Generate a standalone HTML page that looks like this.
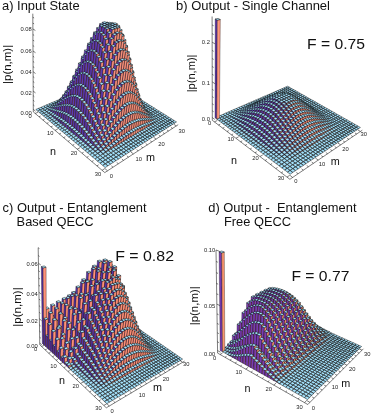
<!DOCTYPE html>
<html><head><meta charset="utf-8"><title>Figure</title>
<style>
html,body{margin:0;padding:0;background:#fff}
svg{display:block}
text{font-family:"Liberation Sans",Arial,sans-serif;fill:#111}
.tk text{fill:#222}
.t{fill:#a4e2fc}
.m{fill:#6546bc}
.n{fill:#f6917c}
.b path{stroke:#000;stroke-width:4.6;stroke-linejoin:round}
.b path.m,.b path.n{stroke-width:3.2}
.b path.ax{stroke:#111;stroke-width:5.5;fill:none}
#pa .m{fill:#5e3cb0}#pa .n{fill:#f7917b}
#pb .m{fill:#5f37a8}#pb .n{fill:#ff967d}
#pc .m{fill:#5834a8}#pc .n{fill:#ff9178}
#pd .m{fill:#783cb0}#pd .n{fill:#fa966e}
</style></head><body>
<svg width="374" height="415" viewBox="0 0 3740 4150">
<rect width="3740" height="4150" fill="#fff"/>
<g class="b">
<g id="pa">
<path class="ax" d="M333 1119 L1048 1726 M1048 1726 L1782 1247 M333 1119 L328 137 M351 1135 L379 1123 M1075 1708 L1049 1685 M390 1168 L406 1160 M1130 1672 L1114 1659 M429 1201 L445 1193 M1183 1637 L1167 1625 M468 1234 L485 1227 M1235 1604 L1219 1591 M509 1269 L526 1261 M1285 1571 L1269 1559 M550 1304 L578 1290 M1334 1539 L1308 1519 M593 1340 L609 1332 M1382 1508 L1366 1496 M636 1377 L653 1368 M1429 1478 L1413 1466 M681 1414 L697 1405 M1474 1448 L1458 1437 M726 1453 L743 1444 M1518 1419 L1503 1408 M772 1492 L800 1477 M1562 1391 L1536 1373 M820 1532 L836 1523 M1604 1363 L1588 1353 M868 1574 L885 1564 M1645 1336 L1630 1326 M918 1616 L935 1606 M1686 1310 L1670 1300 M969 1659 L986 1648 M1725 1284 L1710 1274 M1021 1703 L1049 1685 M1763 1259 L1738 1243 M333 1093 L355 1112 M332 1048 L344 1058 M332 1003 L344 1013 M332 957 L343 967 M332 911 L355 929 M331 864 L343 873 M331 816 L343 825 M331 767 L343 776 M331 717 L355 735 M330 667 L343 675 M330 615 L342 624 M330 563 L342 572 M330 510 L355 527 M329 456 L342 465 M329 402 L342 410 M329 346 L341 354 M328 289 L354 305 M328 231 L341 239 M328 173 L341 180"/>
<path class="t" d="M593 995l17 14 23-10-17-13zM568 1006l17 13 23-10-17-13zM543 1017l17 13 23-10-17-13zM517 1027l18 14 23-10-17-14zM491 1038l18 14 24-10-18-14zM465 1049l18 15 24-11-18-14zM439 1061l17 14 25-11-18-14zM412 1072l17 14 25-10-17-14zM385 1084l17 14 25-11-17-14zM358 1095l17 15 25-11-17-15z"/>
<path class="m" d="M562 1031l18 14 0-9-18-13z"/>
<path class="t" d="M562 1023l18 13 23-10-18-13z"/>
<path class="m" d="M536 1042l18 14 0-7-18-14z"/>
<path class="t" d="M536 1035l18 14 24-10-18-14z"/>
<path class="m" d="M510 1053l18 15 0-6-18-14z"/>
<path class="t" d="M510 1048l18 14 24-10-18-14z"/>
<path class="m" d="M484 1065l18 14 0-3-18-15z"/>
<path class="t" d="M484 1061l18 15 24-11-18-14zM458 1074l17 15 25-11-18-14zM431 1087l18 14 24-10-17-15zM404 1099l18 15 25-11-18-14zM377 1111l17 15 25-11-17-15zM583 1008l18 14 23-11-18-13z"/>
<path class="m" d="M555 1058l18 14 2-31-18-14z"/>
<path class="t" d="M557 1027l18 14 23-10-18-14z"/>
<path class="m" d="M530 1069l18 14 0-23-18-14z"/>
<path class="t" d="M530 1046l18 14 24-10-18-14z"/>
<path class="m" d="M503 1080l18 15 1-15-18-15z"/>
<path class="t" d="M504 1065l18 15 24-11-18-14z"/>
<path class="m" d="M477 1092l18 14 0-8-18-14z"/>
<path class="n" d="M495 1106l24-11 0-8-24 11z"/>
<path class="t" d="M477 1084l18 14 24-11-17-14z"/>
<path class="m" d="M450 1103l18 15 0-3-18-14z"/>
<path class="t" d="M450 1101l18 14 25-11-18-14zM423 1115l18 15 25-11-18-15zM396 1127l18 15 25-11-18-15z"/>
<path class="m" d="M601 1062l18 14 3-80-18-14z"/>
<path class="t" d="M604 982l18 14 24-10-19-14z"/>
<path class="m" d="M575 1073l18 14 3-63-19-14z"/>
<path class="t" d="M577 1010l19 14 23-10-18-14z"/>
<path class="m" d="M549 1084l18 15 2-47-18-14z"/>
<path class="t" d="M551 1038l18 14 24-10-18-14z"/>
<path class="m" d="M523 1096l18 14 1-30-18-15z"/>
<path class="n" d="M541 1110l24-11 1-30-24 11z"/>
<path class="t" d="M524 1065l18 15 24-11-18-14z"/>
<path class="m" d="M496 1107l19 15 0-16-18-15z"/>
<path class="n" d="M515 1122l24-11 0-16-24 11z"/>
<path class="t" d="M497 1091l18 15 24-11-18-15z"/>
<path class="m" d="M470 1119l18 15 0-5-18-15z"/>
<path class="t" d="M470 1114l18 15 25-11-19-15zM443 1131l18 15 25-11-18-15zM415 1143l18 15 25-11-18-15z"/>
<path class="m" d="M620 1077l19 14 6-128-19-14z"/>
<path class="t" d="M626 949l19 14 24-10-19-14z"/>
<path class="m" d="M595 1088l18 15 4-101-18-14z"/>
<path class="t" d="M599 988l18 14 24-11-18-14z"/>
<path class="m" d="M569 1100l18 14 3-74-19-14z"/>
<path class="n" d="M587 1114l24-10 3-74-24 10z"/>
<path class="t" d="M571 1026l19 14 24-10-18-14z"/>
<path class="m" d="M543 1112l18 14 2-49-19-14z"/>
<path class="n" d="M561 1126l24-11 2-48-24 10z"/>
<path class="t" d="M544 1063l19 14 24-10-19-15z"/>
<path class="m" d="M516 1123l18 15 1-26-18-15z"/>
<path class="t" d="M517 1097l18 15 25-11-19-15z"/>
<path class="m" d="M489 1135l19 15 0-8-18-15z"/>
<path class="n" d="M508 1150l24-11 1-9-25 12z"/>
<path class="t" d="M490 1127l18 15 25-12-19-14zM462 1147l18 15 25-11-18-15zM435 1160l18 15 25-12-18-15z"/>
<path class="m" d="M666 1081l18 14 12-218-19-14z"/>
<path class="t" d="M677 863l19 14 24-10-19-13z"/>
<path class="m" d="M640 1092l19 15 9-181-19-14z"/>
<path class="t" d="M649 912l19 14 24-10-19-14z"/>
<path class="m" d="M615 1104l18 14 7-142-19-14z"/>
<path class="n" d="M633 1118l24-10 7-142-24 10z"/>
<path class="t" d="M621 962l19 14 24-10-19-14z"/>
<path class="m" d="M589 1116l18 14 5-104-19-15z"/>
<path class="n" d="M607 1130l24-11 5-104-24 11z"/>
<path class="t" d="M593 1011l19 15 24-11-19-14z"/>
<path class="m" d="M563 1127l18 15 3-68-19-15z"/>
<path class="n" d="M581 1142l24-11 3-68-24 11z"/>
<path class="t" d="M565 1059l19 15 24-11-19-15z"/>
<path class="m" d="M536 1139l18 15 2-37-19-14z"/>
<path class="n" d="M554 1154l25-11 1-37-24 11z"/>
<path class="t" d="M537 1103l19 14 24-11-18-14z"/>
<path class="m" d="M509 1151l19 16 0-13-19-15z"/>
<path class="n" d="M528 1167l24-12 1-12-25 11z"/>
<path class="t" d="M509 1139l19 15 25-11-19-15zM482 1164l18 15 25-11-18-16zM455 1176l18 16 25-12-18-15z"/>
<path class="m" d="M711 1085l19 14 21-330-20-14z"/>
<path class="t" d="M731 755l20 14 24-10-20-13z"/>
<path class="m" d="M686 1096l19 15 16-285-19-14z"/>
<path class="t" d="M702 812l19 14 25-10-20-14z"/>
<path class="m" d="M660 1108l19 14 13-236-19-14z"/>
<path class="t" d="M673 872l19 14 24-10-19-13z"/>
<path class="m" d="M635 1120l19 14 9-185-19-14z"/>
<path class="t" d="M644 935l19 14 24-10-19-15z"/>
<path class="m" d="M609 1132l19 14 6-135-19-15z"/>
<path class="n" d="M628 1146l23-11 7-135-24 11z"/>
<path class="t" d="M615 996l19 15 24-11-19-14z"/>
<path class="m" d="M583 1143l18 15 4-88-19-15z"/>
<path class="n" d="M601 1158l24-11 5-88-25 11z"/>
<path class="t" d="M586 1055l19 15 25-11-19-15z"/>
<path class="m" d="M556 1156l19 15 2-48-19-15z"/>
<path class="n" d="M575 1171l24-12 2-47-24 11z"/>
<path class="t" d="M558 1108l19 15 24-11-19-15z"/>
<path class="m" d="M529 1168l19 15 0-16-18-15z"/>
<path class="t" d="M530 1152l18 15 25-11-19-15zM502 1180l19 16 25-12-19-15zM475 1193l18 15 25-11-18-16zM787 632l21 13 24-9-21-13z"/>
<path class="m" d="M731 1100l19 15 28-409-21-13z"/>
<path class="t" d="M757 693l21 13 24-9-21-13z"/>
<path class="m" d="M706 1112l19 15 22-353-20-13z"/>
<path class="t" d="M727 761l20 13 25-9-21-14z"/>
<path class="m" d="M681 1124l19 14 17-291-20-13z"/>
<path class="n" d="M700 1138l23-11 18-289-24 9z"/>
<path class="t" d="M697 834l20 13 24-9-20-14z"/>
<path class="m" d="M655 1136l19 14 12-228-19-14z"/>
<path class="n" d="M674 1150l24-11 13-227-25 10z"/>
<path class="t" d="M667 908l19 14 25-10-20-14z"/>
<path class="m" d="M629 1148l19 15 8-167-19-14z"/>
<path class="n" d="M648 1163l24-12 9-165-25 10z"/>
<path class="t" d="M637 982l19 14 25-10-20-15z"/>
<path class="m" d="M603 1160l19 15 5-109-20-15z"/>
<path class="n" d="M622 1175l24-11 5-109-24 11z"/>
<path class="t" d="M607 1051l20 15 24-11-19-15z"/>
<path class="m" d="M576 1172l19 15 3-58-19-15z"/>
<path class="n" d="M595 1187l25-11 2-58-24 11z"/>
<path class="t" d="M579 1114l19 15 24-11-19-15z"/>
<path class="m" d="M549 1184l19 16 1-19-19-16z"/>
<path class="n" d="M568 1200l25-12 1-19-25 12z"/>
<path class="t" d="M550 1165l19 16 25-12-19-15zM522 1197l19 16 25-12-19-16zM495 1210l19 15 25-11-19-16z"/>
<path class="m" d="M777 1104l19 15 41-543-22-13z"/>
<path class="t" d="M815 563l22 13 24-9-21-13z"/>
<path class="m" d="M752 1116l19 15 34-484-21-13z"/>
<path class="t" d="M784 634l21 13 25-9-21-13z"/>
<path class="m" d="M727 1128l19 14 28-415-21-14z"/>
<path class="t" d="M753 713l21 14 24-10-20-13z"/>
<path class="m" d="M701 1140l19 14 22-342-20-14z"/>
<path class="n" d="M720 1154l24-11 23-341-25 10z"/>
<path class="t" d="M722 798l20 14 25-10-21-14z"/>
<path class="m" d="M676 1152l19 15 15-269-20-14z"/>
<path class="n" d="M695 1167l23-12 17-267-25 10z"/>
<path class="t" d="M690 884l20 14 25-10-20-14z"/>
<path class="m" d="M650 1164l19 15 10-195-19-15z"/>
<path class="n" d="M669 1179l24-11 11-195-25 11z"/>
<path class="t" d="M660 969l19 15 25-11-20-15z"/>
<path class="m" d="M623 1176l20 15 6-127-20-15z"/>
<path class="n" d="M643 1191l24-11 6-127-24 11z"/>
<path class="t" d="M629 1049l20 15 24-11-19-15z"/>
<path class="m" d="M597 1189l19 15 3-68-19-16z"/>
<path class="n" d="M616 1204l24-12 4-68-25 12z"/>
<path class="t" d="M600 1120l19 16 25-12-20-15z"/>
<path class="m" d="M570 1201l19 16 1-23-19-15z"/>
<path class="n" d="M589 1217l25-12 1-22-25 11z"/>
<path class="t" d="M571 1179l19 15 25-11-19-16zM543 1214l19 16 25-12-19-16zM515 1227l19 16 26-12-19-16z"/>
<path class="m" d="M822 1108l19 15 56-676-21-13z"/>
<path class="t" d="M876 434l21 13 25-8-22-13z"/>
<path class="m" d="M797 1120l20 15 49-620-22-13z"/>
<path class="t" d="M844 502l22 13 24-9-21-12z"/>
<path class="m" d="M773 1132l19 15 41-552-21-13z"/>
<path class="n" d="M792 1147l23-11 43-550-25 9z"/>
<path class="t" d="M812 582l21 13 25-9-21-13z"/>
<path class="m" d="M748 1144l19 15 33-474-21-13z"/>
<path class="n" d="M767 1159l23-12 35-471-25 9z"/>
<path class="t" d="M779 672l21 13 25-9-21-13z"/>
<path class="m" d="M722 1156l19 15 26-390-20-14z"/>
<path class="n" d="M741 1171l24-11 27-389-25 10z"/>
<path class="t" d="M747 767l20 14 25-10-21-14z"/>
<path class="m" d="M696 1168l20 15 19-304-21-15z"/>
<path class="n" d="M716 1183l23-11 20-304-24 11z"/>
<path class="t" d="M714 864l21 15 24-11-20-14z"/>
<path class="m" d="M670 1180l20 16 12-222-20-15z"/>
<path class="n" d="M690 1196l24-12 13-220-25 10z"/>
<path class="t" d="M682 959l20 15 25-10-20-15z"/>
<path class="m" d="M644 1193l19 15 8-144-20-15z"/>
<path class="n" d="M663 1208l25-11 8-144-25 11z"/>
<path class="t" d="M651 1049l20 15 25-11-20-15z"/>
<path class="m" d="M618 1205l19 16 4-77-20-16z"/>
<path class="n" d="M637 1221l24-12 4-77-24 12z"/>
<path class="t" d="M621 1128l20 16 24-12-19-15z"/>
<path class="m" d="M591 1218l19 16 1-26-19-15z"/>
<path class="n" d="M610 1234l25-12 1-25-25 11z"/>
<path class="t" d="M592 1193l19 15 25-11-19-16zM563 1231l20 16 25-12-20-16zM536 1244l19 16 25-12-19-16z"/>
<path class="m" d="M867 1112l20 15 72-793-23-13z"/>
<path class="t" d="M936 321l23 13 25-8-23-12z"/>
<path class="m" d="M843 1124l20 15 65-748-23-13z"/>
<path class="n" d="M863 1139l22-11 67-745-24 8z"/>
<path class="t" d="M905 378l23 13 24-8-22-12z"/>
<path class="m" d="M818 1136l20 15 57-686-22-13z"/>
<path class="n" d="M838 1151l23-11 59-683-25 8z"/>
<path class="t" d="M873 452l22 13 25-8-22-13z"/>
<path class="m" d="M794 1148l19 15 48-609-22-13z"/>
<path class="n" d="M813 1163l23-11 50-607-25 9z"/>
<path class="t" d="M839 541l22 13 25-9-22-13z"/>
<path class="m" d="M769 1160l19 15 39-522-22-14z"/>
<path class="n" d="M788 1175l23-11 41-520-25 9z"/>
<path class="t" d="M805 639l22 14 25-9-22-14z"/>
<path class="m" d="M743 1172l20 15 30-429-21-14z"/>
<path class="n" d="M763 1187l23-11 32-428-25 10z"/>
<path class="t" d="M772 744l21 14 25-10-21-14z"/>
<path class="m" d="M717 1184l20 16 22-335-21-15z"/>
<path class="n" d="M737 1200l24-12 23-333-25 10z"/>
<path class="t" d="M738 850l21 15 25-10-21-15z"/>
<path class="m" d="M691 1197l20 15 15-243-21-15z"/>
<path class="n" d="M711 1212l24-11 16-242-25 10z"/>
<path class="t" d="M705 954l21 15 25-10-21-15z"/>
<path class="m" d="M665 1209l20 16 9-158-20-15z"/>
<path class="n" d="M685 1225l24-12 9-157-24 11z"/>
<path class="t" d="M674 1052l20 15 24-11-20-15z"/>
<path class="m" d="M639 1222l19 16 4-85-19-15z"/>
<path class="n" d="M658 1238l24-12 5-84-25 11z"/>
<path class="t" d="M643 1138l19 15 25-11-20-16z"/>
<path class="m" d="M612 1235l19 16 1-28-19-15z"/>
<path class="n" d="M631 1251l25-12 1-28-25 12z"/>
<path class="t" d="M613 1208l19 15 25-12-19-15zM584 1248l20 16 25-12-20-16zM557 1262l19 16 26-13-20-16zM1049 227l23 12 24-7-23-12z"/>
<path class="m" d="M936 1105l20 14 91-884-23-12z"/>
<path class="n" d="M956 1119l22-10 93-881-24 7z"/>
<path class="t" d="M1024 223l23 12 24-7-23-12z"/>
<path class="m" d="M913 1116l19 15 87-881-23-12z"/>
<path class="t" d="M996 238l23 12 25-7-23-12z"/>
<path class="m" d="M889 1128l19 15 81-853-23-12z"/>
<path class="n" d="M908 1143l22-11 84-849-25 7z"/>
<path class="t" d="M966 278l23 12 25-7-23-12z"/>
<path class="m" d="M864 1140l20 15 73-804-23-12z"/>
<path class="n" d="M884 1155l22-11 76-800-25 7z"/>
<path class="t" d="M934 339l23 12 25-7-23-13z"/>
<path class="m" d="M840 1152l19 15 64-736-22-13z"/>
<path class="n" d="M859 1167l23-11 66-733-25 8z"/>
<path class="t" d="M901 418l22 13 25-8-22-13z"/>
<path class="m" d="M815 1164l20 15 54-653-23-13z"/>
<path class="n" d="M835 1179l22-11 57-650-25 8z"/>
<path class="t" d="M866 513l23 13 25-8-23-13z"/>
<path class="m" d="M790 1176l19 15 44-559-22-13z"/>
<path class="n" d="M809 1191l24-11 45-557-25 9z"/>
<path class="t" d="M831 619l22 13 25-9-21-13z"/>
<path class="m" d="M764 1188l20 16 34-459-21-15z"/>
<path class="n" d="M784 1204l23-12 36-457-25 10z"/>
<path class="t" d="M797 730l21 15 25-10-21-14z"/>
<path class="m" d="M739 1201l19 15 25-357-21-15z"/>
<path class="n" d="M758 1216l24-11 26-357-25 11z"/>
<path class="t" d="M762 844l21 15 25-11-21-14z"/>
<path class="m" d="M713 1214l19 15 17-259-20-15z"/>
<path class="n" d="M732 1229l24-12 18-258-25 11z"/>
<path class="t" d="M729 955l20 15 25-11-20-15z"/>
<path class="m" d="M686 1226l20 16 10-169-20-15z"/>
<path class="n" d="M706 1242l24-12 11-168-25 11z"/>
<path class="t" d="M696 1058l20 15 25-11-20-15z"/>
<path class="m" d="M660 1239l19 16 5-90-20-16z"/>
<path class="n" d="M679 1255l25-12 5-90-25 12z"/>
<path class="t" d="M664 1149l20 16 25-12-20-15z"/>
<path class="m" d="M633 1252l19 17 2-30-20-16z"/>
<path class="n" d="M652 1269l25-13 2-29-25 12z"/>
<path class="t" d="M634 1223l20 16 25-12-20-16zM605 1266l20 16 25-12-19-16zM578 1279l19 17 26-13-20-16zM1100 231l24 12 23-7-23-12z"/>
<path class="m" d="M981 1109l20 14 98-883-24-12z"/>
<path class="n" d="M1001 1123l21-10 101-880-24 7z"/>
<path class="t" d="M1075 228l24 12 24-7-24-11z"/>
<path class="m" d="M958 1120l20 15 94-887-23-12z"/>
<path class="n" d="M978 1135l21-11 98-883-25 7z"/>
<path class="t" d="M1049 236l23 12 25-7-24-12z"/>
<path class="m" d="M934 1132l20 15 92-891-24-12z"/>
<path class="n" d="M954 1147l22-11 94-887-24 7z"/>
<path class="t" d="M1022 244l24 12 24-7-23-12z"/>
<path class="m" d="M910 1144l20 15 88-891-23-12z"/>
<path class="n" d="M930 1159l22-11 91-887-25 7z"/>
<path class="t" d="M995 256l23 12 25-7-24-13z"/>
<path class="m" d="M886 1156l20 15 79-839-23-13z"/>
<path class="n" d="M906 1171l22-11 82-836-25 8z"/>
<path class="t" d="M962 319l23 13 25-8-23-12z"/>
<path class="m" d="M861 1168l20 15 70-768-23-13z"/>
<path class="n" d="M881 1183l23-11 72-765-25 8z"/>
<path class="t" d="M928 402l23 13 25-8-23-13z"/>
<path class="m" d="M836 1180l20 15 59-681-22-13z"/>
<path class="n" d="M856 1195l23-11 61-678-25 8z"/>
<path class="t" d="M893 501l22 13 25-8-22-13z"/>
<path class="m" d="M811 1193l20 15 48-583-22-14z"/>
<path class="n" d="M831 1208l23-12 50-580-25 9z"/>
<path class="t" d="M857 611l22 14 25-9-22-14z"/>
<path class="m" d="M786 1205l20 16 37-479-22-14z"/>
<path class="n" d="M806 1221l23-12 39-477-25 10z"/>
<path class="t" d="M821 728l22 14 25-10-22-14z"/>
<path class="m" d="M760 1218l20 15 27-372-21-15z"/>
<path class="n" d="M780 1233l24-11 29-372-26 11z"/>
<path class="t" d="M786 846l21 15 26-11-22-14z"/>
<path class="m" d="M734 1231l20 15 19-270-21-15z"/>
<path class="n" d="M754 1246l24-12 20-269-25 11z"/>
<path class="t" d="M752 961l21 15 25-11-21-15z"/>
<path class="m" d="M708 1244l20 15 11-175-21-16z"/>
<path class="n" d="M728 1259l24-12 12-174-25 11z"/>
<path class="t" d="M718 1068l21 16 25-11-21-16z"/>
<path class="m" d="M681 1257l20 16 6-94-21-16z"/>
<path class="n" d="M701 1273l24-12 7-94-25 12z"/>
<path class="t" d="M686 1163l21 16 25-12-21-16z"/>
<path class="m" d="M654 1270l20 16 2-30-20-17z"/>
<path class="n" d="M674 1286l25-12 2-31-25 13z"/>
<path class="t" d="M656 1239l20 17 25-13-20-16zM627 1283l20 17 25-13-20-16zM599 1297l20 17 25-13-19-17z"/>
<path class="m" d="M1026 1113l20 14 105-882-24-11z"/>
<path class="n" d="M1046 1127l21-10 107-879-23 7z"/>
<path class="t" d="M1127 234l24 11 23-7-23-11z"/>
<path class="m" d="M1003 1124l20 15 102-886-24-12z"/>
<path class="n" d="M1023 1139l21-11 105-882-24 7z"/>
<path class="t" d="M1101 241l24 12 24-7-24-12z"/>
<path class="m" d="M979 1136l20 15 99-890-24-12z"/>
<path class="n" d="M999 1151l22-11 101-886-24 7z"/>
<path class="t" d="M1074 249l24 12 24-7-23-12zM1048 257l23 12 25-7-24-12z"/>
<path class="m" d="M932 1160l20 15 92-898-23-12z"/>
<path class="n" d="M952 1175l22-11 95-894-25 7z"/>
<path class="t" d="M1021 265l23 12 25-7-24-13z"/>
<path class="m" d="M907 1172l21 15 84-853-24-13z"/>
<path class="n" d="M928 1187l22-11 87-850-25 8z"/>
<path class="t" d="M988 321l24 13 25-8-23-12z"/>
<path class="m" d="M883 1184l20 15 74-780-23-13z"/>
<path class="n" d="M903 1199l23-11 76-777-25 8z"/>
<path class="t" d="M954 406l23 13 25-8-23-13z"/>
<path class="m" d="M858 1197l20 15 63-692-23-13z"/>
<path class="n" d="M878 1212l23-12 65-689-25 9z"/>
<path class="t" d="M918 507l23 13 25-9-23-13z"/>
<path class="m" d="M833 1209l20 16 51-592-22-14z"/>
<path class="n" d="M853 1225l23-12 53-590-25 10z"/>
<path class="t" d="M882 619l22 14 25-10-22-14z"/>
<path class="m" d="M807 1222l21 16 40-486-23-15z"/>
<path class="n" d="M828 1238l23-12 42-484-25 10z"/>
<path class="t" d="M845 737l23 15 25-10-22-15z"/>
<path class="m" d="M782 1235l20 16 29-379-21-15z"/>
<path class="n" d="M802 1251l24-12 30-377-25 10z"/>
<path class="t" d="M810 857l21 15 25-10-21-15z"/>
<path class="m" d="M756 1248l20 16 20-274-21-16z"/>
<path class="n" d="M776 1264l24-12 21-273-25 11z"/>
<path class="t" d="M775 974l21 16 25-11-21-16z"/>
<path class="m" d="M729 1261l20 16 13-178-21-16z"/>
<path class="n" d="M749 1277l25-12 13-178-25 12z"/>
<path class="t" d="M741 1083l21 16 25-12-21-15z"/>
<path class="m" d="M703 1274l20 16 6-95-21-16z"/>
<path class="n" d="M723 1290l24-12 7-95-25 12z"/>
<path class="t" d="M708 1179l21 16 25-12-21-16z"/>
<path class="m" d="M676 1288l20 16 2-31-21-16z"/>
<path class="n" d="M696 1304l25-12 2-32-25 13z"/>
<path class="t" d="M677 1257l21 16 25-13-21-16zM648 1301l20 17 26-13-20-16zM621 1315l20 17 25-13-20-17z"/>
<path class="n" d="M1068 1143l21-11 110-873-23 7z"/>
<path class="t" d="M1152 254l24 12 23-7-24-12z"/>
<path class="m" d="M1025 1140l20 15 106-889-24-12z"/>
<path class="n" d="M1045 1155l21-11 109-885-24 7z"/>
<path class="t" d="M1127 254l24 12 24-7-24-12zM1100 262l24 12 25-7-24-12z"/>
<path class="m" d="M978 1164l20 15 100-897-25-12z"/>
<path class="t" d="M1073 270l25 12 24-7-24-12z"/>
<path class="m" d="M954 1176l20 15 96-899-24-12z"/>
<path class="n" d="M974 1191l22-11 99-896-25 8z"/>
<path class="t" d="M1046 280l24 12 25-8-24-12z"/>
<path class="m" d="M929 1188l21 16 87-847-24-13z"/>
<path class="n" d="M950 1204l22-12 90-843-25 8z"/>
<path class="t" d="M1013 344l24 13 25-8-24-13z"/>
<path class="m" d="M905 1201l20 15 77-775-24-13z"/>
<path class="n" d="M925 1216l23-11 79-772-25 8z"/>
<path class="t" d="M978 428l24 13 25-8-23-13z"/>
<path class="m" d="M880 1213l20 16 65-687-23-14z"/>
<path class="n" d="M900 1229l23-12 68-684-26 9z"/>
<path class="t" d="M942 528l23 14 26-9-23-14z"/>
<path class="m" d="M855 1226l20 16 53-588-22-14z"/>
<path class="n" d="M875 1242l23-12 56-586-26 10z"/>
<path class="t" d="M906 640l22 14 26-10-23-14z"/>
<path class="m" d="M829 1239l21 16 41-483-22-14z"/>
<path class="n" d="M850 1255l23-12 44-481-26 10z"/>
<path class="t" d="M869 758l22 14 26-10-23-14z"/>
<path class="m" d="M804 1252l20 16 31-376-22-15z"/>
<path class="n" d="M824 1268l24-12 32-374-25 10z"/>
<path class="t" d="M833 877l22 15 25-10-22-15z"/>
<path class="m" d="M778 1265l20 16 21-272-21-15z"/>
<path class="n" d="M798 1281l24-12 22-271-25 11z"/>
<path class="t" d="M798 994l21 15 25-11-21-16z"/>
<path class="m" d="M751 1278l21 17 12-177-21-16z"/>
<path class="n" d="M772 1295l24-13 13-176-25 12z"/>
<path class="t" d="M763 1102l21 16 25-12-21-16z"/>
<path class="m" d="M725 1292l20 16 6-94-20-16z"/>
<path class="n" d="M745 1308l24-12 7-94-25 12z"/>
<path class="t" d="M731 1198l20 16 25-12-20-17z"/>
<path class="m" d="M698 1305l20 17 2-31-21-16z"/>
<path class="n" d="M718 1322l25-13 2-30-25 12z"/>
<path class="t" d="M699 1275l21 16 25-12-21-17zM670 1319l20 17 26-13-21-16zM643 1333l20 17 25-13-20-17z"/>
<path class="n" d="M1113 1147l21-11 106-791-23 7z"/>
<path class="t" d="M1193 340l24 12 23-7-24-13z"/>
<path class="n" d="M1091 1159l21-11 110-849-23 8z"/>
<path class="t" d="M1175 294l24 13 23-8-24-12z"/>
<path class="n" d="M1067 1171l22-11 112-887-24 7z"/>
<path class="t" d="M1153 268l24 12 24-7-24-12z"/>
<path class="n" d="M1044 1183l21-11 110-892-24 8z"/>
<path class="t" d="M1126 275l25 13 24-8-24-12z"/>
<path class="m" d="M1000 1180l20 15 104-899-24-13z"/>
<path class="n" d="M1020 1195l22-11 107-896-25 8z"/>
<path class="t" d="M1100 283l24 13 25-8-25-12z"/>
<path class="m" d="M976 1192l20 16 98-874-25-13z"/>
<path class="n" d="M996 1208l22-12 100-870-24 8z"/>
<path class="t" d="M1069 321l25 13 24-8-24-13z"/>
<path class="m" d="M951 1205l21 15 88-823-24-13z"/>
<path class="n" d="M972 1220l22-11 91-820-25 8z"/>
<path class="t" d="M1036 384l24 13 25-8-24-13z"/>
<path class="m" d="M927 1217l20 16 78-753-23-14z"/>
<path class="n" d="M947 1233l23-12 80-750-25 9z"/>
<path class="t" d="M1002 466l23 14 25-9-23-13z"/>
<path class="m" d="M902 1230l21 16 66-668-23-14z"/>
<path class="n" d="M923 1246l22-12 69-666-25 10z"/>
<path class="t" d="M966 564l23 14 25-10-23-13z"/>
<path class="m" d="M877 1243l20 16 55-572-23-15z"/>
<path class="n" d="M897 1259l24-12 56-570-25 10z"/>
<path class="t" d="M929 672l23 15 25-10-23-14z"/>
<path class="m" d="M851 1256l21 16 43-470-23-14z"/>
<path class="n" d="M872 1272l23-12 45-468-25 10z"/>
<path class="t" d="M892 788l23 14 25-10-23-15z"/>
<path class="m" d="M826 1269l20 16 32-365-22-16z"/>
<path class="n" d="M846 1285l24-12 33-364-25 11z"/>
<path class="t" d="M856 904l22 16 25-11-22-15z"/>
<path class="m" d="M800 1283l20 16 22-265-22-16z"/>
<path class="n" d="M820 1299l24-13 23-264-25 12z"/>
<path class="t" d="M820 1018l22 16 25-12-22-15z"/>
<path class="m" d="M773 1296l21 16 13-172-21-16z"/>
<path class="n" d="M794 1312l24-12 14-172-25 12z"/>
<path class="t" d="M786 1124l21 16 25-12-21-16z"/>
<path class="m" d="M747 1310l20 16 7-92-21-16z"/>
<path class="n" d="M767 1326l25-12 7-92-25 12z"/>
<path class="t" d="M753 1218l21 16 25-12-21-16z"/>
<path class="m" d="M720 1324l20 16 2-30-20-17z"/>
<path class="n" d="M740 1340l25-13 2-30-25 13z"/>
<path class="t" d="M722 1293l20 17 25-13-20-16zM692 1338l21 17 25-14-21-16zM665 1352l20 17 26-13-21-17zM1391 1005l20 13 18-9-20-13z"/>
<path class="n" d="M1159 1151l20-11 97-684-22 8z"/>
<path class="t" d="M1230 451l24 13 22-8-23-13z"/>
<path class="n" d="M1136 1163l21-11 104-753-23 8z"/>
<path class="t" d="M1214 394l24 13 23-8-24-13z"/>
<path class="n" d="M1113 1175l21-11 109-807-24 7z"/>
<path class="t" d="M1195 352l24 12 24-7-24-13z"/>
<path class="m" d="M1069 1172l21 15 108-847-25-12z"/>
<path class="n" d="M1090 1187l21-11 111-844-24 8z"/>
<path class="t" d="M1173 328l25 12 24-8-25-12z"/>
<path class="m" d="M1046 1184l20 15 107-863-24-13z"/>
<path class="n" d="M1066 1199l22-11 109-860-24 8z"/>
<path class="t" d="M1149 323l24 13 24-8-24-12z"/>
<path class="m" d="M1022 1197l21 15 103-858-25-13z"/>
<path class="n" d="M1043 1212l22-12 105-854-24 8z"/>
<path class="t" d="M1121 341l25 13 24-8-24-13z"/>
<path class="m" d="M998 1209l21 15 96-831-24-13z"/>
<path class="n" d="M1019 1224l22-11 99-828-25 8z"/>
<path class="t" d="M1091 380l24 13 25-8-25-13z"/>
<path class="m" d="M974 1222l21 15 87-783-24-13z"/>
<path class="n" d="M995 1237l22-12 90-780-25 9z"/>
<path class="t" d="M1058 441l24 13 25-9-24-13z"/>
<path class="m" d="M949 1234l21 16 77-717-24-14z"/>
<path class="n" d="M970 1250l23-12 79-714-25 9z"/>
<path class="t" d="M1023 519l24 14 25-9-24-14z"/>
<path class="m" d="M924 1247l21 16 66-636-23-14z"/>
<path class="n" d="M945 1263l23-12 68-634-25 10z"/>
<path class="t" d="M988 613l23 14 25-10-23-14z"/>
<path class="m" d="M899 1260l21 16 54-545-23-14z"/>
<path class="n" d="M920 1276l23-12 56-543-25 10z"/>
<path class="t" d="M951 717l23 14 25-10-23-14z"/>
<path class="m" d="M874 1273l21 16 42-447-23-15z"/>
<path class="n" d="M895 1289l23-12 44-446-25 11z"/>
<path class="t" d="M914 827l23 15 25-11-22-15z"/>
<path class="m" d="M848 1287l21 16 32-349-23-15z"/>
<path class="n" d="M869 1303l24-12 32-348-24 11z"/>
<path class="t" d="M878 939l23 15 24-11-22-15z"/>
<path class="m" d="M822 1300l21 17 22-253-22-16z"/>
<path class="n" d="M843 1317l24-13 23-252-25 12z"/>
<path class="t" d="M843 1048l22 16 25-12-22-16z"/>
<path class="m" d="M796 1314l20 17 14-165-22-16z"/>
<path class="n" d="M816 1331l25-13 14-164-25 12z"/>
<path class="t" d="M808 1150l22 16 25-12-22-16z"/>
<path class="m" d="M769 1328l21 17 7-88-22-17z"/>
<path class="n" d="M790 1345l24-13 7-88-24 13z"/>
<path class="t" d="M775 1240l22 17 24-13-21-17z"/>
<path class="m" d="M742 1342l21 17 2-29-21-17z"/>
<path class="n" d="M763 1359l25-13 2-29-25 13z"/>
<path class="t" d="M744 1313l21 17 25-13-21-17zM715 1356l20 17 26-13-21-17zM687 1370l21 18 25-14-21-17zM1413 1019l21 13 18-9-21-13zM1393 1030l21 13 18-10-20-13z"/>
<path class="n" d="M1204 1155l20-11 84-562-22 8z"/>
<path class="t" d="M1263 577l23 13 22-8-23-13z"/>
<path class="n" d="M1181 1167l21-11 93-637-22 8z"/>
<path class="t" d="M1249 514l24 13 22-8-24-13z"/>
<path class="n" d="M1159 1179l21-11 99-701-22 8z"/>
<path class="t" d="M1233 463l24 12 22-8-24-13z"/>
<path class="m" d="M1115 1176l21 15 102-754-24-12z"/>
<path class="n" d="M1136 1191l21-11 104-751-23 8z"/>
<path class="t" d="M1214 425l24 12 23-8-24-12z"/>
<path class="n" d="M1113 1203l21-11 106-784-24 8z"/>
<path class="t" d="M1192 403l24 13 24-8-24-13z"/>
<path class="m" d="M1068 1201l21 15 103-802-25-13z"/>
<path class="n" d="M1089 1216l22-12 105-799-24 9z"/>
<path class="t" d="M1167 401l25 13 24-9-25-12z"/>
<path class="m" d="M1045 1213l21 15 99-797-25-13z"/>
<path class="n" d="M1066 1228l21-11 102-794-24 8z"/>
<path class="t" d="M1140 418l25 13 24-8-25-13z"/>
<path class="m" d="M1021 1226l21 15 92-772-24-14z"/>
<path class="n" d="M1042 1241l22-12 95-769-25 9z"/>
<path class="t" d="M1110 455l24 14 25-9-24-13z"/>
<path class="m" d="M996 1238l21 16 85-728-24-14z"/>
<path class="n" d="M1017 1254l23-12 87-725-25 9z"/>
<path class="t" d="M1078 512l24 14 25-9-25-14z"/>
<path class="m" d="M972 1251l21 16 75-667-24-14z"/>
<path class="n" d="M993 1267l22-12 77-664-24 9z"/>
<path class="t" d="M1044 586l24 14 24-9-24-14z"/>
<path class="m" d="M947 1264l21 16 64-592-24-15z"/>
<path class="n" d="M968 1280l23-12 66-590-25 10z"/>
<path class="t" d="M1008 673l24 15 25-10-24-14z"/>
<path class="m" d="M922 1278l21 16 53-508-24-15z"/>
<path class="n" d="M943 1294l23-13 54-506-24 11z"/>
<path class="t" d="M972 771l24 15 24-11-23-14z"/>
<path class="m" d="M896 1291l21 16 42-418-23-15z"/>
<path class="n" d="M917 1307l24-12 43-417-25 11z"/>
<path class="t" d="M936 874l23 15 25-11-23-15z"/>
<path class="m" d="M871 1304l21 17 31-326-23-16z"/>
<path class="n" d="M892 1321l23-13 33-324-25 11z"/>
<path class="t" d="M900 979l23 16 25-11-23-16z"/>
<path class="m" d="M845 1318l21 17 21-237-22-16z"/>
<path class="n" d="M866 1335l24-13 22-236-25 12z"/>
<path class="t" d="M865 1082l22 16 25-12-22-16z"/>
<path class="m" d="M818 1332l21 17 14-154-22-17z"/>
<path class="n" d="M839 1349l25-13 13-154-24 13z"/>
<path class="t" d="M831 1178l22 17 24-13-21-16z"/>
<path class="m" d="M792 1346l21 17 6-82-21-17z"/>
<path class="n" d="M813 1363l24-13 7-82-25 13z"/>
<path class="t" d="M798 1264l21 17 25-13-21-17z"/>
<path class="m" d="M765 1360l21 17 2-27-22-17z"/>
<path class="n" d="M786 1377l24-13 3-27-25 13z"/>
<path class="t" d="M766 1333l22 17 25-13-22-17zM737 1375l21 17 25-13-21-18zM709 1389l21 18 26-14-21-17zM1436 1034l21 13 18-10-21-13zM1416 1044l21 14 18-10-21-14z"/>
<path class="n" d="M1249 1159l20-11 69-438-21 10z"/>
<path class="t" d="M1293 706l24 14 21-10-23-13z"/>
<path class="n" d="M1227 1171l20-11 79-512-22 9z"/>
<path class="t" d="M1281 644l23 13 22-9-24-13z"/>
<path class="n" d="M1204 1183l21-11 87-579-22 9z"/>
<path class="t" d="M1266 588l24 14 22-9-24-13z"/>
<path class="m" d="M1161 1180l21 15 91-639-24-13z"/>
<path class="n" d="M1182 1195l20-11 94-636-23 8z"/>
<path class="t" d="M1249 543l24 13 23-8-24-14z"/>
<path class="n" d="M1159 1207l21-11 98-681-23 9z"/>
<path class="t" d="M1230 510l25 14 23-9-25-13z"/>
<path class="m" d="M1115 1205l21 15 97-714-24-13z"/>
<path class="n" d="M1136 1220l21-12 99-711-23 9z"/>
<path class="t" d="M1209 493l24 13 23-9-24-13z"/>
<path class="m" d="M1091 1217l21 15 97-727-25-13z"/>
<path class="n" d="M1112 1232l22-11 98-725-23 9z"/>
<path class="t" d="M1184 492l25 13 23-9-24-13z"/>
<path class="m" d="M1067 1230l22 15 93-723-25-13z"/>
<path class="n" d="M1089 1245l21-12 96-720-24 9z"/>
<path class="t" d="M1157 509l25 13 24-9-25-13z"/>
<path class="m" d="M1043 1242l22 16 87-700-24-14z"/>
<path class="n" d="M1065 1258l22-12 89-698-24 10z"/>
<path class="t" d="M1128 544l24 14 24-10-24-13z"/>
<path class="m" d="M1019 1255l21 16 80-661-24-14z"/>
<path class="n" d="M1040 1271l23-12 82-658-25 9z"/>
<path class="t" d="M1096 596l24 14 25-9-25-14z"/>
<path class="m" d="M995 1268l21 16 71-606-24-14z"/>
<path class="n" d="M1016 1284l23-12 72-603-24 9z"/>
<path class="t" d="M1063 664l24 14 24-9-24-15z"/>
<path class="m" d="M970 1282l21 16 61-539-24-15z"/>
<path class="n" d="M991 1298l23-12 62-537-24 10z"/>
<path class="t" d="M1028 744l24 15 24-10-23-15z"/>
<path class="m" d="M945 1295l21 16 50-462-23-15z"/>
<path class="n" d="M966 1311l23-12 52-461-25 11z"/>
<path class="t" d="M993 834l23 15 25-11-24-15z"/>
<path class="m" d="M919 1309l22 16 39-381-23-15z"/>
<path class="n" d="M941 1325l23-13 41-379-25 11z"/>
<path class="t" d="M957 929l23 15 25-11-23-15z"/>
<path class="m" d="M894 1322l21 17 29-298-22-15z"/>
<path class="n" d="M915 1339l24-13 30-296-25 11z"/>
<path class="t" d="M922 1026l22 15 25-11-22-16z"/>
<path class="m" d="M868 1336l21 17 20-216-22-17z"/>
<path class="n" d="M889 1353l24-13 21-215-25 12z"/>
<path class="t" d="M887 1120l22 17 25-12-22-17z"/>
<path class="m" d="M841 1350l21 17 13-141-22-16z"/>
<path class="n" d="M862 1367l25-13 13-140-25 12z"/>
<path class="t" d="M853 1210l22 16 25-12-22-17z"/>
<path class="m" d="M814 1365l22 17 6-76-21-17z"/>
<path class="n" d="M836 1382l24-14 7-75-25 13z"/>
<path class="t" d="M821 1289l21 17 25-13-22-17z"/>
<path class="m" d="M787 1379l22 17 2-24-22-18z"/>
<path class="n" d="M809 1396l24-13 3-25-25 14z"/>
<path class="t" d="M789 1354l22 18 25-14-22-17zM760 1393l21 18 25-14-21-17zM732 1408l21 18 26-14-21-17zM1458 1048l21 13 18-9-21-14zM1439 1059l21 13 18-10-21-13zM1419 1069l21 14 18-10-21-13z"/>
<path class="n" d="M1294 1163l20-11 53-320-21 10z"/>
<path class="t" d="M1323 828l23 14 21-10-23-13z"/>
<path class="n" d="M1272 1175l20-11 63-389-21 10z"/>
<path class="t" d="M1311 771l23 14 21-10-23-13z"/>
<path class="n" d="M1250 1187l20-11 72-454-21 10z"/>
<path class="t" d="M1297 718l24 14 21-10-23-13z"/>
<path class="n" d="M1228 1199l20-11 80-513-22 10z"/>
<path class="t" d="M1282 671l24 14 22-10-24-13z"/>
<path class="m" d="M1184 1196l21 15 84-564-24-14z"/>
<path class="n" d="M1205 1211l21-11 85-563-22 10z"/>
<path class="t" d="M1265 633l24 14 22-10-24-13z"/>
<path class="n" d="M1182 1224l21-12 89-601-23 9z"/>
<path class="t" d="M1245 606l24 14 23-9-24-14z"/>
<path class="m" d="M1138 1221l21 16 89-631-25-13z"/>
<path class="n" d="M1159 1237l21-12 91-628-23 9z"/>
<path class="t" d="M1223 593l25 13 23-9-24-13z"/>
<path class="m" d="M1114 1234l22 15 88-642-25-14z"/>
<path class="n" d="M1136 1249l21-11 90-640-23 9z"/>
<path class="t" d="M1199 593l25 14 23-9-24-14z"/>
<path class="m" d="M1091 1247l21 15 85-638-24-14z"/>
<path class="n" d="M1112 1262l22-12 87-635-24 9z"/>
<path class="t" d="M1173 610l24 14 24-9-25-14z"/>
<path class="m" d="M1067 1260l21 15 80-618-24-15z"/>
<path class="n" d="M1088 1275l22-12 82-616-24 10z"/>
<path class="t" d="M1144 642l24 15 24-10-24-14z"/>
<path class="m" d="M1042 1273l22 16 73-584-24-15z"/>
<path class="n" d="M1064 1289l22-13 75-581-24 10z"/>
<path class="t" d="M1113 690l24 15 24-10-24-15z"/>
<path class="m" d="M1018 1286l21 16 65-536-24-15z"/>
<path class="n" d="M1039 1302l23-12 66-534-24 10z"/>
<path class="t" d="M1080 751l24 15 24-10-23-15z"/>
<path class="m" d="M993 1299l21 17 56-478-23-15z"/>
<path class="n" d="M1014 1316l23-13 58-475-25 10z"/>
<path class="t" d="M1047 823l23 15 25-10-24-15z"/>
<path class="m" d="M968 1313l21 16 47-410-24-15z"/>
<path class="n" d="M989 1329l23-12 48-409-24 11z"/>
<path class="t" d="M1012 904l24 15 24-11-23-15z"/>
<path class="m" d="M942 1327l22 16 37-338-23-16z"/>
<path class="n" d="M964 1343l23-13 38-337-24 12z"/>
<path class="t" d="M978 989l23 16 24-12-23-15z"/>
<path class="m" d="M917 1340l21 17 28-264-23-17z"/>
<path class="n" d="M938 1357l24-13 28-263-24 12z"/>
<path class="t" d="M943 1076l23 17 24-12-22-16z"/>
<path class="m" d="M891 1355l21 17 19-193-22-17z"/>
<path class="n" d="M912 1372l24-14 20-192-25 13z"/>
<path class="t" d="M909 1162l22 17 25-13-22-16z"/>
<path class="m" d="M864 1369l22 17 12-126-22-17z"/>
<path class="n" d="M886 1386l24-13 12-126-24 13z"/>
<path class="t" d="M876 1243l22 17 24-13-22-16z"/>
<path class="m" d="M838 1383l21 18 6-68-22-17z"/>
<path class="n" d="M859 1401l25-14 6-67-25 13z"/>
<path class="t" d="M843 1316l22 17 25-13-22-17z"/>
<path class="m" d="M810 1398l22 17 2-22-22-17z"/>
<path class="n" d="M832 1415l25-13 2-22-25 13z"/>
<path class="t" d="M812 1376l22 17 25-13-22-18zM783 1413l22 17 25-13-22-18zM755 1428l22 17 25-13-21-18zM1481 1063l22 13 18-10-22-13zM1462 1073l21 14 18-10-21-14zM1442 1084l21 14 18-10-21-14zM1366 981l22 14 20-10-23-14z"/>
<path class="n" d="M1339 1167l19-11 38-217-20 10z"/>
<path class="t" d="M1353 935l23 14 20-10-23-14z"/>
<path class="n" d="M1317 1179l20-11 47-276-21 10z"/>
<path class="t" d="M1341 888l22 14 21-10-23-14z"/>
<path class="n" d="M1295 1191l20-11 56-335-21 10z"/>
<path class="t" d="M1327 841l23 14 21-10-23-14z"/>
<path class="m" d="M1252 1188l21 15 63-391-23-14z"/>
<path class="n" d="M1273 1203l21-11 63-390-21 10z"/>
<path class="t" d="M1313 798l23 14 21-10-23-14z"/>
<path class="n" d="M1251 1215l20-11 71-440-22 10z"/>
<path class="t" d="M1296 760l24 14 22-10-24-14z"/>
<path class="n" d="M1228 1228l21-12 76-482-23 10z"/>
<path class="t" d="M1279 730l23 14 23-10-24-14z"/>
<path class="m" d="M1184 1225l22 16 77-518-24-14z"/>
<path class="n" d="M1206 1241l21-12 78-516-22 10z"/>
<path class="t" d="M1259 709l24 14 22-10-24-14z"/>
<path class="m" d="M1161 1238l22 15 78-539-24-15z"/>
<path class="n" d="M1183 1253l21-11 80-538-23 10z"/>
<path class="t" d="M1237 699l24 15 23-10-24-14z"/>
<path class="m" d="M1137 1251l22 15 78-549-24-15z"/>
<path class="n" d="M1159 1266l22-12 79-547-23 10z"/>
<path class="t" d="M1213 702l24 15 23-10-24-14z"/>
<path class="m" d="M1114 1264l21 15 76-546-24-15z"/>
<path class="n" d="M1135 1279l22-12 77-544-23 10z"/>
<path class="t" d="M1187 718l24 15 23-10-24-14z"/>
<path class="m" d="M1090 1277l22 16 70-530-24-15z"/>
<path class="n" d="M1112 1293l22-12 72-528-24 10z"/>
<path class="t" d="M1158 748l24 15 24-10-24-15z"/>
<path class="m" d="M1066 1290l21 16 65-500-24-15z"/>
<path class="n" d="M1087 1306l23-12 66-499-24 11z"/>
<path class="t" d="M1128 791l24 15 24-11-24-15z"/>
<path class="m" d="M1041 1303l22 17 58-460-24-15z"/>
<path class="n" d="M1063 1320l22-13 60-458-24 11z"/>
<path class="t" d="M1097 845l24 15 24-11-24-15z"/>
<path class="m" d="M1016 1317l22 16 50-410-24-15z"/>
<path class="n" d="M1038 1333l23-12 51-409-24 11z"/>
<path class="t" d="M1064 908l24 15 24-11-24-15z"/>
<path class="m" d="M991 1331l22 16 41-353-23-15z"/>
<path class="n" d="M1013 1347l23-12 43-352-25 11z"/>
<path class="t" d="M1031 979l23 15 25-11-24-16z"/>
<path class="m" d="M966 1345l22 16 32-291-23-16z"/>
<path class="n" d="M988 1361l23-12 34-291-25 12z"/>
<path class="t" d="M997 1054l23 16 25-12-23-16z"/>
<path class="m" d="M940 1359l22 17 25-229-23-16z"/>
<path class="n" d="M962 1376l23-13 26-228-24 12z"/>
<path class="t" d="M964 1131l23 16 24-12-23-16z"/>
<path class="m" d="M914 1373l22 17 17-166-22-17z"/>
<path class="n" d="M936 1390l24-13 18-166-25 13z"/>
<path class="t" d="M931 1207l22 17 25-13-23-17z"/>
<path class="m" d="M888 1387l21 18 11-109-22-17z"/>
<path class="n" d="M909 1405l25-14 11-108-25 13z"/>
<path class="t" d="M898 1279l22 17 25-13-22-17z"/>
<path class="m" d="M861 1402l22 18 5-59-22-17z"/>
<path class="n" d="M883 1420l24-14 6-58-25 13z"/>
<path class="t" d="M866 1344l22 17 25-13-22-18z"/>
<path class="m" d="M834 1417l22 18 1-20-22-17z"/>
<path class="n" d="M856 1435l24-14 2-19-25 13z"/>
<path class="t" d="M835 1398l22 17 25-13-22-18zM806 1432l22 18 25-14-21-18zM779 1447l21 18 26-14-22-18zM1504 1077l22 14 18-10-22-14zM1485 1088l21 14 18-10-21-14zM1465 1099l21 14 19-10-22-14zM1445 1110l21 14 19-11-22-13zM1428 1103l22 14 18-11-21-14z"/>
<path class="n" d="M1405 1159l19-11 16-89-19 11z"/>
<path class="t" d="M1399 1056l22 14 19-11-22-14z"/>
<path class="n" d="M1384 1171l19-11 24-133-20 10z"/>
<path class="t" d="M1385 1023l22 14 20-10-22-14z"/>
<path class="n" d="M1362 1183l20-11 32-181-20 10z"/>
<path class="t" d="M1371 987l23 14 20-10-23-14z"/>
<path class="n" d="M1341 1195l20-11 40-230-21 10z"/>
<path class="t" d="M1357 950l23 14 21-10-23-14z"/>
<path class="n" d="M1319 1207l20-11 48-278-21 10z"/>
<path class="t" d="M1343 914l23 14 21-10-23-14z"/>
<path class="m" d="M1275 1204l22 16 53-325-23-14z"/>
<path class="n" d="M1297 1220l20-12 55-323-22 10z"/>
<path class="t" d="M1327 881l23 14 22-10-24-15z"/>
<path class="m" d="M1253 1217l22 15 59-366-24-14z"/>
<path class="n" d="M1275 1232l20-11 60-365-21 10z"/>
<path class="t" d="M1310 852l24 14 21-10-23-14z"/>
<path class="m" d="M1230 1229l22 16 63-401-23-15z"/>
<path class="n" d="M1252 1245l21-12 64-399-22 10z"/>
<path class="t" d="M1292 829l23 15 22-10-24-15z"/>
<path class="n" d="M1229 1258l21-12 67-427-22 11z"/>
<path class="t" d="M1271 815l24 15 22-11-24-14z"/>
<path class="m" d="M1184 1255l22 15 67-445-24-15z"/>
<path class="n" d="M1206 1270l21-11 69-445-23 11z"/>
<path class="t" d="M1249 810l24 15 23-11-24-14z"/>
<path class="m" d="M1161 1268l22 16 66-454-24-15z"/>
<path class="n" d="M1183 1284l21-12 68-453-23 11z"/>
<path class="t" d="M1225 815l24 15 23-11-24-14z"/>
<path class="m" d="M1137 1281l22 16 65-451-24-15z"/>
<path class="n" d="M1159 1297l22-12 66-450-23 11z"/>
<path class="t" d="M1200 831l24 15 23-11-24-15z"/>
<path class="m" d="M1113 1294l22 16 61-437-24-16z"/>
<path class="n" d="M1135 1310l22-12 62-436-23 11z"/>
<path class="t" d="M1172 857l24 16 23-11-24-15z"/>
<path class="m" d="M1089 1308l22 16 56-414-24-15z"/>
<path class="n" d="M1111 1324l22-13 57-412-23 11z"/>
<path class="t" d="M1143 895l24 15 23-11-23-15z"/>
<path class="m" d="M1065 1321l22 17 49-381-23-16z"/>
<path class="n" d="M1087 1338l22-13 51-379-24 11z"/>
<path class="t" d="M1113 941l23 16 24-11-24-16z"/>
<path class="m" d="M1040 1335l22 17 43-340-24-16z"/>
<path class="n" d="M1062 1352l23-13 44-339-24 12z"/>
<path class="t" d="M1081 996l24 16 24-12-24-16z"/>
<path class="m" d="M1015 1349l22 17 36-293-24-16z"/>
<path class="n" d="M1037 1366l23-13 37-292-24 12z"/>
<path class="t" d="M1049 1057l24 16 24-12-24-16z"/>
<path class="m" d="M989 1363l22 17 29-242-23-17z"/>
<path class="n" d="M1011 1380l24-13 29-242-24 13z"/>
<path class="t" d="M1017 1121l23 17 24-13-23-16z"/>
<path class="m" d="M964 1377l22 17 21-190-23-17z"/>
<path class="n" d="M986 1394l23-13 23-190-25 13z"/>
<path class="t" d="M984 1187l23 17 25-13-23-16z"/>
<path class="m" d="M938 1392l22 17 15-139-23-17z"/>
<path class="n" d="M960 1409l24-13 15-139-24 13z"/>
<path class="t" d="M952 1253l23 17 24-13-22-17z"/>
<path class="m" d="M911 1406l22 18 10-91-23-18z"/>
<path class="n" d="M933 1424l24-14 10-90-24 13z"/>
<path class="t" d="M920 1315l23 18 24-13-22-18z"/>
<path class="m" d="M884 1421l22 18 5-49-22-18z"/>
<path class="n" d="M906 1439l25-14 5-49-25 14z"/>
<path class="t" d="M889 1372l22 18 25-14-22-17z"/>
<path class="m" d="M857 1436l22 18 2-16-22-18z"/>
<path class="n" d="M879 1454l25-14 2-16-25 14z"/>
<path class="t" d="M859 1420l22 18 25-14-22-18zM830 1451l22 19 25-15-22-18zM802 1467l22 18 26-14-22-18zM1528 1092l22 14 17-10-21-14zM1508 1103l22 14 18-10-22-14zM1488 1114l22 14 18-10-21-14zM1468 1125l22 14 19-10-22-14z"/>
<path class="n" d="M1470 1151l18-10 3-16-18 11z"/>
<path class="t" d="M1451 1122l22 14 18-11-22-14z"/>
<path class="n" d="M1449 1163l19-11 8-40-19 11z"/>
<path class="t" d="M1435 1109l22 14 19-11-22-14z"/>
<path class="n" d="M1428 1175l19-11 14-71-19 11z"/>
<path class="t" d="M1419 1089l23 15 19-11-22-14z"/>
<path class="n" d="M1407 1187l20-11 19-106-19 10z"/>
<path class="t" d="M1404 1066l23 14 19-10-22-15z"/>
<path class="n" d="M1386 1199l20-11 26-144-20 10z"/>
<path class="t" d="M1389 1040l23 14 20-10-23-15z"/>
<path class="n" d="M1365 1211l19-11 33-183-20 11z"/>
<path class="t" d="M1374 1013l23 15 20-11-23-14z"/>
<path class="n" d="M1343 1224l20-12 39-221-21 11z"/>
<path class="t" d="M1358 987l23 15 21-11-23-14z"/>
<path class="n" d="M1321 1236l20-11 44-257-21 11z"/>
<path class="t" d="M1341 964l23 15 21-11-23-14z"/>
<path class="n" d="M1299 1249l20-12 49-289-21 11z"/>
<path class="t" d="M1323 944l24 15 21-11-23-14z"/>
<path class="n" d="M1276 1262l21-12 52-316-22 11z"/>
<path class="t" d="M1304 930l23 15 22-11-23-15z"/>
<path class="n" d="M1253 1275l21-12 55-337-22 11z"/>
<path class="t" d="M1283 922l24 15 22-11-24-15z"/>
<path class="n" d="M1230 1288l21-12 56-351-22 11z"/>
<path class="t" d="M1261 921l24 15 22-11-24-15z"/>
<path class="m" d="M1185 1285l22 16 54-358-24-15z"/>
<path class="n" d="M1207 1301l21-12 56-357-23 11z"/>
<path class="t" d="M1237 928l24 15 23-11-24-15z"/>
<path class="m" d="M1161 1298l22 16 53-356-24-15z"/>
<path class="n" d="M1183 1314l22-12 54-355-23 11z"/>
<path class="t" d="M1212 943l24 15 23-11-24-15z"/>
<path class="m" d="M1137 1312l22 16 50-346-24-15z"/>
<path class="n" d="M1159 1328l22-12 51-345-23 11z"/>
<path class="t" d="M1185 967l24 15 23-11-24-15z"/>
<path class="m" d="M1113 1325l22 17 46-327-24-16z"/>
<path class="n" d="M1135 1342l23-13 46-326-23 12z"/>
<path class="t" d="M1157 999l24 16 23-12-24-15z"/>
<path class="m" d="M1089 1339l22 17 40-301-23-16z"/>
<path class="n" d="M1111 1356l22-13 42-300-24 12z"/>
<path class="t" d="M1128 1039l23 16 24-12-24-16z"/>
<path class="m" d="M1064 1353l22 17 35-269-23-17z"/>
<path class="n" d="M1086 1370l23-13 36-268-24 12z"/>
<path class="t" d="M1098 1084l23 17 24-12-23-16z"/>
<path class="m" d="M1039 1367l22 17 29-232-23-17z"/>
<path class="n" d="M1061 1384l23-13 30-232-24 13z"/>
<path class="t" d="M1067 1135l23 17 24-13-23-16z"/>
<path class="m" d="M1013 1381l22 18 24-193-23-17z"/>
<path class="n" d="M1035 1399l24-14 24-192-24 13z"/>
<path class="t" d="M1036 1189l23 17 24-13-23-16z"/>
<path class="m" d="M988 1396l22 17 18-151-23-17z"/>
<path class="n" d="M1010 1413l23-13 19-151-24 13z"/>
<path class="t" d="M1005 1245l23 17 24-13-23-17z"/>
<path class="m" d="M961 1411l23 17 12-111-22-17z"/>
<path class="n" d="M984 1428l24-13 13-111-25 13z"/>
<path class="t" d="M974 1300l22 17 25-13-23-17z"/>
<path class="m" d="M935 1425l22 18 8-73-22-17z"/>
<path class="n" d="M957 1443l25-14 8-72-25 13z"/>
<path class="t" d="M943 1353l22 17 25-13-23-18z"/>
<path class="m" d="M908 1440l23 18 4-39-23-18z"/>
<path class="n" d="M931 1458l24-14 4-39-24 14z"/>
<path class="t" d="M912 1401l23 18 24-14-22-17z"/>
<path class="m" d="M881 1456l23 18 1-13-22-18z"/>
<path class="n" d="M904 1474l24-14 2-13-25 14z"/>
<path class="t" d="M883 1443l22 18 25-14-22-18zM854 1471l22 18 25-14-22-18zM826 1487l22 18 26-14-22-19zM1551 1107l22 14 18-10-22-14zM1532 1118l22 14 18-10-22-14zM1512 1129l22 15 18-11-22-14zM1492 1141l22 14 18-11-22-14z"/>
<path class="n" d="M1494 1167l18-11 3-11-19 10z"/>
<path class="t" d="M1474 1141l22 14 19-10-22-15z"/>
<path class="n" d="M1473 1179l19-11 6-30-19 11z"/>
<path class="t" d="M1457 1134l22 15 19-11-22-15z"/>
<path class="n" d="M1452 1191l19-11 11-54-19 11z"/>
<path class="t" d="M1440 1123l23 14 19-11-23-14z"/>
<path class="n" d="M1431 1203l20-11 15-80-20 11z"/>
<path class="t" d="M1424 1108l22 15 20-11-23-15z"/>
<path class="n" d="M1410 1215l20-11 20-108-20 11z"/>
<path class="t" d="M1407 1092l23 15 20-11-23-15z"/>
<path class="n" d="M1389 1228l19-12 26-137-20 11z"/>
<path class="t" d="M1391 1076l23 14 20-11-23-14z"/>
<path class="n" d="M1367 1240l20-11 30-165-21 11z"/>
<path class="t" d="M1373 1060l23 15 21-11-23-15z"/>
<path class="n" d="M1345 1253l20-12 34-191-21 11z"/>
<path class="t" d="M1355 1046l23 15 21-11-23-15z"/>
<path class="n" d="M1323 1266l20-12 38-215-21 11z"/>
<path class="t" d="M1336 1035l24 15 21-11-24-15z"/>
<path class="n" d="M1300 1279l21-12 40-235-21 11z"/>
<path class="t" d="M1316 1028l24 15 21-11-23-15z"/>
<path class="n" d="M1278 1292l21-12 41-251-21 12z"/>
<path class="t" d="M1295 1025l24 16 21-12-23-15z"/>
<path class="m" d="M1232 1289l23 16 41-261-23-16z"/>
<path class="n" d="M1255 1305l21-12 42-261-22 12z"/>
<path class="t" d="M1273 1028l23 16 22-12-23-15z"/>
<path class="m" d="M1209 1302l22 17 42-266-24-16z"/>
<path class="n" d="M1231 1319l22-13 42-265-22 12z"/>
<path class="t" d="M1249 1037l24 16 22-12-24-15z"/>
<path class="m" d="M1185 1316l23 16 40-264-24-16z"/>
<path class="n" d="M1208 1332l21-12 41-264-22 12z"/>
<path class="t" d="M1224 1052l24 16 22-12-23-16z"/>
<path class="m" d="M1161 1329l23 17 38-257-24-16z"/>
<path class="n" d="M1184 1346l22-13 39-256-23 12z"/>
<path class="t" d="M1198 1073l24 16 23-12-24-15z"/>
<path class="m" d="M1137 1343l23 17 35-243-24-16z"/>
<path class="n" d="M1160 1360l22-13 36-242-23 12z"/>
<path class="t" d="M1171 1101l24 16 23-12-24-16z"/>
<path class="m" d="M1113 1357l22 17 32-224-24-16z"/>
<path class="n" d="M1135 1374l23-13 32-223-23 12z"/>
<path class="t" d="M1143 1134l24 16 23-12-24-17z"/>
<path class="m" d="M1088 1371l22 17 28-200-24-17z"/>
<path class="n" d="M1110 1388l23-13 28-200-23 13z"/>
<path class="t" d="M1114 1171l24 17 23-13-23-16z"/>
<path class="m" d="M1063 1386l22 17 23-174-23-17z"/>
<path class="n" d="M1085 1403l23-13 24-173-24 12z"/>
<path class="t" d="M1085 1212l23 17 24-12-23-17z"/>
<path class="m" d="M1037 1400l23 18 18-145-23-17z"/>
<path class="n" d="M1060 1418l23-14 19-144-24 13z"/>
<path class="t" d="M1055 1256l23 17 24-13-23-16z"/>
<path class="m" d="M1012 1415l22 17 14-113-23-17z"/>
<path class="n" d="M1034 1432l24-13 14-113-24 13z"/>
<path class="t" d="M1025 1302l23 17 24-13-23-18z"/>
<path class="m" d="M986 1430l22 18 10-84-23-17z"/>
<path class="n" d="M1008 1448l24-14 10-83-24 13z"/>
<path class="t" d="M995 1347l23 17 24-13-23-18z"/>
<path class="m" d="M959 1445l23 18 6-55-23-18z"/>
<path class="n" d="M982 1463l24-14 6-55-24 14z"/>
<path class="t" d="M965 1390l23 18 24-14-22-17z"/>
<path class="m" d="M933 1460l22 18 3-29-22-18z"/>
<path class="n" d="M955 1478l25-14 3-29-25 14z"/>
<path class="t" d="M936 1431l22 18 25-14-23-18z"/>
<path class="m" d="M905 1475l23 19 1-10-23-18z"/>
<path class="n" d="M928 1494l25-15 1-9-25 14z"/>
<path class="t" d="M906 1466l23 18 25-14-23-18zM878 1491l23 19 25-15-23-18zM850 1507l23 19 25-15-22-19zM1575 1122l23 14 17-10-22-14zM1556 1133l22 15 18-11-22-14zM1536 1145l22 14 18-11-22-14zM1516 1156l22 15 19-11-23-14z"/>
<path class="n" d="M1518 1183l18-11 2-8-19 11z"/>
<path class="t" d="M1497 1160l22 15 19-11-22-14z"/>
<path class="n" d="M1497 1195l19-11 4-21-18 11z"/>
<path class="t" d="M1479 1159l23 15 18-11-22-15z"/>
<path class="n" d="M1477 1207l19-11 7-37-19 11z"/>
<path class="t" d="M1461 1155l23 15 19-11-22-15z"/>
<path class="n" d="M1456 1219l19-11 11-55-20 11z"/>
<path class="t" d="M1444 1149l22 15 20-11-23-15z"/>
<path class="n" d="M1435 1232l19-12 14-74-19 11z"/>
<path class="t" d="M1426 1142l23 15 19-11-22-15z"/>
<path class="m" d="M1391 1229l22 15 18-94-23-15z"/>
<path class="n" d="M1413 1244l20-11 18-94-20 11z"/>
<path class="t" d="M1408 1135l23 15 20-11-23-15z"/>
<path class="n" d="M1391 1257l20-12 21-113-20 12z"/>
<path class="t" d="M1389 1129l23 15 20-12-23-15z"/>
<path class="n" d="M1369 1270l21-12 23-131-20 12z"/>
<path class="t" d="M1370 1123l23 16 20-12-23-15z"/>
<path class="n" d="M1347 1283l21-12 26-147-21 12z"/>
<path class="t" d="M1350 1120l23 16 21-12-23-15z"/>
<path class="n" d="M1325 1296l20-12 29-160-22 11z"/>
<path class="t" d="M1329 1120l23 15 22-11-24-16z"/>
<path class="m" d="M1280 1293l22 16 29-171-24-15z"/>
<path class="n" d="M1302 1309l21-12 29-170-21 11z"/>
<path class="t" d="M1307 1123l24 15 21-11-23-16z"/>
<path class="m" d="M1256 1307l23 16 29-178-23-16z"/>
<path class="n" d="M1279 1323l21-13 30-177-22 12z"/>
<path class="t" d="M1285 1129l23 16 22-12-23-16z"/>
<path class="m" d="M1233 1320l23 16 29-180-24-16z"/>
<path class="n" d="M1256 1336l21-12 30-180-22 12z"/>
<path class="t" d="M1261 1140l24 16 22-12-24-16z"/>
<path class="m" d="M1210 1334l22 16 28-180-23-16z"/>
<path class="n" d="M1232 1350l22-13 29-179-23 12z"/>
<path class="t" d="M1237 1154l23 16 23-12-24-16z"/>
<path class="m" d="M1186 1347l22 17 27-174-23-17z"/>
<path class="n" d="M1208 1364l22-13 28-174-23 13z"/>
<path class="t" d="M1212 1173l23 17 23-13-24-16z"/>
<path class="m" d="M1162 1361l22 17 25-165-24-17z"/>
<path class="n" d="M1184 1378l22-13 26-165-23 13z"/>
<path class="t" d="M1185 1196l24 17 23-13-24-16z"/>
<path class="m" d="M1137 1376l23 17 22-153-24-17z"/>
<path class="n" d="M1160 1393l22-14 23-152-23 13z"/>
<path class="t" d="M1158 1223l24 17 23-13-24-16z"/>
<path class="m" d="M1112 1390l23 17 19-137-23-17z"/>
<path class="n" d="M1135 1407l23-13 20-137-24 13z"/>
<path class="t" d="M1131 1253l23 17 24-13-24-16z"/>
<path class="m" d="M1087 1404l23 18 16-119-23-17z"/>
<path class="n" d="M1110 1422l23-14 17-118-24 13z"/>
<path class="t" d="M1103 1286l23 17 24-13-24-17z"/>
<path class="m" d="M1062 1419l23 18 13-99-24-17z"/>
<path class="n" d="M1085 1437l23-14 13-98-23 13z"/>
<path class="t" d="M1074 1321l24 17 23-13-23-17z"/>
<path class="m" d="M1036 1434l23 18 10-78-23-18z"/>
<path class="n" d="M1059 1452l24-14 10-78-24 14z"/>
<path class="t" d="M1046 1356l23 18 24-14-23-17z"/>
<path class="m" d="M1010 1449l23 18 7-57-23-18z"/>
<path class="n" d="M1033 1467l24-14 7-57-24 14z"/>
<path class="t" d="M1017 1392l23 18 24-14-23-18z"/>
<path class="m" d="M984 1464l22 19 5-38-23-18z"/>
<path class="n" d="M1006 1483l25-15 4-37-24 14z"/>
<path class="t" d="M988 1427l23 18 24-14-23-18z"/>
<path class="m" d="M957 1480l23 18 2-20-23-18z"/>
<path class="n" d="M980 1498l24-14 3-20-25 14z"/>
<path class="t" d="M959 1460l23 18 25-14-23-19z"/>
<path class="m" d="M930 1495l23 19 0-7-22-18z"/>
<path class="n" d="M953 1514l25-15 0-6-25 14z"/>
<path class="t" d="M931 1489l22 18 25-14-22-19zM903 1511l22 19 25-15-22-18zM875 1527l22 19 26-15-23-18zM1599 1137l23 14 18-10-23-14zM1580 1149l22 14 18-11-22-14zM1560 1160l23 15 18-11-23-14zM1540 1172l23 15 18-11-22-15z"/>
<path class="n" d="M1542 1199l19-11 1-5-19 11z"/>
<path class="t" d="M1521 1179l22 15 19-11-23-15z"/>
<path class="n" d="M1522 1211l19-11 2-13-19 12z"/>
<path class="t" d="M1502 1184l22 15 19-12-22-14z"/>
<path class="n" d="M1501 1223l19-11 5-22-19 11z"/>
<path class="t" d="M1483 1186l23 15 19-11-23-15z"/>
<path class="n" d="M1480 1236l20-12 6-32-19 11z"/>
<path class="t" d="M1464 1188l23 15 19-11-23-15z"/>
<path class="n" d="M1459 1248l20-11 8-44-19 11z"/>
<path class="t" d="M1445 1189l23 15 19-11-23-15z"/>
<path class="n" d="M1438 1261l19-12 11-55-20 12z"/>
<path class="t" d="M1425 1190l23 16 20-12-23-15z"/>
<path class="n" d="M1416 1274l20-12 13-66-20 11z"/>
<path class="t" d="M1406 1192l23 15 20-11-23-16z"/>
<path class="n" d="M1394 1287l20-12 15-77-21 12z"/>
<path class="t" d="M1385 1194l23 16 21-12-23-15z"/>
<path class="n" d="M1372 1300l20-12 16-86-20 12z"/>
<path class="t" d="M1364 1198l24 16 20-12-23-16z"/>
<path class="n" d="M1350 1313l20-12 17-94-21 12z"/>
<path class="t" d="M1343 1203l23 16 21-12-23-15z"/>
<path class="n" d="M1327 1327l21-13 17-99-21 12z"/>
<path class="t" d="M1321 1211l23 16 21-12-23-16z"/>
<path class="m" d="M1281 1324l23 17 18-105-24-16z"/>
<path class="n" d="M1304 1341l21-13 18-104-21 12z"/>
<path class="t" d="M1298 1220l24 16 21-12-23-16z"/>
<path class="m" d="M1258 1338l23 16 17-106-23-16z"/>
<path class="n" d="M1281 1354l21-12 18-106-22 12z"/>
<path class="t" d="M1275 1232l23 16 22-12-23-16z"/>
<path class="m" d="M1234 1352l23 16 17-105-23-16z"/>
<path class="n" d="M1257 1368l22-13 17-104-22 12z"/>
<path class="t" d="M1251 1247l23 16 22-12-23-17z"/>
<path class="m" d="M1210 1366l23 17 16-103-23-16z"/>
<path class="n" d="M1233 1383l22-14 17-101-23 12z"/>
<path class="t" d="M1226 1264l23 16 23-12-24-17z"/>
<path class="m" d="M1186 1380l23 17 15-97-23-17z"/>
<path class="n" d="M1209 1397l22-13 16-97-23 13z"/>
<path class="t" d="M1201 1283l23 17 23-13-24-17z"/>
<path class="m" d="M1162 1394l23 17 13-89-23-17z"/>
<path class="n" d="M1185 1411l22-13 14-89-23 13z"/>
<path class="t" d="M1175 1305l23 17 23-13-23-17z"/>
<path class="m" d="M1137 1409l23 17 12-80-24-18z"/>
<path class="n" d="M1160 1426l23-13 12-81-23 14z"/>
<path class="t" d="M1148 1328l24 18 23-14-24-17z"/>
<path class="m" d="M1112 1423l23 18 10-70-24-17z"/>
<path class="n" d="M1135 1441l23-14 10-69-23 13z"/>
<path class="t" d="M1121 1354l24 17 23-13-23-17z"/>
<path class="m" d="M1087 1438l23 18 7-58-23-18z"/>
<path class="n" d="M1110 1456l23-14 8-58-24 14z"/>
<path class="t" d="M1094 1380l23 18 24-14-23-17z"/>
<path class="m" d="M1061 1453l23 18 6-46-23-17z"/>
<path class="n" d="M1084 1471l23-14 7-45-24 13z"/>
<path class="t" d="M1067 1408l23 17 24-13-23-18z"/>
<path class="m" d="M1035 1469l23 18 4-34-23-18z"/>
<path class="n" d="M1058 1487l24-14 4-34-24 14z"/>
<path class="t" d="M1039 1435l23 18 24-14-23-18z"/>
<path class="m" d="M1008 1484l23 18 3-22-23-18z"/>
<path class="n" d="M1031 1502l25-14 3-22-25 14z"/>
<path class="t" d="M1011 1462l23 18 25-14-24-18z"/>
<path class="m" d="M982 1500l23 18 1-12-23-18z"/>
<path class="n" d="M1005 1518l24-14 2-12-25 14z"/>
<path class="t" d="M983 1488l23 18 25-14-23-19z"/>
<path class="m" d="M955 1516l23 18 0-4-23-18z"/>
<path class="n" d="M978 1534l25-14 0-4-25 14z"/>
<path class="t" d="M955 1512l23 18 25-14-23-19zM927 1532l23 19 25-15-23-19zM899 1548l23 19 26-15-23-19zM1624 1153l22 14 18-11-22-14zM1604 1164l23 15 18-11-23-14zM1584 1176l23 15 18-11-22-15zM1565 1188l22 15 19-11-23-15zM1545 1198l22 15 19-11-23-15z"/>
<path class="m" d="M1524 1212l23 15 1-5-23-15z"/>
<path class="n" d="M1547 1227l18-11 2-5-19 11z"/>
<path class="t" d="M1525 1207l23 15 19-11-23-15z"/>
<path class="m" d="M1503 1224l23 16 2-10-23-15z"/>
<path class="n" d="M1526 1240l19-12 2-9-19 11z"/>
<path class="t" d="M1505 1215l23 15 19-11-23-15z"/>
<path class="n" d="M1505 1252l19-11 3-14-19 11z"/>
<path class="t" d="M1485 1223l23 15 19-11-23-15z"/>
<path class="m" d="M1461 1250l23 15 4-19-23-15z"/>
<path class="n" d="M1484 1265l19-12 4-18-19 11z"/>
<path class="t" d="M1465 1231l23 15 19-11-23-16z"/>
<path class="n" d="M1463 1278l19-12 5-24-20 12z"/>
<path class="t" d="M1444 1239l23 15 20-12-23-15z"/>
<path class="n" d="M1441 1291l20-12 5-28-20 11z"/>
<path class="t" d="M1423 1247l23 15 20-11-23-16z"/>
<path class="m" d="M1396 1288l23 16 6-33-23-16z"/>
<path class="n" d="M1419 1304l20-12 7-33-21 12z"/>
<path class="t" d="M1402 1255l23 16 21-12-24-16z"/>
<path class="n" d="M1397 1317l20-12 7-37-20 13z"/>
<path class="t" d="M1381 1265l23 16 20-13-23-15z"/>
<path class="n" d="M1375 1331l20-12 8-40-21 12z"/>
<path class="t" d="M1359 1275l23 16 21-12-24-16z"/>
<path class="n" d="M1352 1345l21-13 7-42-21 12z"/>
<path class="t" d="M1336 1286l23 16 21-12-23-17z"/>
<path class="n" d="M1329 1358l21-12 8-44-21 12z"/>
<path class="t" d="M1313 1298l24 16 21-12-23-17z"/>
<path class="m" d="M1283 1356l23 17 7-46-23-16z"/>
<path class="n" d="M1306 1373l21-13 8-45-22 12z"/>
<path class="t" d="M1290 1311l23 16 22-12-23-17z"/>
<path class="m" d="M1259 1370l23 17 8-45-24-17z"/>
<path class="n" d="M1282 1387l22-13 7-45-21 13z"/>
<path class="t" d="M1266 1325l24 17 21-13-23-17z"/>
<path class="m" d="M1235 1384l23 17 7-44-23-17z"/>
<path class="n" d="M1258 1401l22-13 8-44-23 13z"/>
<path class="t" d="M1242 1340l23 17 23-13-24-16z"/>
<path class="m" d="M1211 1398l23 18 7-42-24-17z"/>
<path class="n" d="M1234 1416l22-14 7-41-22 13z"/>
<path class="t" d="M1217 1357l24 17 22-13-23-17z"/>
<path class="m" d="M1187 1413l23 17 6-38-24-17z"/>
<path class="n" d="M1210 1430l22-13 6-38-22 13z"/>
<path class="t" d="M1192 1375l24 17 22-13-23-18z"/>
<path class="m" d="M1162 1428l23 17 5-34-23-18z"/>
<path class="n" d="M1185 1445l23-13 5-35-23 14z"/>
<path class="t" d="M1167 1393l23 18 23-14-23-17z"/>
<path class="m" d="M1137 1443l23 17 4-29-23-18z"/>
<path class="n" d="M1160 1460l23-14 5-29-24 14z"/>
<path class="t" d="M1141 1413l23 18 24-14-24-18z"/>
<path class="m" d="M1112 1458l23 18 3-25-23-18z"/>
<path class="n" d="M1135 1476l23-14 4-25-24 14z"/>
<path class="t" d="M1115 1433l23 18 24-14-24-18z"/>
<path class="m" d="M1086 1473l23 18 3-20-24-18z"/>
<path class="n" d="M1109 1491l24-14 2-20-23 14z"/>
<path class="t" d="M1088 1453l24 18 23-14-23-18z"/>
<path class="m" d="M1060 1488l23 19 2-15-23-18z"/>
<path class="n" d="M1083 1507l24-15 2-14-24 14z"/>
<path class="t" d="M1062 1474l23 18 24-14-23-18z"/>
<path class="m" d="M1033 1504l24 19 1-10-23-18z"/>
<path class="n" d="M1057 1523l24-15 1-9-24 14z"/>
<path class="t" d="M1035 1495l23 18 24-14-23-19z"/>
<path class="m" d="M1007 1520l23 19 1-5-24-19z"/>
<path class="n" d="M1030 1539l25-15 0-5-24 15z"/>
<path class="t" d="M1007 1515l24 19 24-15-23-19zM980 1534l23 19 25-15-23-18zM952 1552l24 20 25-16-24-19zM924 1569l24 19 25-15-23-19zM1648 1168l23 15 18-11-23-14zM1629 1180l23 15 18-11-23-15zM1609 1192l23 15 18-11-23-15zM1589 1204l23 15 18-11-22-15zM1569 1216l23 15 19-11-23-15zM1549 1228l23 15 18-11-22-15zM1528 1240l23 15 19-11-23-16zM1507 1252l24 15 19-11-23-16zM1486 1264l24 16 19-12-23-16z"/>
<path class="m" d="M1465 1279l23 16 0-3-23-15z"/>
<path class="n" d="M1488 1295l19-12 1-3-20 12z"/>
<path class="t" d="M1465 1277l23 15 20-12-23-15z"/>
<path class="n" d="M1466 1308l20-12 1-3-20 12z"/>
<path class="t" d="M1444 1289l23 16 20-12-23-16z"/>
<path class="n" d="M1444 1322l20-13 1-3-20 12z"/>
<path class="t" d="M1422 1302l23 16 20-12-23-16z"/>
<path class="m" d="M1399 1319l23 16 1-4-23-16z"/>
<path class="n" d="M1422 1335l21-12 0-4-20 12z"/>
<path class="t" d="M1400 1315l23 16 20-12-23-17z"/>
<path class="n" d="M1400 1349l20-13 1-4-20 12z"/>
<path class="t" d="M1377 1328l24 16 20-12-23-17z"/>
<path class="m" d="M1354 1346l23 17 1-5-23-17z"/>
<path class="n" d="M1377 1363l21-13 1-5-21 13z"/>
<path class="t" d="M1355 1341l23 17 21-13-23-16z"/>
<path class="m" d="M1331 1360l23 17 1-5-23-17z"/>
<path class="n" d="M1354 1377l21-13 1-5-21 13z"/>
<path class="t" d="M1332 1355l23 17 21-13-23-17z"/>
<path class="m" d="M1308 1374l23 17 1-5-23-17z"/>
<path class="n" d="M1331 1391l21-13 1-5-21 13z"/>
<path class="t" d="M1309 1369l23 17 21-13-23-17z"/>
<path class="m" d="M1284 1388l24 17 0-5-23-17z"/>
<path class="n" d="M1308 1405l21-13 1-5-22 13z"/>
<path class="t" d="M1285 1383l23 17 22-13-23-17z"/>
<path class="m" d="M1260 1403l24 17 1-5-24-17z"/>
<path class="n" d="M1284 1420l22-14 1-4-22 13z"/>
<path class="t" d="M1261 1398l24 17 22-13-24-17z"/>
<path class="m" d="M1236 1417l24 18 0-5-23-17z"/>
<path class="n" d="M1260 1435l22-14 1-5-23 14z"/>
<path class="t" d="M1237 1413l23 17 23-14-24-17z"/>
<path class="m" d="M1212 1432l23 17 1-4-23-17z"/>
<path class="n" d="M1235 1449l23-13 0-4-22 13z"/>
<path class="t" d="M1213 1428l23 17 22-13-23-18z"/>
<path class="m" d="M1187 1447l24 18 0-4-23-18z"/>
<path class="n" d="M1211 1465l22-14 1-4-23 14z"/>
<path class="t" d="M1188 1443l23 18 23-14-24-18z"/>
<path class="m" d="M1162 1462l24 18 0-3-23-18z"/>
<path class="n" d="M1186 1480l23-14 0-3-23 14z"/>
<path class="t" d="M1163 1459l23 18 23-14-23-18z"/>
<path class="m" d="M1137 1477l23 18 1-2-24-19z"/>
<path class="n" d="M1160 1495l24-14 0-3-23 15z"/>
<path class="t" d="M1137 1474l24 19 23-15-23-18zM1111 1491l24 18 24-15-24-18zM1085 1507l24 18 24-14-24-19zM1059 1523l23 19 25-15-24-18zM1032 1540l24 19 24-15-23-19zM1005 1557l24 19 24-15-23-19zM978 1573l23 20 25-16-23-19zM950 1590l23 20 26-16-24-19zM1673 1184l23 15 18-11-23-15zM1654 1196l23 15 18-11-23-15zM1634 1208l23 15 18-11-23-15zM1614 1220l23 15 19-11-24-15zM1594 1232l23 16 19-12-23-15zM1574 1245l23 15 19-11-24-16zM1553 1258l23 15 19-12-23-15zM1532 1270l24 16 19-12-24-15zM1511 1283l23 16 20-12-23-16zM1490 1296l23 16 20-12-24-16zM1468 1310l24 16 19-13-23-16zM1446 1323l24 16 20-12-24-16zM1424 1337l24 16 20-13-23-16zM1402 1350l23 17 21-13-24-16zM1379 1364l24 17 21-13-24-17zM1356 1378l24 17 21-13-24-17zM1333 1392l24 17 21-13-24-17zM1310 1407l23 17 22-13-24-17zM1286 1421l23 18 22-14-23-17zM1262 1436l23 18 23-14-24-17zM1237 1451l24 18 22-14-23-18zM1213 1466l23 18 23-14-24-18zM1188 1481l23 19 23-15-23-18zM1162 1497l24 18 23-14-23-18zM1137 1513l23 18 24-14-24-19zM1111 1529l23 19 24-15-23-19zM1084 1545l24 19 24-15-23-19zM1058 1561l23 19 25-15-24-19zM1031 1578l23 19 25-15-24-20zM1003 1595l24 19 25-15-24-20zM975 1612l24 19 26-15-24-20zM1698 1200l24 15 17-12-23-14zM1679 1212l23 15 18-11-23-15zM1659 1224l24 15 18-11-24-15zM1639 1236l24 16 18-12-23-15zM1619 1249l24 15 18-11-23-16zM1599 1262l23 15 19-12-23-15zM1578 1274l24 16 19-12-24-15zM1558 1287l23 16 19-12-23-16zM1537 1300l23 16 19-12-23-16zM1515 1314l24 16 19-13-23-16zM1494 1327l23 16 20-12-23-16zM1472 1341l24 16 20-13-24-16zM1450 1354l24 17 20-13-24-16zM1427 1368l24 17 21-13-24-17zM1405 1382l24 17 20-13-23-17zM1382 1397l24 17 21-14-24-17zM1359 1411l24 17 21-13-24-17zM1335 1426l24 17 22-14-24-17zM1312 1440l23 18 22-14-24-17zM1288 1455l23 18 23-14-24-17zM1263 1470l24 18 23-14-24-18zM1238 1486l24 18 23-14-24-18zM1213 1501l25 19 22-15-24-18zM1188 1517l24 19 23-15-24-18zM1163 1533l24 19 23-15-24-19zM1137 1549l24 19 24-15-25-19zM1110 1566l24 19 25-15-25-20zM1084 1582l24 20 24-16-24-19zM1057 1599l24 20 25-16-25-20zM1029 1616l24 20 25-16-24-20zM1001 1633l25 20 25-16-24-20zM1724 1216l23 15 18-12-24-14zM1704 1228l24 15 18-11-24-15zM1685 1240l23 16 18-12-23-15zM1665 1253l23 15 19-11-24-16zM1645 1266l23 15 19-12-24-15zM1624 1278l24 16 19-12-24-15zM1604 1291l24 16 19-12-24-16zM1583 1304l24 16 19-12-24-16zM1562 1318l24 16 19-13-23-15zM1541 1331l24 16 19-12-24-16zM1519 1345l24 16 20-13-24-16zM1498 1358l24 17 20-13-24-16zM1476 1372l24 17 20-13-24-16zM1453 1386l24 17 21-13-24-17zM1431 1401l24 17 21-13-24-17zM1408 1415l24 17 21-13-24-17zM1385 1430l24 17 21-13-24-18zM1361 1445l24 17 22-14-24-17zM1338 1460l24 17 22-14-25-17zM1314 1475l24 18 22-14-24-18zM1289 1490l24 18 23-14-24-18zM1265 1506l24 18 23-14-25-19zM1240 1521l24 19 23-15-24-18zM1214 1537l25 19 23-15-24-18zM1189 1553l24 20 24-16-25-18zM1163 1570l24 19 24-15-24-19zM1136 1586l25 20 24-15-24-20zM1110 1603l24 20 25-16-25-19zM1083 1620l24 20 25-16-24-19zM1055 1638l25 20 25-16-24-20zM1028 1655l24 21 26-17-25-20z"/>
<g class="tk"><text x="301" y="1176" font-size="58" text-anchor="middle">0</text><text x="502" y="1351" font-size="58" text-anchor="middle">10</text><text x="739" y="1546" font-size="58" text-anchor="middle">20</text><text x="980" y="1755" font-size="58" text-anchor="middle">30</text><text x="1113" y="1783" font-size="58" text-anchor="middle">0</text><text x="1388" y="1613" font-size="58" text-anchor="middle">10</text><text x="1614" y="1463" font-size="58" text-anchor="middle">20</text><text x="1818" y="1326" font-size="58" text-anchor="middle">30</text><text x="318" y="313" font-size="58" text-anchor="end">0.08</text><text x="318" y="531" font-size="58" text-anchor="end">0.06</text><text x="318" y="743" font-size="58" text-anchor="end">0.04</text><text x="318" y="951" font-size="58" text-anchor="end">0.02</text><text x="318" y="1149" font-size="58" text-anchor="end">0.00</text></g>
</g>
<g id="pb">
<path class="ax" d="M2123 1203 L2899 1793 M2899 1793 L3623 1302 M2123 1203 L2121 165 M2144 1218 L2172 1206 M2926 1774 L2898 1752 M2185 1250 L2202 1242 M2981 1737 L2963 1725 M2227 1282 L2244 1274 M3033 1702 L3016 1689 M2270 1315 L2287 1307 M3084 1667 L3067 1655 M2315 1348 L2331 1340 M3134 1633 L3117 1621 M2360 1382 L2387 1368 M3183 1600 L3154 1581 M2405 1417 L2422 1409 M3230 1568 L3213 1557 M2452 1453 L2469 1444 M3276 1537 L3259 1526 M2501 1490 L2517 1481 M3321 1507 L3304 1496 M2550 1527 L2567 1518 M3364 1477 L3348 1467 M2600 1565 L2628 1549 M3407 1448 L3379 1431 M2651 1605 L2668 1595 M3448 1420 L3432 1410 M2704 1645 L2721 1635 M3489 1393 L3472 1383 M2758 1686 L2775 1675 M3528 1366 L3512 1356 M2813 1728 L2830 1717 M3567 1340 L3550 1330 M2870 1771 L2898 1752 M3604 1314 L3577 1299 M2123 1176 L2148 1194 M2123 1108 L2136 1117 M2123 1038 L2136 1047 M2123 967 L2136 975 M2123 894 L2136 903 M2123 819 L2149 837 M2123 743 L2136 752 M2122 666 L2136 674 M2122 586 L2136 594 M2122 505 L2136 513 M2122 422 L2149 438 M2122 337 L2136 345 M2122 250 L2136 257"/>
<path class="t" d="M2859 870l19 11 18-8-19-11zM2839 879l18 11 19-8-19-11zM2818 888l19 11 19-8-19-11zM2798 897l19 11 19-9-19-10zM2777 906l19 11 19-9-19-11zM2756 915l19 11 19-8-19-12zM2735 924l19 11 19-8-19-12zM2714 933l19 12 19-9-19-11zM2692 943l19 11 20-9-19-11zM2670 952l19 12 20-9-19-12zM2648 962l19 11 20-9-19-11zM2626 971l19 12 20-9-19-12zM2603 981l19 12 21-9-19-12zM2580 991l19 12 21-9-19-12zM2557 1001l19 12 21-9-19-12zM2534 1011l19 12 21-9-19-12zM2510 1021l19 13 22-10-19-12zM2486 1032l19 12 22-9-19-13zM2462 1042l19 13 22-10-19-13zM2438 1053l19 12 22-9-19-13zM2413 1063l19 13 23-10-19-12zM2388 1074l19 13 23-10-19-13zM2363 1085l19 13 23-10-19-13zM2337 1096l19 13 24-10-19-13zM2311 1107l19 14 24-11-19-13zM2285 1119l19 13 24-10-19-14zM2259 1130l19 14 24-11-19-13zM2232 1142l19 14 25-11-19-14zM2205 1154l19 14 25-11-19-14zM2177 1165l19 15 26-12-19-13z"/>
<path class="m" d="M2150 1178l18 14 5-991-21-11z"/>
<path class="n" d="M2168 1192l26-11 9-986-30 6z"/>
<path class="t" d="M2152 190l21 11 30-6-22-11zM2879 882l19 11 18-8-19-11zM2859 891l19 11 19-8-19-11zM2839 900l19 11 19-9-19-10zM2818 909l19 11 19-9-19-11zM2798 918l19 11 19-9-19-11zM2777 926l19 12 19-9-19-11zM2756 935l19 12 19-9-19-11zM2734 944l19 12 20-9-19-11zM2691 962l19 12 20-9-19-12zM2669 971l19 12 20-9-19-11zM2647 981l19 12 20-9-19-12zM2624 990l19 12 21-9-19-12zM2601 1000l19 12 21-9-19-12zM2578 1010l19 12 22-9-20-13zM2555 1020l19 12 21-9-19-13zM2531 1030l19 13 22-10-19-12z"/>
<path class="m" d="M2507 1045l19 13 0-5-19-12z"/>
<path class="t" d="M2507 1041l19 12 22-10-19-12z"/>
<path class="m" d="M2483 1056l19 13 0-5-19-13z"/>
<path class="t" d="M2483 1051l19 13 23-10-20-12zM2459 1062l19 13 22-10-19-13z"/>
<path class="m" d="M2434 1077l19 13 0-4-19-13z"/>
<path class="t" d="M2434 1073l19 13 23-10-19-13z"/>
<path class="m" d="M2409 1088l19 13 0-3-19-13z"/>
<path class="t" d="M2409 1085l19 13 23-10-19-13z"/>
<path class="m" d="M2383 1099l20 14 0-3-19-14z"/>
<path class="t" d="M2384 1096l19 14 23-11-19-13z"/>
<path class="m" d="M2358 1111l19 13 0-3-19-13z"/>
<path class="t" d="M2358 1108l19 13 24-10-19-13zM2332 1120l19 13 24-10-19-14zM2306 1132l19 14 24-11-19-14zM2279 1144l20 14 24-11-19-14zM2253 1156l19 14 24-11-19-14zM2225 1169l20 14 25-12-20-13zM2198 1181l19 14 25-11-19-14zM2170 1193l19 14 26-11-19-14zM2900 894l19 11 18-8-19-11zM2880 903l19 11 18-9-19-11zM2860 912l19 11 18-9-19-11zM2839 921l19 11 19-8-19-12zM2818 929l20 11 19-8-20-11zM2577 1018l19 13 22-10-20-12z"/>
<path class="m" d="M2552 1048l19 13 1-20-19-13z"/>
<path class="t" d="M2553 1028l19 13 22-10-19-12zM2529 1039l19 13 22-10-19-13z"/>
<path class="m" d="M2504 1070l19 13 1-20-19-13z"/>
<path class="t" d="M2505 1050l19 13 23-10-20-13z"/>
<path class="m" d="M2479 1080l20 13 1-18-20-13z"/>
<path class="t" d="M2480 1062l20 13 22-10-19-13z"/>
<path class="m" d="M2455 1091l19 14 1-18-20-13z"/>
<path class="t" d="M2455 1074l20 13 23-10-20-13z"/>
<path class="m" d="M2430 1103l19 13 1-16-20-13z"/>
<path class="t" d="M2430 1087l20 13 23-10-20-13z"/>
<path class="m" d="M2404 1114l20 13 0-13-19-14z"/>
<path class="t" d="M2405 1100l19 14 24-11-20-13z"/>
<path class="m" d="M2379 1125l19 14 1-12-20-13z"/>
<path class="t" d="M2379 1114l20 13 23-10-19-13z"/>
<path class="m" d="M2353 1137l19 13 1-9-20-13z"/>
<path class="t" d="M2353 1128l20 13 23-10-19-14z"/>
<path class="m" d="M2327 1148l19 14 0-7-19-13z"/>
<path class="t" d="M2327 1142l19 13 24-10-19-14z"/>
<path class="m" d="M2300 1160l20 14 0-4-20-14z"/>
<path class="t" d="M2300 1156l20 14 24-11-19-14zM2273 1170l20 14 24-11-19-14zM2246 1183l20 14 25-11-20-14zM2219 1196l19 15 25-12-19-14zM2191 1209l19 14 26-11-19-15zM2921 906l19 11 18-9-19-11zM2901 915l19 11 18-9-19-11zM2880 924l20 11 18-8-19-12zM2860 933l19 11 19-8-19-12zM2551 1032l20 13 22-10-19-13z"/>
<path class="m" d="M2525 1084l19 13 3-40-20-13z"/>
<path class="t" d="M2527 1044l20 13 22-10-20-13z"/>
<path class="m" d="M2500 1095l20 13 2-38-20-13z"/>
<path class="t" d="M2502 1057l20 13 23-10-20-13z"/>
<path class="m" d="M2476 1106l19 13 2-35-20-13z"/>
<path class="t" d="M2477 1071l20 13 23-10-20-13z"/>
<path class="m" d="M2451 1117l19 13 2-31-20-13z"/>
<path class="t" d="M2452 1086l20 13 23-11-20-13z"/>
<path class="m" d="M2425 1128l20 14 1-28-19-13z"/>
<path class="t" d="M2427 1101l19 13 24-10-20-13z"/>
<path class="m" d="M2400 1140l19 13 1-22-19-14z"/>
<path class="t" d="M2401 1117l19 14 24-11-20-13z"/>
<path class="m" d="M2374 1151l19 14 1-18-19-14z"/>
<path class="t" d="M2375 1133l19 14 24-11-20-13z"/>
<path class="m" d="M2348 1163l19 14 1-13-20-14z"/>
<path class="t" d="M2348 1150l20 14 24-11-20-14z"/>
<path class="m" d="M2321 1175l20 14 0-9-20-14z"/>
<path class="t" d="M2321 1166l20 14 24-11-19-14z"/>
<path class="m" d="M2294 1187l20 14 0-4-19-15z"/>
<path class="t" d="M2295 1182l19 15 25-12-20-14zM2267 1198l20 14 25-11-20-14zM2240 1212l19 14 26-11-20-15zM2212 1224l19 15 26-12-19-14zM2942 918l19 11 18-9-19-11zM2922 927l19 11 19-8-20-12zM2901 936l20 11 19-8-20-11zM2881 945l20 12 18-9-19-11zM2574 1021l20 13 23-10-20-13z"/>
<path class="m" d="M2546 1098l20 13 4-64-20-13z"/>
<path class="t" d="M2550 1034l20 13 22-10-20-13z"/>
<path class="m" d="M2522 1109l19 13 4-61-20-13z"/>
<path class="t" d="M2525 1048l20 13 23-10-20-13z"/>
<path class="m" d="M2497 1120l20 13 3-56-20-13z"/>
<path class="t" d="M2500 1064l20 13 23-10-20-13z"/>
<path class="m" d="M2472 1131l20 14 2-50-19-14z"/>
<path class="t" d="M2475 1081l19 14 24-11-20-13z"/>
<path class="m" d="M2447 1143l19 14 3-44-20-14z"/>
<path class="t" d="M2449 1099l20 14 23-11-20-13z"/>
<path class="m" d="M2421 1155l20 13 2-36-20-14z"/>
<path class="t" d="M2423 1118l20 14 23-11-20-13z"/>
<path class="m" d="M2395 1166l20 14 1-29-20-13z"/>
<path class="t" d="M2396 1138l20 13 24-10-20-14z"/>
<path class="m" d="M2369 1178l20 14 1-21-20-14z"/>
<path class="t" d="M2370 1157l20 14 24-11-20-14z"/>
<path class="m" d="M2342 1190l20 15 1-14-20-15z"/>
<path class="n" d="M2362 1205l25-12 0-14-24 12z"/>
<path class="t" d="M2343 1176l20 15 24-12-20-14z"/>
<path class="m" d="M2316 1203l19 14 1-8-20-14z"/>
<path class="n" d="M2335 1217l25-11 0-8-24 11z"/>
<path class="t" d="M2316 1195l20 14 24-11-19-14z"/>
<path class="m" d="M2288 1215l20 14 0-2-19-15z"/>
<path class="n" d="M2308 1229l25-11 0-3-25 12z"/>
<path class="t" d="M2289 1212l19 15 25-12-19-14zM2261 1228l20 14 25-12-20-14zM2233 1240l20 15 25-12-19-14zM2963 930l20 11 18-8-20-12zM2943 939l20 11 18-8-20-11zM2923 948l19 12 19-9-20-11zM2902 958l20 11 19-9-20-11zM2598 1009l20 12 22-9-20-13z"/>
<path class="m" d="M2568 1112l19 13 7-90-21-13z"/>
<path class="t" d="M2573 1022l21 13 22-10-20-13z"/>
<path class="m" d="M2543 1123l20 14 6-86-21-13z"/>
<path class="t" d="M2548 1038l21 13 22-10-20-13z"/>
<path class="m" d="M2518 1135l20 13 5-79-20-13z"/>
<path class="t" d="M2523 1056l20 13 23-10-20-13z"/>
<path class="m" d="M2493 1146l20 14 4-71-20-14z"/>
<path class="t" d="M2497 1075l20 14 24-11-20-13z"/>
<path class="m" d="M2468 1158l20 14 3-62-20-14z"/>
<path class="t" d="M2471 1096l20 14 24-11-20-13z"/>
<path class="m" d="M2443 1170l20 13 2-51-20-14z"/>
<path class="t" d="M2445 1118l20 14 24-11-20-13z"/>
<path class="m" d="M2417 1182l20 14 2-41-21-14z"/>
<path class="n" d="M2437 1196l23-12 3-40-24 11z"/>
<path class="t" d="M2418 1141l21 14 24-11-21-14z"/>
<path class="m" d="M2390 1194l20 14 2-30-20-14z"/>
<path class="n" d="M2410 1208l25-11 1-30-24 11z"/>
<path class="t" d="M2392 1164l20 14 24-11-20-14z"/>
<path class="m" d="M2364 1206l20 14 1-20-20-14z"/>
<path class="t" d="M2365 1186l20 14 24-11-20-14z"/>
<path class="m" d="M2337 1218l20 15 0-11-20-14z"/>
<path class="t" d="M2337 1208l20 14 25-11-20-15z"/>
<path class="m" d="M2310 1231l20 14 0-3-20-15z"/>
<path class="t" d="M2310 1227l20 15 25-12-20-14zM2282 1243l20 15 26-12-20-14zM2255 1256l19 15 26-12-20-15zM2984 942l20 11 18-8-20-11zM2964 951l20 12 19-9-20-11zM2944 961l20 11 19-9-20-11zM2622 995l21 13 22-10-21-12z"/>
<path class="m" d="M2589 1126l20 14 9-117-21-13z"/>
<path class="t" d="M2597 1010l21 13 22-10-20-13z"/>
<path class="m" d="M2565 1138l20 13 8-111-21-13z"/>
<path class="t" d="M2572 1027l21 13 22-10-20-13z"/>
<path class="m" d="M2540 1149l20 14 7-102-21-14z"/>
<path class="t" d="M2546 1047l21 14 23-11-21-13z"/>
<path class="m" d="M2515 1161l20 14 6-92-21-14z"/>
<path class="t" d="M2520 1069l21 14 23-11-20-13z"/>
<path class="m" d="M2490 1173l20 14 5-80-21-14z"/>
<path class="t" d="M2494 1093l21 14 23-11-20-13z"/>
<path class="m" d="M2464 1185l20 14 4-67-20-14z"/>
<path class="n" d="M2484 1199l24-11 4-67-24 11z"/>
<path class="t" d="M2468 1118l20 14 24-11-21-13z"/>
<path class="m" d="M2438 1197l21 14 2-53-20-14z"/>
<path class="n" d="M2459 1211l23-11 3-53-24 11z"/>
<path class="t" d="M2441 1144l20 14 24-11-20-14z"/>
<path class="m" d="M2412 1209l20 14 2-38-20-15z"/>
<path class="n" d="M2432 1223l24-11 2-39-24 12z"/>
<path class="t" d="M2414 1170l20 15 24-12-20-14z"/>
<path class="m" d="M2386 1221l20 15 1-26-20-14z"/>
<path class="n" d="M2406 1236l24-12 1-25-24 11z"/>
<path class="t" d="M2387 1196l20 14 24-11-20-14z"/>
<path class="m" d="M2359 1234l20 15 0-14-20-15z"/>
<path class="n" d="M2379 1249l25-12 0-14-25 12z"/>
<path class="t" d="M2359 1220l20 15 25-12-20-14z"/>
<path class="m" d="M2332 1247l20 14 0-4-20-15z"/>
<path class="n" d="M2352 1261l25-11 0-5-25 12z"/>
<path class="t" d="M2332 1242l20 15 25-12-20-15zM2304 1260l20 14 26-12-21-14zM2276 1273l20 15 26-13-20-14zM3006 954l20 12 18-9-20-11zM2986 964l20 11 18-8-20-12zM2966 973l20 12 18-9-20-12zM2671 971l21 12 22-9-21-13z"/>
<path class="m" d="M2635 1130l21 13 11-147-21-13z"/>
<path class="t" d="M2646 983l21 13 23-10-21-13z"/>
<path class="m" d="M2611 1141l20 13 11-143-21-13z"/>
<path class="t" d="M2621 998l21 13 23-10-21-13z"/>
<path class="m" d="M2587 1152l20 14 10-136-21-13z"/>
<path class="t" d="M2596 1017l21 13 23-10-21-13z"/>
<path class="m" d="M2562 1164l20 14 9-126-21-13z"/>
<path class="t" d="M2570 1039l21 13 23-10-21-13z"/>
<path class="m" d="M2537 1176l20 14 8-113-21-13z"/>
<path class="t" d="M2544 1064l21 13 23-10-21-14z"/>
<path class="m" d="M2512 1188l20 14 6-98-21-14z"/>
<path class="t" d="M2517 1090l21 14 24-11-21-13z"/>
<path class="m" d="M2486 1200l21 14 4-81-20-14z"/>
<path class="n" d="M2507 1214l23-11 5-81-24 11z"/>
<path class="t" d="M2491 1119l20 14 24-11-21-14z"/>
<path class="m" d="M2460 1212l21 15 3-65-20-14z"/>
<path class="n" d="M2481 1227l24-12 3-64-24 11z"/>
<path class="t" d="M2464 1148l20 14 24-11-20-14z"/>
<path class="m" d="M2434 1225l21 14 2-47-21-15z"/>
<path class="n" d="M2455 1239l24-11 2-48-24 12z"/>
<path class="t" d="M2436 1177l21 15 24-12-20-14z"/>
<path class="m" d="M2408 1237l20 15 1-31-20-15z"/>
<path class="n" d="M2428 1252l24-12 2-31-25 12z"/>
<path class="t" d="M2409 1206l20 15 25-12-21-14z"/>
<path class="m" d="M2381 1250l20 15 1-17-21-15z"/>
<path class="n" d="M2401 1265l25-12 1-17-25 12z"/>
<path class="t" d="M2381 1233l21 15 25-12-21-15z"/>
<path class="m" d="M2354 1263l20 15 0-6-20-15z"/>
<path class="n" d="M2374 1278l25-12 0-6-25 12z"/>
<path class="t" d="M2354 1257l20 15 25-12-20-15zM2326 1276l20 15 26-12-21-15zM2298 1289l20 15 26-12-20-15zM3028 967l20 11 18-8-20-12zM3008 976l20 12 18-9-20-11zM2988 986l20 12 18-9-20-12zM2967 995l21 12 18-9-20-12zM2719 951l22 13 21-10-21-12zM2696 959l21 13 22-9-21-13z"/>
<path class="m" d="M2657 1144l21 14 14-173-21-13z"/>
<path class="t" d="M2671 972l21 13 23-10-22-13z"/>
<path class="m" d="M2633 1156l21 13 13-168-21-13z"/>
<path class="t" d="M2646 988l21 13 23-10-21-13z"/>
<path class="m" d="M2609 1167l20 14 12-159-21-14z"/>
<path class="t" d="M2620 1008l21 14 23-10-21-14z"/>
<path class="m" d="M2584 1179l21 14 10-147-21-14z"/>
<path class="t" d="M2594 1032l21 14 24-11-22-13z"/>
<path class="m" d="M2559 1191l21 14 9-132-21-14z"/>
<path class="n" d="M2580 1205l23-11 9-132-23 11z"/>
<path class="t" d="M2568 1059l21 14 23-11-21-13z"/>
<path class="m" d="M2534 1203l21 14 7-114-21-14z"/>
<path class="n" d="M2555 1217l23-11 8-114-24 11z"/>
<path class="t" d="M2541 1089l21 14 24-11-21-14z"/>
<path class="m" d="M2508 1215l21 15 6-96-21-14z"/>
<path class="n" d="M2529 1230l24-12 6-95-24 11z"/>
<path class="t" d="M2514 1120l21 14 24-11-21-14z"/>
<path class="m" d="M2482 1228l21 14 4-75-20-14z"/>
<path class="n" d="M2503 1242l24-11 4-75-24 11z"/>
<path class="t" d="M2487 1153l20 14 24-11-20-14z"/>
<path class="m" d="M2456 1240l21 15 3-55-21-15z"/>
<path class="t" d="M2459 1185l21 15 24-12-21-14z"/>
<path class="m" d="M2430 1253l20 15 2-37-21-14z"/>
<path class="t" d="M2431 1217l21 14 25-11-21-15z"/>
<path class="m" d="M2403 1266l20 15 1-20-20-15z"/>
<path class="n" d="M2423 1281l25-12 1-20-25 12z"/>
<path class="t" d="M2404 1246l20 15 25-12-21-15z"/>
<path class="m" d="M2376 1279l20 15 1-6-21-16z"/>
<path class="n" d="M2396 1294l25-12 1-7-25 13z"/>
<path class="t" d="M2376 1272l21 16 25-13-21-14zM2348 1292l21 15 25-12-21-15zM2320 1306l21 15 25-12-20-16zM3050 979l20 12 18-9-20-11zM3030 989l20 12 18-9-20-12zM3010 999l20 12 19-10-21-11zM2989 1008l21 12 19-9-21-12zM2768 939l21 13 22-10-22-12zM2744 943l22 13 22-10-22-13z"/>
<path class="m" d="M2704 1147l20 14 18-197-22-13z"/>
<path class="t" d="M2720 951l22 13 22-10-21-13z"/>
<path class="m" d="M2680 1159l20 13 17-195-21-13z"/>
<path class="t" d="M2696 964l21 13 23-10-22-13z"/>
<path class="m" d="M2656 1170l20 14 16-190-21-13z"/>
<path class="t" d="M2671 981l21 13 23-10-22-13z"/>
<path class="m" d="M2631 1182l21 14 14-180-21-14z"/>
<path class="t" d="M2645 1002l21 14 23-10-21-14z"/>
<path class="m" d="M2607 1194l20 14 13-166-21-14z"/>
<path class="t" d="M2619 1028l21 14 23-11-21-13z"/>
<path class="m" d="M2582 1206l20 15 11-150-21-14z"/>
<path class="n" d="M2602 1221l23-12 12-148-24 10z"/>
<path class="t" d="M2592 1057l21 14 24-10-22-14z"/>
<path class="m" d="M2556 1219l21 14 9-130-21-14z"/>
<path class="n" d="M2577 1233l23-11 10-129-24 10z"/>
<path class="t" d="M2565 1089l21 14 24-10-22-14z"/>
<path class="m" d="M2531 1231l21 15 6-108-21-14z"/>
<path class="n" d="M2552 1246l23-12 7-107-24 11z"/>
<path class="t" d="M2537 1124l21 14 24-11-21-14z"/>
<path class="m" d="M2505 1244l21 14 5-85-21-14z"/>
<path class="n" d="M2526 1258l24-11 5-85-24 11z"/>
<path class="t" d="M2510 1159l21 14 24-11-21-15z"/>
<path class="m" d="M2479 1256l20 15 4-62-21-15z"/>
<path class="n" d="M2499 1271l25-12 3-62-24 12z"/>
<path class="t" d="M2482 1194l21 15 24-12-21-15z"/>
<path class="m" d="M2452 1269l21 15 2-41-21-15z"/>
<path class="n" d="M2473 1284l24-12 3-41-25 12z"/>
<path class="t" d="M2454 1228l21 15 25-12-21-15z"/>
<path class="m" d="M2425 1282l21 15 1-22-21-15z"/>
<path class="n" d="M2446 1297l25-12 1-22-25 12z"/>
<path class="t" d="M2426 1260l21 15 25-12-21-15z"/>
<path class="m" d="M2398 1295l21 16 0-8-21-15z"/>
<path class="n" d="M2419 1311l25-13 0-7-25 12z"/>
<path class="t" d="M2398 1288l21 15 25-12-21-15zM2371 1309l20 15 26-12-21-16zM2343 1322l20 16 26-13-21-15zM3072 992l20 12 18-9-20-12zM3052 1002l21 12 18-10-21-11zM3032 1012l21 12 18-10-21-12zM3012 1021l20 12 19-9-21-12zM2815 937l21 13 22-10-22-13zM2792 936l22 13 22-10-22-13zM2769 939l22 13 22-10-22-13z"/>
<path class="m" d="M2726 1162l21 14 20-216-22-13z"/>
<path class="t" d="M2745 947l22 13 22-10-21-13z"/>
<path class="m" d="M2702 1174l21 13 20-214-22-14z"/>
<path class="t" d="M2721 959l22 14 22-10-22-13z"/>
<path class="m" d="M2678 1185l21 14 18-208-22-14z"/>
<path class="t" d="M2695 977l22 14 23-10-22-14z"/>
<path class="m" d="M2654 1197l21 14 16-197-22-14z"/>
<path class="n" d="M2675 1211l22-11 17-197-23 11z"/>
<path class="t" d="M2669 1000l22 14 23-11-21-13z"/>
<path class="m" d="M2629 1210l21 14 15-183-22-14z"/>
<path class="n" d="M2650 1224l23-12 15-181-23 10z"/>
<path class="t" d="M2643 1027l22 14 23-10-22-14z"/>
<path class="m" d="M2604 1222l21 14 13-164-22-14z"/>
<path class="n" d="M2625 1236l23-11 13-163-23 10z"/>
<path class="t" d="M2616 1058l22 14 23-10-22-14z"/>
<path class="m" d="M2579 1234l21 15 10-142-21-14z"/>
<path class="n" d="M2600 1249l23-12 11-141-24 11z"/>
<path class="t" d="M2589 1093l21 14 24-11-22-14z"/>
<path class="m" d="M2553 1247l21 14 8-118-21-14z"/>
<path class="n" d="M2574 1261l24-11 8-118-24 11z"/>
<path class="t" d="M2561 1129l21 14 24-11-21-14z"/>
<path class="m" d="M2528 1259l21 15 6-93-22-15z"/>
<path class="n" d="M2549 1274l23-12 7-92-24 11z"/>
<path class="t" d="M2533 1166l22 15 24-11-22-15z"/>
<path class="m" d="M2501 1272l21 15 4-68-21-15z"/>
<path class="n" d="M2522 1287l24-12 5-68-25 12z"/>
<path class="t" d="M2505 1204l21 15 25-12-21-15z"/>
<path class="m" d="M2475 1285l21 16 2-46-21-15z"/>
<path class="n" d="M2496 1301l24-13 3-45-25 12z"/>
<path class="t" d="M2477 1240l21 15 25-12-21-14z"/>
<path class="m" d="M2448 1299l21 15 1-24-21-16z"/>
<path class="n" d="M2469 1314l25-12 1-25-25 13z"/>
<path class="t" d="M2449 1274l21 16 25-13-21-15z"/>
<path class="m" d="M2421 1312l21 15 0-8-21-15z"/>
<path class="n" d="M2442 1327l25-12 0-8-25 12z"/>
<path class="t" d="M2421 1304l21 15 25-12-21-15zM2393 1326l21 15 26-12-22-16zM2365 1339l21 16 26-13-21-15zM3094 1005l21 12 18-10-21-11zM3074 1015l21 12 18-10-20-11zM3054 1025l21 12 19-10-21-12zM3034 1034l21 13 19-10-21-12zM2861 944l22 13 21-10-22-12zM2840 938l21 13 22-9-22-13zM2817 937l22 12 22-9-22-13zM2794 939l22 13 22-10-22-12z"/>
<path class="m" d="M2749 1177l21 14 22-230-22-14z"/>
<path class="n" d="M2770 1191l22-11 23-229-23 10z"/>
<path class="t" d="M2770 947l22 14 23-10-22-13z"/>
<path class="m" d="M2725 1189l21 14 22-230-22-13z"/>
<path class="n" d="M2746 1203l22-12 22-228-22 10z"/>
<path class="t" d="M2746 960l22 13 22-10-22-13z"/>
<path class="m" d="M2701 1201l21 14 20-223-22-14z"/>
<path class="n" d="M2722 1215l22-12 21-221-23 10z"/>
<path class="t" d="M2720 978l22 14 23-10-22-14z"/>
<path class="m" d="M2677 1213l21 14 18-211-22-14z"/>
<path class="n" d="M2698 1227l22-11 19-211-23 11z"/>
<path class="t" d="M2694 1002l22 14 23-11-22-13z"/>
<path class="m" d="M2652 1225l21 14 16-195-22-13z"/>
<path class="n" d="M2673 1239l23-11 17-194-24 10z"/>
<path class="t" d="M2667 1031l22 13 24-10-22-14z"/>
<path class="m" d="M2627 1237l21 15 14-175-22-14z"/>
<path class="t" d="M2640 1063l22 14 24-11-22-14z"/>
<path class="m" d="M2602 1250l21 15 11-152-21-14z"/>
<path class="n" d="M2623 1265l23-12 12-151-24 11z"/>
<path class="t" d="M2613 1099l21 14 24-11-22-14z"/>
<path class="m" d="M2576 1263l21 14 10-125-22-15z"/>
<path class="n" d="M2597 1277l24-11 9-126-23 12z"/>
<path class="t" d="M2585 1137l22 15 23-12-21-14z"/>
<path class="m" d="M2550 1276l22 15 6-100-21-15z"/>
<path class="n" d="M2572 1291l23-12 7-100-24 12z"/>
<path class="t" d="M2557 1176l21 15 24-12-21-14z"/>
<path class="m" d="M2524 1289l21 15 5-73-21-15z"/>
<path class="n" d="M2545 1304l25-12 4-73-24 12z"/>
<path class="t" d="M2529 1216l21 15 24-12-21-15z"/>
<path class="m" d="M2498 1302l21 15 3-48-22-15z"/>
<path class="n" d="M2519 1317l24-12 3-48-24 12z"/>
<path class="t" d="M2500 1254l22 15 24-12-21-15z"/>
<path class="m" d="M2471 1315l21 16 1-26-21-16z"/>
<path class="n" d="M2492 1331l25-13 1-26-25 13z"/>
<path class="t" d="M2472 1289l21 16 25-13-21-15z"/>
<path class="m" d="M2444 1329l21 15 0-8-21-16z"/>
<path class="n" d="M2465 1344l25-12 0-9-25 13z"/>
<path class="t" d="M2444 1320l21 16 25-13-21-15zM2416 1343l21 15 26-13-22-15zM2388 1356l21 16 26-13-21-15zM3117 1018l21 12 18-10-21-11zM3097 1028l21 12 18-10-21-12zM3077 1038l21 12 18-10-21-12zM3057 1048l21 12 18-10-21-12zM3038 1048l21 12 19-9-21-13zM2906 961l22 13 21-10-22-12zM2886 951l22 13 21-10-22-12zM2864 945l22 13 22-10-22-13z"/>
<path class="n" d="M2840 1182l21-11 25-225-22 10z"/>
<path class="t" d="M2842 943l22 13 22-10-22-13z"/>
<path class="m" d="M2795 1180l22 14 24-230-23-13z"/>
<path class="n" d="M2817 1194l21-11 25-229-22 10z"/>
<path class="t" d="M2818 951l23 13 22-10-23-13z"/>
<path class="n" d="M2793 1206l22-11 24-230-23 10z"/>
<path class="t" d="M2794 962l22 13 23-10-23-13z"/>
<path class="m" d="M2748 1204l21 14 23-232-22-13z"/>
<path class="n" d="M2769 1218l22-11 24-231-23 10z"/>
<path class="t" d="M2770 973l22 13 23-10-23-13z"/>
<path class="m" d="M2724 1216l21 14 22-232-22-13z"/>
<path class="t" d="M2745 985l22 13 23-10-22-13z"/>
<path class="m" d="M2700 1228l21 14 20-219-22-14z"/>
<path class="n" d="M2721 1242l22-11 21-219-23 11z"/>
<path class="t" d="M2719 1009l22 14 23-11-22-13z"/>
<path class="m" d="M2675 1241l21 14 18-203-22-14z"/>
<path class="n" d="M2696 1255l23-12 18-201-23 10z"/>
<path class="t" d="M2692 1038l22 14 23-10-22-14z"/>
<path class="m" d="M2650 1253l22 15 15-182-22-14z"/>
<path class="n" d="M2672 1268l23-12 15-181-23 11z"/>
<path class="t" d="M2665 1072l22 14 23-11-22-14z"/>
<path class="m" d="M2625 1266l21 15 13-158-22-14z"/>
<path class="n" d="M2646 1281l24-12 13-157-24 11z"/>
<path class="t" d="M2637 1109l22 14 24-11-22-14z"/>
<path class="m" d="M2599 1279l22 15 10-131-22-15z"/>
<path class="n" d="M2621 1294l23-12 11-131-24 12z"/>
<path class="t" d="M2609 1148l22 15 24-12-22-14z"/>
<path class="m" d="M2573 1292l22 15 7-103-22-15z"/>
<path class="t" d="M2580 1189l22 15 24-12-21-15z"/>
<path class="m" d="M2547 1305l22 15 5-76-22-15z"/>
<path class="n" d="M2569 1320l24-12 5-76-24 12z"/>
<path class="t" d="M2552 1229l22 15 24-12-22-15z"/>
<path class="m" d="M2521 1318l21 16 3-50-21-15z"/>
<path class="n" d="M2542 1334l25-13 3-49-25 12z"/>
<path class="t" d="M2524 1269l21 15 25-12-22-16z"/>
<path class="m" d="M2494 1332l21 16 2-27-22-16z"/>
<path class="n" d="M2515 1348l25-13 2-27-25 13z"/>
<path class="t" d="M2495 1305l22 16 25-13-22-15z"/>
<path class="m" d="M2467 1346l21 16 1-9-22-16z"/>
<path class="n" d="M2488 1362l25-13 1-9-25 13z"/>
<path class="t" d="M2467 1337l22 16 25-13-22-16zM2439 1360l22 16 25-13-22-16zM2411 1374l22 16 25-13-21-16zM3140 1031l21 12 18-10-21-12zM3120 1041l21 12 18-9-21-13zM3100 1051l21 12 18-9-21-12zM3080 1061l21 12 19-9-22-13z"/>
<path class="n" d="M3081 1084l18-9 2-11-19 10z"/>
<path class="t" d="M3061 1061l21 13 19-10-21-12zM2950 986l22 13 20-10-22-13z"/>
<path class="n" d="M2931 1162l20-11 22-175-21 10z"/>
<path class="t" d="M2930 973l22 13 21-10-22-13z"/>
<path class="n" d="M2909 1173l20-10 24-197-21 10z"/>
<path class="t" d="M2910 963l22 13 21-10-22-13z"/>
<path class="n" d="M2886 1185l21-11 25-215-21 10z"/>
<path class="t" d="M2889 956l22 13 21-10-22-13z"/>
<path class="n" d="M2863 1197l21-11 26-229-21 10z"/>
<path class="t" d="M2866 954l23 13 21-10-22-13z"/>
<path class="m" d="M2819 1195l21 14 25-231-22-13z"/>
<path class="n" d="M2840 1209l21-11 26-230-22 10z"/>
<path class="t" d="M2843 965l22 13 22-10-23-13z"/>
<path class="m" d="M2795 1207l22 14 24-231-23-14z"/>
<path class="n" d="M2817 1221l21-11 25-231-22 11z"/>
<path class="t" d="M2818 976l23 14 22-11-22-13z"/>
<path class="m" d="M2771 1219l22 14 23-232-22-14z"/>
<path class="n" d="M2793 1233l22-11 24-232-23 11z"/>
<path class="t" d="M2794 987l22 14 23-11-23-13z"/>
<path class="m" d="M2747 1231l22 15 23-234-23-13z"/>
<path class="n" d="M2769 1246l22-12 23-232-22 10z"/>
<path class="t" d="M2769 999l23 13 22-10-22-14z"/>
<path class="m" d="M2723 1244l22 14 21-223-23-14z"/>
<path class="n" d="M2745 1258l22-11 22-222-23 10z"/>
<path class="t" d="M2743 1021l23 14 23-10-23-14z"/>
<path class="m" d="M2698 1256l22 15 19-206-23-14z"/>
<path class="n" d="M2720 1271l23-12 19-205-23 11z"/>
<path class="t" d="M2716 1051l23 14 23-11-23-14z"/>
<path class="m" d="M2673 1269l22 15 16-185-22-14z"/>
<path class="n" d="M2695 1284l23-12 17-184-24 11z"/>
<path class="t" d="M2689 1085l22 14 24-11-23-14z"/>
<path class="m" d="M2648 1282l22 15 13-160-22-14z"/>
<path class="n" d="M2670 1297l23-12 14-159-24 11z"/>
<path class="t" d="M2661 1123l22 14 24-11-22-15z"/>
<path class="m" d="M2623 1295l21 15 11-133-22-15z"/>
<path class="n" d="M2644 1310l24-12 11-132-24 11z"/>
<path class="t" d="M2633 1162l22 15 24-11-22-15z"/>
<path class="m" d="M2597 1308l22 16 7-105-22-15z"/>
<path class="n" d="M2619 1324l23-13 9-104-25 12z"/>
<path class="t" d="M2604 1204l22 15 25-12-23-15z"/>
<path class="m" d="M2571 1322l21 15 6-77-22-15z"/>
<path class="n" d="M2592 1337l24-12 6-77-24 12z"/>
<path class="t" d="M2576 1245l22 15 24-12-22-15z"/>
<path class="m" d="M2544 1335l22 16 3-51-22-15z"/>
<path class="n" d="M2566 1351l24-13 4-50-25 12z"/>
<path class="t" d="M2547 1285l22 15 25-12-22-16z"/>
<path class="m" d="M2517 1349l22 16 2-28-22-15z"/>
<path class="n" d="M2539 1365l25-13 2-27-25 12z"/>
<path class="t" d="M2519 1322l22 15 25-12-22-16z"/>
<path class="m" d="M2490 1363l22 16 0-9-21-16z"/>
<path class="n" d="M2512 1379l25-13 0-9-25 13z"/>
<path class="t" d="M2491 1354l21 16 25-13-21-16zM2462 1377l22 16 26-13-22-16zM2435 1391l21 17 26-14-22-16zM3163 1044l21 12 18-9-21-13zM3143 1054l21 12 18-9-21-12zM3123 1064l21 13 19-10-22-12zM3103 1074l21 13 19-10-22-12z"/>
<path class="n" d="M3104 1098l19-10 1-10-19 10z"/>
<path class="t" d="M3084 1075l21 13 19-10-21-13zM3066 1069l21 12 19-10-21-12zM2993 1016l22 12 20-9-22-13zM2974 1001l22 13 20-10-22-13z"/>
<path class="n" d="M2955 1176l20-10 22-174-21 10z"/>
<path class="t" d="M2954 989l22 13 21-10-22-13z"/>
<path class="n" d="M2932 1188l21-11 24-195-21 10z"/>
<path class="t" d="M2934 979l22 13 21-10-22-13z"/>
<path class="n" d="M2910 1200l21-11 25-213-21 10z"/>
<path class="t" d="M2913 973l22 13 21-10-22-13z"/>
<path class="n" d="M2887 1212l21-11 27-227-22 10z"/>
<path class="t" d="M2891 970l22 14 22-10-23-14z"/>
<path class="n" d="M2864 1224l21-11 27-230-22 10z"/>
<path class="t" d="M2867 980l23 13 22-10-23-14z"/>
<path class="m" d="M2819 1222l21 14 26-232-23-13z"/>
<path class="n" d="M2840 1236l22-11 26-231-22 10z"/>
<path class="t" d="M2843 991l23 13 22-10-23-13z"/>
<path class="m" d="M2795 1234l22 15 24-233-23-14z"/>
<path class="n" d="M2817 1249l21-12 26-232-23 11z"/>
<path class="t" d="M2818 1002l23 14 23-11-23-13z"/>
<path class="m" d="M2771 1247l22 14 23-233-22-14z"/>
<path class="n" d="M2793 1261l22-11 24-233-23 11z"/>
<path class="t" d="M2794 1014l22 14 23-11-23-14z"/>
<path class="m" d="M2747 1259l21 15 22-221-23-14z"/>
<path class="n" d="M2768 1274l23-12 22-220-23 11z"/>
<path class="t" d="M2767 1039l23 14 23-11-23-14z"/>
<path class="m" d="M2722 1272l22 15 19-204-23-15z"/>
<path class="n" d="M2744 1287l22-12 20-203-23 11z"/>
<path class="t" d="M2740 1068l23 15 23-11-22-15z"/>
<path class="m" d="M2697 1285l22 15 17-183-23-15z"/>
<path class="n" d="M2719 1300l23-12 17-182-23 11z"/>
<path class="t" d="M2713 1102l23 15 23-11-23-15z"/>
<path class="m" d="M2672 1298l22 15 14-158-23-15z"/>
<path class="n" d="M2694 1313l23-12 14-158-23 12z"/>
<path class="t" d="M2685 1140l23 15 23-12-22-15z"/>
<path class="m" d="M2646 1311l22 16 11-132-22-15z"/>
<path class="n" d="M2668 1327l24-13 11-131-24 12z"/>
<path class="t" d="M2657 1180l22 15 24-12-22-15z"/>
<path class="m" d="M2620 1325l22 15 9-104-23-15z"/>
<path class="n" d="M2642 1340l24-12 9-104-24 12z"/>
<path class="t" d="M2628 1221l23 15 24-12-23-15z"/>
<path class="m" d="M2594 1338l22 16 6-76-22-16z"/>
<path class="n" d="M2616 1354l24-13 6-76-24 13z"/>
<path class="t" d="M2600 1262l22 16 24-13-22-15z"/>
<path class="m" d="M2568 1352l22 16 3-50-22-16z"/>
<path class="n" d="M2590 1368l24-13 4-50-25 13z"/>
<path class="t" d="M2571 1302l22 16 25-13-22-16z"/>
<path class="m" d="M2541 1366l22 16 2-27-22-16z"/>
<path class="n" d="M2563 1382l25-13 1-27-24 13z"/>
<path class="t" d="M2543 1339l22 16 24-13-22-16z"/>
<path class="m" d="M2514 1380l22 16 0-9-22-16z"/>
<path class="n" d="M2536 1396l25-13 0-9-25 13z"/>
<path class="t" d="M2514 1371l22 16 25-13-22-16zM2486 1395l22 16 25-14-22-16zM2458 1409l22 16 26-13-22-16zM3186 1057l21 12 18-9-21-12zM3166 1067l22 13 18-10-22-12zM3146 1078l22 12 18-9-21-13zM3126 1088l22 13 18-10-21-13zM3107 1089l22 13 19-10-22-13z"/>
<path class="n" d="M3107 1123l19-10 4-27-19 10z"/>
<path class="t" d="M3089 1083l22 13 19-10-22-13zM3071 1073l22 13 19-10-22-13zM3053 1061l22 13 20-10-22-13zM3035 1047l22 13 20-10-22-13z"/>
<path class="n" d="M3022 1168l20-11 17-121-20 10z"/>
<path class="t" d="M3016 1033l23 13 20-10-23-13z"/>
<path class="n" d="M3000 1179l21-10 19-146-20 10z"/>
<path class="t" d="M2997 1020l23 13 20-10-22-13z"/>
<path class="n" d="M2978 1191l21-11 22-169-21 10z"/>
<path class="t" d="M2978 1008l22 13 21-10-22-13z"/>
<path class="n" d="M2956 1203l21-11 24-190-21 10z"/>
<path class="t" d="M2958 999l22 13 21-10-22-13z"/>
<path class="n" d="M2934 1215l20-11 26-208-21 10z"/>
<path class="t" d="M2936 993l23 13 21-10-22-13z"/>
<path class="m" d="M2889 1213l22 14 26-222-23-14z"/>
<path class="n" d="M2911 1227l21-11 27-222-22 11z"/>
<path class="t" d="M2914 991l23 14 22-11-23-13z"/>
<path class="n" d="M2888 1240l21-12 27-230-22 10z"/>
<path class="t" d="M2892 994l22 14 22-10-23-14z"/>
<path class="m" d="M2842 1238l22 14 26-233-22-13z"/>
<path class="n" d="M2864 1252l22-12 27-231-23 10z"/>
<path class="t" d="M2868 1006l22 13 23-10-23-14z"/>
<path class="m" d="M2819 1250l22 15 25-234-23-14z"/>
<path class="n" d="M2841 1265l21-12 27-233-23 11z"/>
<path class="t" d="M2843 1017l23 14 23-11-23-14z"/>
<path class="m" d="M2795 1263l22 14 24-227-23-15z"/>
<path class="n" d="M2817 1277l22-11 24-227-22 11z"/>
<path class="t" d="M2818 1035l23 15 22-11-23-14z"/>
<path class="m" d="M2770 1275l22 15 22-216-23-14z"/>
<path class="n" d="M2792 1290l23-12 22-215-23 11z"/>
<path class="t" d="M2791 1060l23 14 23-11-23-14z"/>
<path class="m" d="M2746 1288l22 15 19-199-22-14z"/>
<path class="n" d="M2768 1303l22-12 21-198-24 11z"/>
<path class="t" d="M2765 1090l22 14 24-11-23-15z"/>
<path class="m" d="M2721 1301l22 16 17-179-23-15z"/>
<path class="n" d="M2743 1317l23-13 17-178-23 12z"/>
<path class="t" d="M2737 1123l23 15 23-12-23-14z"/>
<path class="m" d="M2696 1315l22 15 14-155-23-15z"/>
<path class="n" d="M2718 1330l23-12 15-155-24 12z"/>
<path class="t" d="M2709 1160l23 15 24-12-23-14z"/>
<path class="m" d="M2670 1328l22 16 11-129-22-15z"/>
<path class="n" d="M2692 1344l24-13 11-128-24 12z"/>
<path class="t" d="M2681 1200l22 15 24-12-22-15z"/>
<path class="m" d="M2644 1342l22 15 9-101-23-16z"/>
<path class="n" d="M2666 1357l24-12 9-102-24 13z"/>
<path class="t" d="M2652 1240l23 16 24-13-23-15z"/>
<path class="m" d="M2618 1355l22 16 6-74-22-16z"/>
<path class="n" d="M2640 1371l24-13 7-74-25 13z"/>
<path class="t" d="M2624 1281l22 16 25-13-23-15z"/>
<path class="m" d="M2592 1369l22 16 3-49-22-16z"/>
<path class="n" d="M2614 1385l24-13 4-49-25 13z"/>
<path class="t" d="M2595 1320l22 16 25-13-22-15z"/>
<path class="m" d="M2565 1383l22 17 2-27-22-16z"/>
<path class="n" d="M2587 1400l25-14 2-26-25 13z"/>
<path class="t" d="M2567 1357l22 16 25-13-23-16z"/>
<path class="m" d="M2538 1398l22 16 0-9-22-16z"/>
<path class="n" d="M2560 1414l25-13 0-9-25 13z"/>
<path class="t" d="M2538 1389l22 16 25-13-22-16zM2510 1412l22 17 26-14-23-16zM2482 1427l22 17 26-14-22-17zM3209 1070l22 13 18-10-22-12zM3190 1081l21 12 18-9-21-13zM3170 1091l22 13 18-10-22-12zM3150 1102l22 13 18-10-22-13z"/>
<path class="n" d="M3151 1126l19-10 1-10-18 10z"/>
<path class="t" d="M3131 1103l22 13 18-10-21-13z"/>
<path class="n" d="M3131 1137l19-10 4-26-19 10z"/>
<path class="t" d="M3113 1098l22 13 19-10-22-13z"/>
<path class="n" d="M3110 1148l19-10 7-46-19 11z"/>
<path class="t" d="M3095 1090l22 13 19-11-22-12z"/>
<path class="n" d="M3089 1159l19-10 10-68-19 10z"/>
<path class="t" d="M3077 1078l22 13 19-10-22-13z"/>
<path class="n" d="M3068 1171l19-11 14-91-20 10z"/>
<path class="t" d="M3058 1066l23 13 20-10-23-13z"/>
<path class="n" d="M3046 1183l20-11 16-116-20 10z"/>
<path class="t" d="M3040 1053l22 13 20-10-22-13z"/>
<path class="n" d="M3024 1194l20-11 20-139-20 10z"/>
<path class="t" d="M3021 1041l23 13 20-10-23-13z"/>
<path class="n" d="M3002 1206l21-11 22-162-21 10z"/>
<path class="t" d="M3001 1030l23 13 21-10-23-13z"/>
<path class="n" d="M2980 1218l21-11 24-182-21 10z"/>
<path class="t" d="M2981 1022l23 13 21-10-23-13z"/>
<path class="n" d="M2958 1230l20-11 26-199-21 11z"/>
<path class="t" d="M2960 1017l23 14 21-11-23-13z"/>
<path class="n" d="M2935 1243l21-12 27-211-22 10z"/>
<path class="t" d="M2938 1016l23 14 22-10-23-14z"/>
<path class="n" d="M2912 1255l21-11 27-221-22 11z"/>
<path class="t" d="M2915 1020l23 14 22-11-23-13z"/>
<path class="m" d="M2866 1253l22 15 27-226-23-13z"/>
<path class="n" d="M2888 1268l22-12 27-224-22 10z"/>
<path class="t" d="M2892 1029l23 13 22-10-23-14z"/>
<path class="m" d="M2843 1266l22 14 25-224-23-14z"/>
<path class="n" d="M2865 1280l22-11 26-223-23 10z"/>
<path class="t" d="M2867 1042l23 14 23-10-24-14z"/>
<path class="m" d="M2819 1279l22 14 24-217-23-15z"/>
<path class="n" d="M2841 1293l22-12 24-216-22 11z"/>
<path class="t" d="M2842 1061l23 15 22-11-23-14z"/>
<path class="m" d="M2794 1292l23 14 22-206-24-14z"/>
<path class="n" d="M2817 1306l22-12 22-205-22 11z"/>
<path class="t" d="M2815 1086l24 14 22-11-23-14z"/>
<path class="m" d="M2770 1305l22 15 20-191-23-14z"/>
<path class="n" d="M2792 1320l23-12 20-190-23 11z"/>
<path class="t" d="M2789 1115l23 14 23-11-23-15z"/>
<path class="m" d="M2745 1318l22 15 17-171-23-15z"/>
<path class="n" d="M2767 1333l23-12 18-170-24 11z"/>
<path class="t" d="M2761 1147l23 15 24-11-24-15z"/>
<path class="m" d="M2720 1331l22 16 14-148-23-15z"/>
<path class="n" d="M2742 1347l23-13 15-147-24 12z"/>
<path class="t" d="M2733 1184l23 15 24-12-23-15z"/>
<path class="m" d="M2694 1345l23 15 11-123-23-15z"/>
<path class="n" d="M2717 1360l23-12 12-123-24 12z"/>
<path class="t" d="M2705 1222l23 15 24-12-23-15z"/>
<path class="m" d="M2668 1359l23 15 8-97-23-15z"/>
<path class="n" d="M2691 1374l24-12 8-97-24 12z"/>
<path class="t" d="M2676 1262l23 15 24-12-22-16z"/>
<path class="m" d="M2642 1373l23 15 6-71-23-16z"/>
<path class="n" d="M2665 1388l24-12 6-72-24 13z"/>
<path class="t" d="M2648 1301l23 16 24-13-23-15z"/>
<path class="m" d="M2616 1387l22 16 4-47-23-16z"/>
<path class="n" d="M2638 1403l25-13 3-47-24 13z"/>
<path class="t" d="M2619 1340l23 16 24-13-22-16z"/>
<path class="m" d="M2589 1401l22 16 2-25-22-16z"/>
<path class="n" d="M2611 1417l25-13 2-25-25 13z"/>
<path class="t" d="M2591 1376l22 16 25-13-23-16z"/>
<path class="m" d="M2562 1415l22 17 1-8-23-17z"/>
<path class="n" d="M2584 1432l25-14 1-8-25 14z"/>
<path class="t" d="M2562 1407l23 17 25-14-23-16zM2534 1430l23 17 25-14-22-16zM2506 1445l23 17 25-14-22-17zM3233 1084l22 12 18-9-22-13zM3213 1094l22 13 18-10-22-12zM3193 1105l23 13 18-10-22-13zM3173 1116l23 13 18-10-22-13z"/>
<path class="n" d="M3175 1140l19-10 1-9-18 10z"/>
<path class="t" d="M3155 1118l22 13 18-10-22-13z"/>
<path class="n" d="M3155 1151l19-10 3-24-19 10z"/>
<path class="t" d="M3136 1114l22 13 19-10-22-13z"/>
<path class="n" d="M3134 1163l19-11 7-42-19 10z"/>
<path class="t" d="M3118 1107l23 13 19-10-23-13z"/>
<path class="n" d="M3113 1174l19-11 10-63-19 10z"/>
<path class="t" d="M3100 1097l23 13 19-10-22-13z"/>
<path class="n" d="M3092 1186l19-11 13-86-20 10z"/>
<path class="t" d="M3082 1086l22 13 20-10-22-13z"/>
<path class="n" d="M3070 1197l20-10 16-109-20 10z"/>
<path class="t" d="M3063 1075l23 13 20-10-23-13z"/>
<path class="n" d="M3049 1209l20-11 18-131-20 11z"/>
<path class="t" d="M3044 1064l23 14 20-11-22-13z"/>
<path class="n" d="M3027 1221l20-11 21-152-20 11z"/>
<path class="t" d="M3025 1055l23 14 20-11-23-13z"/>
<path class="n" d="M3005 1233l20-11 23-170-21 10z"/>
<path class="t" d="M3004 1049l23 13 21-10-23-14z"/>
<path class="n" d="M2982 1246l21-12 25-186-22 11z"/>
<path class="t" d="M2983 1045l23 14 22-11-24-13z"/>
<path class="m" d="M2937 1244l22 14 26-199-24-14z"/>
<path class="n" d="M2959 1258l21-11 26-198-21 10z"/>
<path class="t" d="M2961 1045l24 14 21-10-23-14z"/>
<path class="n" d="M2936 1271l21-12 27-206-22 11z"/>
<path class="t" d="M2939 1050l23 14 22-11-24-14z"/>
<path class="m" d="M2890 1269l23 15 25-211-23-14z"/>
<path class="n" d="M2913 1284l21-12 26-210-22 11z"/>
<path class="t" d="M2915 1059l23 14 22-11-23-14z"/>
<path class="m" d="M2867 1282l22 15 25-210-24-14z"/>
<path class="n" d="M2889 1297l22-12 25-209-22 11z"/>
<path class="t" d="M2890 1073l24 14 22-11-23-14z"/>
<path class="m" d="M2843 1295l22 15 24-204-24-15z"/>
<path class="n" d="M2865 1310l22-12 24-203-22 11z"/>
<path class="t" d="M2865 1091l24 15 22-11-23-15z"/>
<path class="m" d="M2819 1308l22 15 21-193-23-15z"/>
<path class="n" d="M2841 1323l22-12 22-193-23 12z"/>
<path class="t" d="M2839 1115l23 15 23-12-23-14z"/>
<path class="m" d="M2794 1321l23 15 19-178-24-15z"/>
<path class="n" d="M2817 1336l22-12 20-178-23 12z"/>
<path class="t" d="M2812 1143l24 15 23-12-24-14z"/>
<path class="m" d="M2769 1334l23 16 16-160-23-15z"/>
<path class="n" d="M2792 1350l23-13 17-159-24 12z"/>
<path class="t" d="M2785 1175l23 15 24-12-24-15z"/>
<path class="m" d="M2744 1348l23 16 13-139-23-15z"/>
<path class="n" d="M2767 1364l23-13 14-138-24 12z"/>
<path class="t" d="M2757 1210l23 15 24-12-23-15z"/>
<path class="m" d="M2719 1362l22 16 11-116-23-15z"/>
<path class="n" d="M2741 1378l24-13 11-115-24 12z"/>
<path class="t" d="M2729 1247l23 15 24-12-23-15z"/>
<path class="m" d="M2693 1376l22 16 9-91-23-16z"/>
<path class="n" d="M2715 1392l24-13 9-91-24 13z"/>
<path class="t" d="M2701 1285l23 16 24-13-23-16z"/>
<path class="m" d="M2667 1390l22 16 6-67-23-16z"/>
<path class="n" d="M2689 1406l24-13 6-67-24 13z"/>
<path class="t" d="M2672 1323l23 16 24-13-23-16z"/>
<path class="m" d="M2640 1404l23 16 3-44-22-16z"/>
<path class="n" d="M2663 1420l24-13 4-44-25 13z"/>
<path class="t" d="M2644 1360l22 16 25-13-23-16z"/>
<path class="m" d="M2613 1419l23 16 2-24-23-16z"/>
<path class="n" d="M2636 1435l25-13 2-24-25 13z"/>
<path class="t" d="M2615 1395l23 16 25-13-23-16z"/>
<path class="m" d="M2586 1433l23 17 0-8-22-16z"/>
<path class="n" d="M2609 1450l25-14 0-7-25 13z"/>
<path class="t" d="M2587 1426l22 16 25-13-22-17zM2559 1448l22 17 26-14-23-16zM2531 1463l22 17 26-14-23-17zM3257 1098l22 12 18-10-22-12zM3237 1108l22 13 18-10-22-13zM3217 1119l23 13 18-10-22-13zM3197 1130l23 13 18-10-22-13z"/>
<path class="n" d="M3199 1154l19-10 1-8-18 10z"/>
<path class="t" d="M3178 1133l23 13 18-10-22-13z"/>
<path class="n" d="M3179 1166l19-11 3-22-18 11z"/>
<path class="t" d="M3160 1130l23 14 18-11-22-13z"/>
<path class="n" d="M3158 1177l19-10 7-39-20 10z"/>
<path class="t" d="M3142 1125l22 13 20-10-23-14z"/>
<path class="n" d="M3137 1189l20-11 9-58-20 10z"/>
<path class="t" d="M3124 1117l22 13 20-10-23-13z"/>
<path class="n" d="M3116 1200l20-10 12-79-20 10z"/>
<path class="t" d="M3105 1108l23 13 20-10-23-13z"/>
<path class="n" d="M3095 1212l20-11 15-99-20 10z"/>
<path class="t" d="M3087 1099l23 13 20-10-23-14z"/>
<path class="n" d="M3073 1224l20-11 18-120-20 11z"/>
<path class="t" d="M3068 1090l23 14 20-11-23-13z"/>
<path class="n" d="M3051 1237l20-12 20-139-20 11z"/>
<path class="t" d="M3048 1083l23 14 20-11-23-13z"/>
<path class="n" d="M3029 1249l20-11 22-156-20 10z"/>
<path class="t" d="M3027 1078l24 14 20-10-23-14z"/>
<path class="m" d="M2984 1247l23 14 23-171-24-14z"/>
<path class="n" d="M3007 1261l20-11 24-170-21 10z"/>
<path class="t" d="M3006 1076l24 14 21-10-24-14z"/>
<path class="m" d="M2961 1259l23 15 24-182-24-14z"/>
<path class="n" d="M2984 1274l21-12 24-181-21 11z"/>
<path class="t" d="M2984 1078l24 14 21-11-23-14z"/>
<path class="m" d="M2938 1272l23 15 24-190-23-14z"/>
<path class="n" d="M2961 1287l21-12 25-189-22 11z"/>
<path class="t" d="M2962 1083l23 14 22-11-24-14z"/>
<path class="m" d="M2915 1285l23 15 24-193-24-14z"/>
<path class="n" d="M2938 1300l21-12 25-192-22 11z"/>
<path class="t" d="M2938 1093l24 14 22-11-24-14z"/>
<path class="m" d="M2891 1298l23 15 23-192-23-15z"/>
<path class="n" d="M2914 1313l22-12 23-191-22 11z"/>
<path class="t" d="M2914 1106l23 15 22-11-23-15z"/>
<path class="m" d="M2867 1311l23 15 22-186-23-15z"/>
<path class="n" d="M2890 1326l22-12 23-186-23 12z"/>
<path class="t" d="M2889 1125l23 15 23-12-24-14z"/>
<path class="m" d="M2843 1324l23 15 20-176-23-15z"/>
<path class="n" d="M2866 1339l22-12 21-176-23 12z"/>
<path class="t" d="M2863 1148l23 15 23-12-24-15z"/>
<path class="m" d="M2819 1338l22 15 19-163-24-15z"/>
<path class="n" d="M2841 1353l23-12 19-163-23 12z"/>
<path class="t" d="M2836 1175l24 15 23-12-24-15z"/>
<path class="m" d="M2794 1351l23 16 15-147-23-15z"/>
<path class="n" d="M2817 1367l22-13 17-146-24 12z"/>
<path class="t" d="M2809 1205l23 15 24-12-24-15z"/>
<path class="m" d="M2769 1365l22 16 14-127-24-16z"/>
<path class="n" d="M2791 1381l24-13 13-127-23 13z"/>
<path class="t" d="M2781 1238l24 16 23-13-23-15z"/>
<path class="m" d="M2743 1379l23 16 11-106-24-15z"/>
<path class="n" d="M2766 1395l23-13 11-105-23 12z"/>
<path class="t" d="M2753 1274l24 15 23-12-23-16z"/>
<path class="m" d="M2717 1393l23 16 8-83-23-16z"/>
<path class="n" d="M2740 1409l24-13 8-83-24 13z"/>
<path class="t" d="M2725 1310l23 16 24-13-23-16z"/>
<path class="m" d="M2691 1407l23 17 6-62-23-16z"/>
<path class="n" d="M2714 1424l24-14 6-61-24 13z"/>
<path class="t" d="M2697 1346l23 16 24-13-23-16z"/>
<path class="m" d="M2665 1422l23 16 3-40-23-16z"/>
<path class="n" d="M2688 1438l24-13 4-40-25 13z"/>
<path class="t" d="M2668 1382l23 16 25-13-23-17z"/>
<path class="m" d="M2638 1437l23 16 2-22-23-16z"/>
<path class="n" d="M2661 1453l25-13 1-22-24 13z"/>
<path class="t" d="M2640 1415l23 16 24-13-23-17z"/>
<path class="m" d="M2611 1451l23 17 0-7-23-17z"/>
<path class="n" d="M2634 1468l25-14 0-7-25 14z"/>
<path class="t" d="M2611 1444l23 17 25-14-23-16zM2583 1467l23 17 26-14-23-17zM2555 1482l23 17 26-14-23-17zM3281 1111l22 13 18-10-22-13zM3261 1122l23 13 18-10-23-13zM3242 1133l22 13 18-10-22-13zM3222 1144l22 13 19-10-23-13z"/>
<path class="n" d="M3224 1169l19-11 1-7-19 10z"/>
<path class="t" d="M3203 1148l22 13 19-10-23-13z"/>
<path class="n" d="M3204 1180l18-10 4-20-19 10z"/>
<path class="t" d="M3184 1147l23 13 19-10-23-13z"/>
<path class="n" d="M3183 1192l19-11 6-35-19 11z"/>
<path class="t" d="M3166 1143l23 14 19-11-23-13z"/>
<path class="n" d="M3162 1204l19-11 9-52-20 10z"/>
<path class="t" d="M3147 1138l23 13 20-10-23-14z"/>
<path class="n" d="M3141 1215l19-10 11-71-19 11z"/>
<path class="t" d="M3129 1131l23 14 19-11-23-13z"/>
<path class="n" d="M3120 1228l19-12 14-88-20 10z"/>
<path class="t" d="M3110 1125l23 13 20-10-23-14z"/>
<path class="n" d="M3098 1240l20-12 16-107-20 11z"/>
<path class="t" d="M3091 1118l23 14 20-11-23-13z"/>
<path class="n" d="M3076 1252l20-11 19-124-21 10z"/>
<path class="t" d="M3071 1114l23 13 21-10-24-14z"/>
<path class="n" d="M3054 1264l20-11 20-139-20 11z"/>
<path class="t" d="M3050 1111l24 14 20-11-23-14z"/>
<path class="n" d="M3031 1277l21-11 22-153-21 12z"/>
<path class="t" d="M3029 1110l24 15 21-12-24-13z"/>
<path class="n" d="M3009 1290l21-12 22-162-21 11z"/>
<path class="t" d="M3007 1113l24 14 21-11-23-14z"/>
<path class="n" d="M2986 1303l21-12 23-168-22 11z"/>
<path class="t" d="M2985 1119l23 15 22-11-24-15z"/>
<path class="m" d="M2940 1301l22 15 23-172-24-15z"/>
<path class="n" d="M2962 1316l22-12 23-171-22 11z"/>
<path class="t" d="M2961 1129l24 15 22-11-24-15z"/>
<path class="m" d="M2916 1314l23 15 21-171-23-15z"/>
<path class="n" d="M2939 1329l22-12 22-171-23 12z"/>
<path class="t" d="M2937 1143l23 15 23-12-24-14z"/>
<path class="m" d="M2892 1327l23 16 20-167-23-15z"/>
<path class="n" d="M2915 1343l22-13 21-165-23 11z"/>
<path class="t" d="M2912 1161l23 15 23-11-24-15z"/>
<path class="m" d="M2868 1341l23 15 19-158-24-15z"/>
<path class="n" d="M2891 1356l22-12 19-157-22 11z"/>
<path class="t" d="M2886 1183l24 15 22-11-23-15z"/>
<path class="m" d="M2843 1354l23 16 17-146-23-15z"/>
<path class="n" d="M2866 1370l23-13 17-145-23 12z"/>
<path class="t" d="M2860 1209l23 15 23-12-23-15z"/>
<path class="m" d="M2819 1368l23 16 14-131-23-15z"/>
<path class="n" d="M2842 1384l23-13 14-130-23 12z"/>
<path class="t" d="M2833 1238l23 15 23-12-23-15z"/>
<path class="m" d="M2793 1382l24 16 12-113-24-16z"/>
<path class="n" d="M2817 1398l23-13 12-113-23 13z"/>
<path class="t" d="M2805 1269l24 16 23-13-23-15z"/>
<path class="m" d="M2768 1396l23 16 10-94-24-16z"/>
<path class="n" d="M2791 1412l24-13 10-94-24 13z"/>
<path class="t" d="M2777 1302l24 16 24-13-24-16z"/>
<path class="m" d="M2742 1411l23 16 8-75-24-16z"/>
<path class="n" d="M2765 1427l24-13 8-75-24 13z"/>
<path class="t" d="M2749 1336l24 16 24-13-24-16z"/>
<path class="m" d="M2716 1425l23 17 6-55-24-17z"/>
<path class="n" d="M2739 1442l24-14 6-55-24 14z"/>
<path class="t" d="M2721 1370l24 17 24-14-24-16z"/>
<path class="m" d="M2690 1440l23 16 3-36-23-16z"/>
<path class="n" d="M2713 1456l24-13 4-36-25 13z"/>
<path class="t" d="M2693 1404l23 16 25-13-24-17z"/>
<path class="m" d="M2663 1455l23 17 2-20-23-17z"/>
<path class="n" d="M2686 1472l25-14 2-20-25 14z"/>
<path class="t" d="M2665 1435l23 17 25-14-24-16z"/>
<path class="m" d="M2636 1470l23 17 1-7-24-17z"/>
<path class="n" d="M2659 1487l25-14 1-7-25 14z"/>
<path class="t" d="M2636 1463l24 17 25-14-24-16zM2608 1485l23 17 26-14-23-17zM2580 1501l24 17 25-14-23-18zM3305 1125l23 13 18-10-23-13zM3286 1136l22 13 18-10-22-13zM3266 1147l23 13 18-10-23-13zM3246 1158l23 14 18-11-22-13z"/>
<path class="n" d="M3249 1183l18-10 1-7-18 11z"/>
<path class="t" d="M3227 1163l23 14 18-11-22-13z"/>
<path class="n" d="M3228 1195l19-11 3-17-19 11z"/>
<path class="t" d="M3208 1164l23 14 19-11-23-13z"/>
<path class="n" d="M3208 1207l19-11 5-30-19 10z"/>
<path class="t" d="M3190 1163l23 13 19-10-23-14z"/>
<path class="n" d="M3187 1219l19-11 8-46-20 11z"/>
<path class="t" d="M3171 1160l23 13 20-11-23-13z"/>
<path class="n" d="M3166 1231l19-11 10-62-19 11z"/>
<path class="t" d="M3152 1156l24 13 19-11-23-13z"/>
<path class="n" d="M3145 1243l19-11 12-78-19 11z"/>
<path class="t" d="M3133 1151l24 14 19-11-23-13z"/>
<path class="n" d="M3123 1255l20-11 14-93-20 11z"/>
<path class="t" d="M3114 1148l23 14 20-11-23-14z"/>
<path class="n" d="M3101 1268l20-12 17-107-21 11z"/>
<path class="t" d="M3094 1146l23 14 21-11-24-14z"/>
<path class="n" d="M3079 1280l20-11 18-121-20 11z"/>
<path class="t" d="M3073 1145l24 14 20-11-23-14z"/>
<path class="n" d="M3057 1293l20-12 19-131-21 11z"/>
<path class="t" d="M3052 1147l23 14 21-11-23-15z"/>
<path class="n" d="M3034 1306l21-12 20-140-21 11z"/>
<path class="t" d="M3030 1151l24 14 21-11-24-14z"/>
<path class="m" d="M2988 1304l23 15 20-146-24-15z"/>
<path class="n" d="M3011 1319l21-12 20-146-21 12z"/>
<path class="t" d="M3007 1158l24 15 21-12-23-14z"/>
<path class="m" d="M2965 1317l23 15 20-149-24-14z"/>
<path class="n" d="M2988 1332l21-12 20-148-21 11z"/>
<path class="t" d="M2984 1169l24 14 21-11-23-15z"/>
<path class="m" d="M2941 1331l23 15 19-148-23-15z"/>
<path class="n" d="M2964 1346l22-13 19-147-22 12z"/>
<path class="t" d="M2960 1183l23 15 22-12-23-15z"/>
<path class="m" d="M2917 1344l23 15 19-144-24-15z"/>
<path class="n" d="M2940 1359l22-12 19-144-22 12z"/>
<path class="t" d="M2935 1200l24 15 22-12-24-15z"/>
<path class="m" d="M2893 1358l23 15 17-136-24-16z"/>
<path class="n" d="M2916 1373l22-12 18-137-23 13z"/>
<path class="t" d="M2909 1221l24 16 23-13-24-15z"/>
<path class="m" d="M2868 1371l24 16 15-126-24-16z"/>
<path class="n" d="M2892 1387l22-13 16-125-23 12z"/>
<path class="t" d="M2883 1245l24 16 23-12-24-16z"/>
<path class="m" d="M2844 1385l23 16 13-113-24-16z"/>
<path class="n" d="M2867 1401l23-13 13-113-23 13z"/>
<path class="t" d="M2856 1272l24 16 23-13-24-15z"/>
<path class="m" d="M2819 1399l23 17 11-99-24-16z"/>
<path class="n" d="M2842 1416l23-14 11-98-23 13z"/>
<path class="t" d="M2829 1301l24 16 23-13-23-15z"/>
<path class="m" d="M2793 1414l24 16 8-82-23-16z"/>
<path class="n" d="M2817 1430l23-13 9-82-24 13z"/>
<path class="t" d="M2802 1332l23 16 24-13-24-16z"/>
<path class="m" d="M2767 1428l24 17 7-65-24-16z"/>
<path class="n" d="M2791 1445l24-14 7-64-24 13z"/>
<path class="t" d="M2774 1364l24 16 24-13-24-16z"/>
<path class="m" d="M2741 1443l24 17 5-48-24-16z"/>
<path class="n" d="M2765 1460l24-14 5-47-24 13z"/>
<path class="t" d="M2746 1396l24 16 24-13-24-17z"/>
<path class="m" d="M2715 1458l23 17 3-32-23-16z"/>
<path class="n" d="M2738 1475l25-14 3-31-25 13z"/>
<path class="t" d="M2718 1427l23 16 25-13-24-17z"/>
<path class="m" d="M2688 1473l24 17 1-17-23-17z"/>
<path class="n" d="M2712 1490l24-14 2-17-25 14z"/>
<path class="t" d="M2690 1456l23 17 25-14-24-17z"/>
<path class="m" d="M2661 1488l24 18 0-6-24-17z"/>
<path class="n" d="M2685 1506l24-15 1-5-25 14z"/>
<path class="t" d="M2661 1483l24 17 25-14-24-17zM2634 1504l23 17 25-14-23-17zM2606 1520l23 17 26-14-24-18zM3330 1139l23 13 17-10-22-13zM3310 1150l23 13 18-10-23-13zM3291 1162l23 13 18-11-23-13zM3271 1173l23 13 18-10-23-14z"/>
<path class="n" d="M3274 1198l18-11 1-5-18 10z"/>
<path class="t" d="M3252 1179l23 13 18-10-23-14z"/>
<path class="n" d="M3253 1210l19-11 3-14-19 10z"/>
<path class="t" d="M3233 1182l23 13 19-10-23-14z"/>
<path class="n" d="M3233 1222l19-11 4-26-19 11z"/>
<path class="t" d="M3214 1182l23 14 19-11-23-13z"/>
<path class="n" d="M3212 1234l19-11 7-38-20 11z"/>
<path class="t" d="M3195 1182l23 14 20-11-24-14z"/>
<path class="n" d="M3191 1246l19-11 9-51-20 11z"/>
<path class="t" d="M3176 1181l23 14 20-11-23-14z"/>
<path class="n" d="M3170 1258l19-11 11-65-20 11z"/>
<path class="t" d="M3157 1179l23 14 20-11-24-14z"/>
<path class="n" d="M3148 1271l20-12 12-77-20 11z"/>
<path class="t" d="M3137 1179l23 14 20-11-23-15z"/>
<path class="n" d="M3126 1283l20-11 15-90-21 11z"/>
<path class="t" d="M3117 1179l23 14 21-11-24-14z"/>
<path class="n" d="M3104 1296l21-12 15-101-20 12z"/>
<path class="t" d="M3096 1180l24 15 20-12-24-14z"/>
<path class="n" d="M3082 1309l20-12 17-110-21 12z"/>
<path class="t" d="M3074 1184l24 15 21-12-24-14z"/>
<path class="n" d="M3059 1322l21-12 17-117-21 12z"/>
<path class="t" d="M3052 1190l24 15 21-12-23-15z"/>
<path class="m" d="M3013 1320l23 16 18-123-24-15z"/>
<path class="n" d="M3036 1336l21-13 18-122-21 12z"/>
<path class="t" d="M3030 1198l24 15 21-12-24-14z"/>
<path class="m" d="M2990 1334l23 15 17-125-24-15z"/>
<path class="n" d="M3013 1349l22-12 17-124-22 11z"/>
<path class="t" d="M3006 1209l24 15 22-11-24-15z"/>
<path class="m" d="M2966 1347l24 16 16-124-24-15z"/>
<path class="n" d="M2990 1363l21-13 17-123-22 12z"/>
<path class="t" d="M2982 1224l24 15 22-12-24-15z"/>
<path class="m" d="M2942 1361l24 15 16-120-24-15z"/>
<path class="n" d="M2966 1376l22-12 16-120-22 12z"/>
<path class="t" d="M2958 1241l24 15 22-12-24-15z"/>
<path class="m" d="M2918 1375l24 15 14-114-24-15z"/>
<path class="n" d="M2942 1390l22-13 15-113-23 12z"/>
<path class="t" d="M2932 1261l24 15 23-12-24-16z"/>
<path class="m" d="M2894 1389l23 15 13-105-24-16z"/>
<path class="n" d="M2917 1404l23-13 13-105-23 13z"/>
<path class="t" d="M2906 1283l24 16 23-13-24-15z"/>
<path class="m" d="M2869 1403l24 16 11-95-24-16z"/>
<path class="n" d="M2893 1419l22-13 12-95-23 13z"/>
<path class="t" d="M2880 1308l24 16 23-13-24-16z"/>
<path class="m" d="M2844 1417l24 16 9-82-24-16z"/>
<path class="n" d="M2868 1433l23-13 10-82-24 13z"/>
<path class="t" d="M2853 1335l24 16 24-13-24-16z"/>
<path class="m" d="M2819 1432l23 16 8-69-24-16z"/>
<path class="n" d="M2842 1448l24-14 8-68-24 13z"/>
<path class="t" d="M2826 1363l24 16 24-13-24-16z"/>
<path class="m" d="M2793 1446l24 17 5-54-23-17z"/>
<path class="n" d="M2817 1463l23-14 6-54-24 14z"/>
<path class="t" d="M2799 1392l23 17 24-14-24-16z"/>
<path class="m" d="M2767 1461l24 17 4-40-24-17z"/>
<path class="n" d="M2791 1478l24-14 4-40-24 14z"/>
<path class="t" d="M2771 1421l24 17 24-14-24-16z"/>
<path class="m" d="M2740 1476l24 17 3-26-24-17z"/>
<path class="n" d="M2764 1493l24-14 3-26-24 14z"/>
<path class="t" d="M2743 1450l24 17 24-14-24-17z"/>
<path class="m" d="M2714 1492l23 17 2-14-24-18z"/>
<path class="n" d="M2737 1509l25-14 1-15-24 15z"/>
<path class="t" d="M2715 1477l24 18 24-15-23-17z"/>
<path class="m" d="M2687 1507l23 18 1-5-24-18z"/>
<path class="n" d="M2710 1525l25-15 1-5-25 15z"/>
<path class="t" d="M2687 1502l24 18 25-15-24-17zM2659 1523l24 17 25-14-24-18zM2631 1539l24 18 26-15-24-18zM3355 1153l23 14 17-11-23-13zM3335 1165l23 13 18-11-23-13zM3316 1176l23 13 18-10-23-13zM3296 1187l23 14 18-11-23-13z"/>
<path class="n" d="M3299 1213l18-11 1-4-18 10z"/>
<path class="t" d="M3276 1195l24 13 18-10-23-14z"/>
<path class="n" d="M3279 1225l18-11 2-12-18 11z"/>
<path class="t" d="M3257 1199l24 14 18-11-23-13z"/>
<path class="n" d="M3258 1237l19-11 4-21-19 11z"/>
<path class="t" d="M3238 1202l24 14 19-11-24-13z"/>
<path class="n" d="M3237 1249l20-11 5-31-19 12z"/>
<path class="t" d="M3219 1205l24 14 19-12-24-13z"/>
<path class="n" d="M3216 1261l20-11 7-41-20 11z"/>
<path class="t" d="M3200 1206l23 14 20-11-24-14z"/>
<path class="n" d="M3195 1274l20-12 8-51-19 11z"/>
<path class="t" d="M3180 1208l24 14 19-11-23-14z"/>
<path class="n" d="M3174 1286l19-11 11-62-20 11z"/>
<path class="t" d="M3160 1210l24 14 20-11-24-15z"/>
<path class="n" d="M3152 1299l20-11 12-72-21 11z"/>
<path class="t" d="M3139 1213l24 14 21-11-24-15z"/>
<path class="m" d="M3106 1297l24 15 12-81-23-14z"/>
<path class="n" d="M3130 1312l20-12 13-80-21 11z"/>
<path class="t" d="M3119 1217l23 14 21-11-24-15z"/>
<path class="n" d="M3108 1325l20-12 14-88-21 12z"/>
<path class="t" d="M3097 1222l24 15 21-12-24-14z"/>
<path class="n" d="M3085 1339l21-13 14-93-21 12z"/>
<path class="t" d="M3075 1230l24 15 21-12-24-15z"/>
<path class="n" d="M3062 1352l21-12 15-98-22 12z"/>
<path class="t" d="M3052 1239l24 15 22-12-24-15z"/>
<path class="m" d="M3015 1350l24 16 14-100-24-15z"/>
<path class="n" d="M3039 1366l21-13 15-99-22 12z"/>
<path class="t" d="M3029 1251l24 15 22-12-24-15z"/>
<path class="m" d="M2992 1364l23 16 14-99-24-16z"/>
<path class="n" d="M3015 1380l22-13 14-99-22 13z"/>
<path class="t" d="M3005 1265l24 16 22-13-24-15z"/>
<path class="m" d="M2968 1378l24 16 13-97-24-15z"/>
<path class="n" d="M2992 1394l22-13 13-96-22 12z"/>
<path class="t" d="M2981 1282l24 15 22-12-24-16z"/>
<path class="m" d="M2944 1392l24 16 12-92-25-15z"/>
<path class="n" d="M2968 1408l22-13 12-91-22 12z"/>
<path class="t" d="M2955 1301l25 15 22-12-24-16z"/>
<path class="m" d="M2919 1406l24 16 11-84-24-16z"/>
<path class="n" d="M2943 1422l23-13 11-84-23 13z"/>
<path class="t" d="M2930 1322l24 16 23-13-24-16z"/>
<path class="m" d="M2895 1420l24 16 9-75-24-16z"/>
<path class="n" d="M2919 1436l22-13 10-75-23 13z"/>
<path class="t" d="M2904 1345l24 16 23-13-24-16z"/>
<path class="m" d="M2870 1435l24 16 8-66-25-16z"/>
<path class="n" d="M2894 1451l23-13 8-66-23 13z"/>
<path class="t" d="M2877 1369l25 16 23-13-24-16z"/>
<path class="m" d="M2844 1449l24 17 7-55-24-16z"/>
<path class="n" d="M2868 1466l24-14 6-54-23 13z"/>
<path class="t" d="M2851 1395l24 16 23-13-24-17z"/>
<path class="m" d="M2819 1464l24 17 5-43-25-17z"/>
<path class="n" d="M2843 1481l23-14 5-43-23 14z"/>
<path class="t" d="M2823 1421l25 17 23-14-24-16z"/>
<path class="m" d="M2793 1479l24 18 3-32-24-17z"/>
<path class="n" d="M2817 1497l24-15 3-31-24 14z"/>
<path class="t" d="M2796 1448l24 17 24-14-24-17z"/>
<path class="m" d="M2766 1495l24 17 2-21-24-17z"/>
<path class="n" d="M2790 1512l24-14 3-21-25 14z"/>
<path class="t" d="M2768 1474l24 17 25-14-24-17z"/>
<path class="m" d="M2739 1510l25 18 1-12-24-17z"/>
<path class="n" d="M2764 1528l24-15 1-11-24 14z"/>
<path class="t" d="M2741 1499l24 17 24-14-24-17z"/>
<path class="m" d="M2712 1526l24 18 1-4-24-18z"/>
<path class="n" d="M2736 1544l25-15 1-4-25 15z"/>
<path class="t" d="M2713 1522l24 18 25-15-24-17zM2685 1542l24 18 25-15-24-18zM2657 1558l24 18 26-15-24-18zM3380 1168l23 13 17-11-23-13zM3360 1179l24 13 17-10-23-13zM3341 1191l23 13 18-11-23-13zM3321 1202l23 14 19-11-24-14z"/>
<path class="n" d="M3324 1228l19-11 0-3-18 10z"/>
<path class="t" d="M3302 1211l23 13 18-10-23-14z"/>
<path class="n" d="M3304 1240l19-11 1-9-18 11z"/>
<path class="t" d="M3282 1217l24 14 18-11-23-14z"/>
<path class="n" d="M3284 1252l19-11 2-15-19 11z"/>
<path class="t" d="M3263 1223l23 14 19-11-23-14z"/>
<path class="n" d="M3263 1264l19-11 4-23-19 11z"/>
<path class="t" d="M3243 1227l24 14 19-11-24-14z"/>
<path class="n" d="M3242 1277l19-12 6-30-20 11z"/>
<path class="t" d="M3224 1232l23 14 20-11-24-15z"/>
<path class="n" d="M3221 1290l19-12 7-39-20 12z"/>
<path class="t" d="M3204 1236l23 15 20-12-24-14z"/>
<path class="m" d="M3176 1288l23 14 8-47-24-14z"/>
<path class="n" d="M3199 1302l20-11 8-47-20 11z"/>
<path class="t" d="M3183 1241l24 14 20-11-24-15z"/>
<path class="n" d="M3178 1315l20-12 9-54-20 12z"/>
<path class="t" d="M3163 1246l24 15 20-12-24-14z"/>
<path class="m" d="M3132 1314l24 15 9-61-24-15z"/>
<path class="n" d="M3156 1329l20-13 10-60-21 12z"/>
<path class="t" d="M3141 1253l24 15 21-12-24-15z"/>
<path class="n" d="M3133 1342l21-12 10-67-20 12z"/>
<path class="t" d="M3120 1260l24 15 20-12-24-14z"/>
<path class="n" d="M3111 1355l21-12 11-71-21 13z"/>
<path class="t" d="M3098 1269l24 16 21-13-25-15z"/>
<path class="n" d="M3088 1369l21-13 11-73-21 12z"/>
<path class="t" d="M3075 1280l24 15 21-12-24-15z"/>
<path class="m" d="M3041 1367l24 16 11-75-24-16z"/>
<path class="n" d="M3065 1383l21-13 11-75-21 13z"/>
<path class="t" d="M3052 1292l24 16 21-13-24-15z"/>
<path class="m" d="M3018 1381l24 16 10-75-24-15z"/>
<path class="n" d="M3042 1397l21-13 11-74-22 12z"/>
<path class="t" d="M3028 1307l24 15 22-12-24-16z"/>
<path class="m" d="M2994 1395l24 16 10-73-24-15z"/>
<path class="n" d="M3018 1411l22-13 10-72-22 12z"/>
<path class="t" d="M3004 1323l24 15 22-12-24-16z"/>
<path class="m" d="M2970 1409l24 16 9-69-24-15z"/>
<path class="n" d="M2994 1425l22-13 9-68-22 12z"/>
<path class="t" d="M2979 1341l24 15 22-12-24-16z"/>
<path class="m" d="M2945 1423l24 17 9-64-24-16z"/>
<path class="n" d="M2969 1440l23-14 8-63-22 13z"/>
<path class="t" d="M2954 1360l24 16 22-13-24-16z"/>
<path class="m" d="M2921 1438l24 16 7-57-24-16z"/>
<path class="n" d="M2945 1454l23-13 7-57-23 13z"/>
<path class="t" d="M2928 1381l24 16 23-13-24-16z"/>
<path class="m" d="M2896 1453l24 16 6-49-24-17z"/>
<path class="n" d="M2920 1469l23-13 6-50-23 14z"/>
<path class="t" d="M2902 1403l24 17 23-14-24-16z"/>
<path class="m" d="M2870 1468l25 16 5-41-25-17z"/>
<path class="n" d="M2895 1484l23-13 5-42-23 14z"/>
<path class="t" d="M2875 1426l25 17 23-14-24-16z"/>
<path class="m" d="M2845 1483l24 17 4-33-25-17z"/>
<path class="n" d="M2869 1500l24-14 3-33-23 14z"/>
<path class="t" d="M2848 1450l25 17 23-14-24-17z"/>
<path class="m" d="M2819 1498l24 17 3-24-25-17z"/>
<path class="n" d="M2843 1515l24-14 3-24-24 14z"/>
<path class="t" d="M2821 1474l25 17 24-14-25-17z"/>
<path class="m" d="M2792 1514l25 17 1-16-24-17z"/>
<path class="n" d="M2817 1531l24-15 2-15-25 14z"/>
<path class="t" d="M2794 1498l24 17 25-14-25-18z"/>
<path class="m" d="M2766 1529l24 18 1-9-25-17z"/>
<path class="n" d="M2790 1547l24-15 1-8-24 14z"/>
<path class="t" d="M2766 1521l25 17 24-14-24-18z"/>
<path class="m" d="M2739 1545l24 18 0-3-24-18z"/>
<path class="n" d="M2763 1563l25-15 0-3-25 15z"/>
<path class="t" d="M2739 1542l24 18 25-15-24-17zM2711 1561l24 18 26-15-25-18zM2683 1578l25 18 25-15-24-18zM3405 1182l23 13 18-10-23-13zM3386 1194l23 13 18-11-24-13zM3366 1205l24 14 18-11-24-13zM3346 1217l24 14 18-11-23-14zM3327 1227l24 14 18-11-24-14z"/>
<path class="n" d="M3330 1255l19-11 1-6-19 11z"/>
<path class="t" d="M3307 1235l24 14 19-11-24-14z"/>
<path class="n" d="M3310 1268l18-12 2-10-18 11z"/>
<path class="t" d="M3288 1243l24 14 18-11-23-14z"/>
<path class="n" d="M3289 1280l19-11 3-16-19 11z"/>
<path class="t" d="M3268 1250l24 14 19-11-24-14z"/>
<path class="n" d="M3268 1293l19-12 4-21-19 11z"/>
<path class="t" d="M3248 1257l24 14 19-11-24-15z"/>
<path class="n" d="M3247 1306l19-12 5-27-19 12z"/>
<path class="t" d="M3227 1264l25 15 19-12-24-15z"/>
<path class="n" d="M3225 1319l20-12 6-33-20 12z"/>
<path class="t" d="M3207 1271l24 15 20-12-24-14z"/>
<path class="m" d="M3180 1317l24 15 6-38-24-15z"/>
<path class="n" d="M3204 1332l20-12 6-38-20 12z"/>
<path class="t" d="M3186 1279l24 15 20-12-24-14z"/>
<path class="n" d="M3182 1345l20-12 7-42-20 12z"/>
<path class="t" d="M3164 1288l25 15 20-12-24-15z"/>
<path class="n" d="M3160 1358l20-12 8-46-21 13z"/>
<path class="t" d="M3143 1298l24 15 21-13-25-15z"/>
<path class="n" d="M3137 1372l21-13 8-48-21 12z"/>
<path class="t" d="M3120 1308l25 15 21-12-25-15z"/>
<path class="n" d="M3114 1386l21-13 8-50-21 12z"/>
<path class="t" d="M3098 1320l24 15 21-12-24-16z"/>
<path class="m" d="M3067 1384l24 16 8-52-24-15z"/>
<path class="n" d="M3091 1400l21-13 8-51-21 12z"/>
<path class="t" d="M3075 1333l24 15 21-12-24-16z"/>
<path class="m" d="M3044 1398l24 16 7-51-24-16z"/>
<path class="n" d="M3068 1414l21-13 8-51-22 13z"/>
<path class="t" d="M3051 1347l24 16 22-13-24-16z"/>
<path class="m" d="M3020 1412l24 16 7-49-24-16z"/>
<path class="n" d="M3044 1428l22-13 7-49-22 13z"/>
<path class="t" d="M3027 1363l24 16 22-13-24-16z"/>
<path class="m" d="M2996 1427l24 16 7-47-25-17z"/>
<path class="n" d="M3020 1443l22-14 7-47-22 14z"/>
<path class="t" d="M3002 1379l25 17 22-14-24-16z"/>
<path class="m" d="M2972 1441l24 17 6-44-25-16z"/>
<path class="n" d="M2996 1458l22-14 6-43-22 13z"/>
<path class="t" d="M2977 1398l25 16 22-13-24-17z"/>
<path class="m" d="M2947 1456l24 16 6-39-25-16z"/>
<path class="n" d="M2971 1472l23-13 5-39-22 13z"/>
<path class="t" d="M2952 1417l25 16 22-13-24-17z"/>
<path class="m" d="M2922 1471l24 17 5-35-25-16z"/>
<path class="n" d="M2946 1488l23-14 5-34-23 13z"/>
<path class="t" d="M2926 1437l25 16 23-13-25-17z"/>
<path class="m" d="M2897 1486l24 17 4-29-25-16z"/>
<path class="n" d="M2921 1503l23-14 4-29-23 14z"/>
<path class="t" d="M2900 1458l25 16 23-14-25-16z"/>
<path class="m" d="M2871 1501l25 17 2-22-24-17z"/>
<path class="n" d="M2896 1518l23-14 3-22-24 14z"/>
<path class="t" d="M2874 1479l24 17 24-14-25-17z"/>
<path class="m" d="M2845 1517l25 17 2-16-25-18z"/>
<path class="n" d="M2870 1534l23-14 2-17-23 15z"/>
<path class="t" d="M2847 1500l25 18 23-15-24-17z"/>
<path class="m" d="M2819 1532l24 18 1-11-24-17z"/>
<path class="n" d="M2843 1550l24-15 2-10-25 14z"/>
<path class="t" d="M2820 1522l24 17 25-14-25-18z"/>
<path class="m" d="M2792 1548l25 18 0-6-24-18z"/>
<path class="n" d="M2817 1566l24-15 1-6-25 15z"/>
<path class="t" d="M2793 1542l24 18 25-15-25-17zM2765 1563l25 18 25-15-25-18zM2738 1581l24 18 25-15-24-18zM2710 1598l24 18 26-15-25-19zM3431 1197l23 13 18-11-24-13zM3411 1208l24 14 18-11-24-13zM3392 1220l24 14 18-11-24-14zM3372 1232l24 14 18-11-24-14zM3352 1243l24 14 19-11-24-14z"/>
<path class="n" d="M3356 1271l19-12 0-3-18 11z"/>
<path class="t" d="M3333 1253l24 14 18-11-24-14z"/>
<path class="n" d="M3336 1283l18-11 2-7-19 12z"/>
<path class="t" d="M3313 1262l24 15 19-12-24-14z"/>
<path class="n" d="M3315 1296l19-12 2-9-19 11z"/>
<path class="t" d="M3293 1272l24 14 19-11-24-15z"/>
<path class="n" d="M3294 1309l19-12 3-13-19 12z"/>
<path class="t" d="M3272 1281l25 15 19-12-24-14z"/>
<path class="n" d="M3273 1322l20-12 2-16-19 12z"/>
<path class="t" d="M3252 1291l24 15 19-12-24-15z"/>
<path class="n" d="M3252 1335l19-12 4-19-20 12z"/>
<path class="t" d="M3231 1301l24 15 20-12-24-15z"/>
<path class="n" d="M3230 1348l20-12 4-22-20 12z"/>
<path class="t" d="M3210 1311l24 15 20-12-24-15z"/>
<path class="m" d="M3184 1346l24 16 4-25-24-15z"/>
<path class="n" d="M3208 1362l20-13 5-25-21 13z"/>
<path class="t" d="M3188 1322l24 15 21-13-25-15z"/>
<path class="n" d="M3186 1375l20-12 5-27-20 12z"/>
<path class="t" d="M3166 1333l25 15 20-12-24-16z"/>
<path class="n" d="M3164 1389l20-13 5-28-21 12z"/>
<path class="t" d="M3144 1345l24 15 21-12-24-16z"/>
<path class="n" d="M3141 1403l21-13 5-30-21 13z"/>
<path class="t" d="M3121 1357l25 16 21-13-25-15z"/>
<path class="m" d="M3093 1401l25 16 5-30-25-16z"/>
<path class="n" d="M3118 1417l21-13 5-30-21 13z"/>
<path class="t" d="M3098 1371l25 16 21-13-25-16z"/>
<path class="m" d="M3070 1415l24 16 5-30-25-16z"/>
<path class="n" d="M3094 1431l22-13 5-30-22 13z"/>
<path class="t" d="M3074 1385l25 16 22-13-25-16z"/>
<path class="m" d="M3046 1430l25 16 4-29-24-17z"/>
<path class="n" d="M3071 1446l22-13 4-30-22 14z"/>
<path class="t" d="M3051 1400l24 17 22-14-25-16z"/>
<path class="m" d="M3022 1444l25 17 4-28-25-17z"/>
<path class="n" d="M3047 1461l22-14 4-28-22 14z"/>
<path class="t" d="M3026 1416l25 17 22-14-25-16z"/>
<path class="m" d="M2998 1459l25 17 3-26-24-17z"/>
<path class="n" d="M3023 1476l22-14 4-26-23 14z"/>
<path class="t" d="M3002 1433l24 17 23-14-25-16z"/>
<path class="m" d="M2973 1474l25 17 3-23-24-17z"/>
<path class="n" d="M2998 1491l23-14 3-23-23 14z"/>
<path class="t" d="M2977 1451l24 17 23-14-25-17z"/>
<path class="m" d="M2949 1489l24 17 3-20-25-17z"/>
<path class="n" d="M2973 1506l23-14 3-20-23 14z"/>
<path class="t" d="M2951 1469l25 17 23-14-25-17z"/>
<path class="m" d="M2923 1504l25 18 2-17-25-17z"/>
<path class="n" d="M2948 1522l23-15 2-16-23 14z"/>
<path class="t" d="M2925 1488l25 17 23-14-24-17z"/>
<path class="m" d="M2898 1520l24 17 2-13-25-17z"/>
<path class="n" d="M2922 1537l24-14 2-13-24 14z"/>
<path class="t" d="M2899 1507l25 17 24-14-25-18z"/>
<path class="m" d="M2872 1536l24 17 2-10-25-17z"/>
<path class="n" d="M2896 1553l24-14 2-10-24 14z"/>
<path class="t" d="M2873 1526l25 17 24-14-25-18z"/>
<path class="m" d="M2845 1552l25 17 1-6-25-18z"/>
<path class="n" d="M2870 1569l24-14 1-7-24 15z"/>
<path class="t" d="M2846 1545l25 18 24-15-25-18z"/>
<path class="m" d="M2819 1568l25 18 0-4-25-18z"/>
<path class="n" d="M2844 1586l24-15 1-4-25 15z"/>
<path class="t" d="M2819 1564l25 18 25-15-25-18zM2792 1583l25 18 25-15-25-18zM2764 1601l25 18 25-15-24-18zM2736 1618l25 18 26-15-25-19zM3456 1211l24 14 18-11-24-13zM3437 1223l24 14 18-11-24-14zM3418 1235l24 14 18-11-24-14zM3398 1247l24 14 18-11-24-14zM3378 1259l24 14 19-11-24-14zM3358 1270l25 15 18-12-24-14z"/>
<path class="n" d="M3362 1299l19-12 0-2-18 11z"/>
<path class="t" d="M3338 1282l25 14 18-11-24-15z"/>
<path class="n" d="M3341 1312l19-12 1-4-19 12z"/>
<path class="t" d="M3318 1293l24 15 19-12-24-15z"/>
<path class="n" d="M3321 1325l19-12 1-6-19 12z"/>
<path class="t" d="M3297 1304l25 15 19-12-24-14z"/>
<path class="n" d="M3300 1338l19-12 1-7-19 12z"/>
<path class="t" d="M3276 1316l25 15 19-12-24-15z"/>
<path class="n" d="M3278 1351l20-12 1-8-19 12z"/>
<path class="t" d="M3255 1328l25 15 19-12-24-15z"/>
<path class="n" d="M3257 1365l20-13 1-9-20 12z"/>
<path class="t" d="M3234 1340l24 15 20-12-24-15z"/>
<path class="n" d="M3235 1378l20-12 2-11-20 13z"/>
<path class="t" d="M3212 1352l25 16 20-13-25-15z"/>
<path class="n" d="M3213 1392l20-13 2-11-20 13z"/>
<path class="t" d="M3190 1365l25 16 20-13-24-16z"/>
<path class="m" d="M3166 1390l24 16 2-12-24-16z"/>
<path class="n" d="M3190 1406l21-13 2-12-21 13z"/>
<path class="t" d="M3168 1378l24 16 21-13-25-16z"/>
<path class="m" d="M3143 1404l25 16 2-13-25-15z"/>
<path class="n" d="M3168 1420l21-13 2-13-21 13z"/>
<path class="t" d="M3145 1392l25 15 21-13-25-15z"/>
<path class="n" d="M3145 1435l21-14 2-13-21 14z"/>
<path class="t" d="M3122 1406l25 16 21-14-25-16z"/>
<path class="m" d="M3097 1433l24 16 2-13-24-16z"/>
<path class="n" d="M3121 1449l22-13 2-13-22 13z"/>
<path class="t" d="M3099 1420l24 16 22-13-25-16z"/>
<path class="m" d="M3073 1447l25 17 2-13-25-16z"/>
<path class="n" d="M3098 1464l22-14 2-12-22 13z"/>
<path class="t" d="M3075 1435l25 16 22-13-25-17z"/>
<path class="m" d="M3049 1462l25 17 2-12-25-17z"/>
<path class="n" d="M3074 1479l22-14 2-12-22 14z"/>
<path class="t" d="M3051 1450l25 17 22-14-25-16z"/>
<path class="m" d="M3025 1477l25 17 1-11-25-17z"/>
<path class="n" d="M3050 1494l22-14 2-11-23 14z"/>
<path class="t" d="M3026 1466l25 17 23-14-25-17z"/>
<path class="m" d="M3000 1492l25 17 2-10-25-17z"/>
<path class="n" d="M3025 1509l23-14 1-10-22 14z"/>
<path class="t" d="M3002 1482l25 17 22-14-25-17z"/>
<path class="m" d="M2975 1508l25 17 2-9-25-17z"/>
<path class="n" d="M3000 1525l23-14 1-9-22 14z"/>
<path class="t" d="M2977 1499l25 17 22-14-25-17z"/>
<path class="m" d="M2950 1523l25 18 1-8-25-17z"/>
<path class="n" d="M2975 1541l23-15 1-7-23 14z"/>
<path class="t" d="M2951 1516l25 17 23-14-25-17z"/>
<path class="m" d="M2925 1539l25 18 0-6-25-18z"/>
<path class="n" d="M2950 1557l23-15 1-6-24 15z"/>
<path class="t" d="M2925 1533l25 18 24-15-25-17z"/>
<path class="m" d="M2899 1555l25 18 0-5-25-17z"/>
<path class="n" d="M2924 1573l24-15 0-4-24 14z"/>
<path class="t" d="M2899 1551l25 17 24-14-25-18z"/>
<path class="m" d="M2872 1571l25 18 1-3-25-18z"/>
<path class="n" d="M2897 1589l25-15 0-3-24 15z"/>
<path class="t" d="M2873 1568l25 18 24-15-25-18zM2846 1586l25 18 25-15-26-18zM2819 1604l25 18 25-15-25-19zM2791 1621l26 19 25-16-25-19zM2764 1638l25 19 25-16-25-19zM3482 1226l25 14 17-11-24-14zM3463 1238l24 14 18-11-24-14zM3444 1250l24 14 18-11-24-14zM3424 1263l25 14 18-12-25-14zM3405 1275l24 14 18-11-24-15zM3384 1287l25 15 18-12-24-14zM3364 1300l25 15 18-12-24-15zM3344 1313l24 14 19-12-24-14zM3323 1325l25 15 19-12-25-15zM3302 1338l25 16 19-13-25-15zM3281 1352l24 15 20-13-25-15zM3259 1365l25 15 20-12-25-15zM3237 1378l25 16 20-13-25-15zM3215 1392l25 16 20-13-24-16zM3193 1406l25 16 20-13-25-16zM3170 1420l25 16 21-13-25-16zM3147 1435l25 16 21-13-25-17zM3124 1449l25 17 21-14-25-16zM3100 1464l25 17 22-14-25-17zM3076 1479l25 17 22-14-25-17zM3052 1494l25 17 23-14-26-17zM3028 1510l25 17 22-14-25-17zM3003 1525l25 18 23-15-25-17zM2977 1541l26 18 23-15-25-17zM2952 1557l25 18 24-15-26-17zM2926 1574l25 18 24-15-25-18zM2900 1590l25 19 24-16-25-18zM2873 1607l26 19 24-16-25-18zM2846 1624l26 19 24-16-25-18zM2819 1641l25 19 25-16-25-19zM2791 1659l26 19 25-16-25-19zM3509 1241l24 14 17-11-24-14zM3490 1253l24 14 18-11-25-14zM3470 1266l25 14 18-12-25-14zM3451 1278l24 14 18-11-24-14zM3431 1291l25 14 18-12-25-14zM3411 1303l25 15 18-12-25-14zM3391 1316l25 15 18-12-25-15zM3370 1329l25 15 19-12-25-15zM3350 1342l24 15 19-12-24-15zM3329 1356l25 15 19-13-25-15zM3307 1369l25 16 20-13-25-15zM3286 1383l25 15 20-12-25-16zM3264 1397l25 15 20-12-25-16zM3242 1411l25 16 20-13-25-16zM3220 1425l25 16 20-13-25-16zM3197 1439l25 17 21-14-25-16zM3174 1454l25 16 21-13-25-17zM3151 1469l25 16 21-14-25-16zM3127 1483l26 17 21-14-25-16zM3103 1499l26 17 22-14-26-17zM3079 1514l26 17 22-14-25-17zM3055 1530l25 17 23-15-26-17zM3030 1545l26 18 22-15-25-17zM3005 1561l25 18 24-15-26-17zM2979 1577l26 18 23-15-25-17zM2954 1594l25 18 24-15-26-18zM2927 1610l26 19 24-16-26-18zM2901 1627l25 19 25-16-26-18zM2874 1644l26 19 24-16-25-18zM2846 1662l26 19 25-16-25-19zM2819 1679l26 20 25-17-26-19zM3535 1256l25 15 17-12-25-14zM3516 1269l25 14 17-12-24-14zM3497 1281l25 14 17-11-24-14zM3478 1294l24 14 18-12-25-14zM3458 1306l25 15 18-12-25-14zM3438 1319l25 15 18-12-25-15zM3418 1332l25 15 18-12-25-15zM3397 1345l25 16 19-13-25-15zM3377 1359l25 15 19-12-25-16zM3356 1372l25 16 19-13-25-15zM3335 1386l25 16 19-13-25-16zM3313 1400l25 16 20-13-25-16zM3291 1414l26 16 20-13-26-16zM3269 1428l26 16 20-13-25-16zM3247 1442l25 17 21-14-25-16zM3224 1457l26 16 21-13-26-16zM3202 1472l25 16 21-13-25-17zM3178 1487l26 16 21-13-25-17zM3155 1502l26 17 21-14-25-17zM3131 1517l26 17 22-14-26-17zM3107 1533l26 17 22-14-26-18zM3083 1548l25 18 23-15-26-17zM3058 1564l26 18 22-15-25-17zM3033 1581l26 18 23-15-26-18zM3007 1597l26 18 24-15-26-18zM2981 1614l26 18 24-15-26-19zM2955 1631l26 18 24-15-26-19zM2929 1648l26 19 24-16-26-19zM2902 1665l26 19 25-16-26-19zM2875 1683l26 19 25-16-26-20zM2847 1700l26 20 25-17-26-19zM3562 1272l25 14 17-11-25-15zM3543 1284l25 15 17-12-24-14zM3524 1297l25 14 18-11-25-15zM3505 1309l25 15 17-12-25-14zM3485 1322l25 15 18-12-25-15zM3465 1335l25 15 19-12-26-15zM3445 1348l25 16 19-13-26-15zM3425 1362l25 15 19-12-26-15zM3404 1375l25 16 19-13-25-15zM3383 1389l26 16 19-13-26-16zM3362 1403l25 16 20-13-26-16zM3341 1417l25 16 20-13-26-16zM3319 1431l26 16 19-13-25-16zM3297 1445l26 17 20-14-26-16zM3275 1460l25 17 21-14-26-16zM3252 1475l26 16 21-13-26-17zM3229 1490l26 17 21-14-26-17zM3206 1505l26 17 21-14-26-17zM3183 1520l26 18 21-15-26-17zM3159 1536l26 17 22-14-26-17zM3135 1552l26 17 22-14-26-18zM3111 1568l26 17 22-14-26-18zM3086 1584l26 18 23-15-26-18zM3061 1600l26 18 23-15-26-18zM3035 1617l27 18 23-15-26-18zM3010 1634l26 18 24-15-27-19zM2984 1651l26 19 24-16-26-19zM2957 1668l26 19 25-16-27-19zM2930 1686l27 19 24-16-26-19zM2903 1704l26 19 25-16-26-20zM2875 1722l27 20 25-17-26-20z"/>
<g class="tk"><text x="2095" y="1251" font-size="58" text-anchor="middle">0</text><text x="2307" y="1412" font-size="58" text-anchor="middle">10</text><text x="2554" y="1595" font-size="58" text-anchor="middle">20</text><text x="2809" y="1803" font-size="58" text-anchor="middle">30</text><text x="2958" y="1825" font-size="58" text-anchor="middle">0</text><text x="3221" y="1659" font-size="58" text-anchor="middle">10</text><text x="3455" y="1506" font-size="58" text-anchor="middle">20</text><text x="3638" y="1361" font-size="58" text-anchor="middle">30</text><text x="2099" y="443" font-size="58" text-anchor="end">0.2</text><text x="2099" y="852" font-size="58" text-anchor="end">0.1</text><text x="2099" y="1209" font-size="58" text-anchor="end">0.0</text></g>
</g>
<g id="pc">
<path class="ax" d="M398 3448 L1063 4078 M1063 4078 L1846 3611 M398 3448 L382 2477 M416 3464 L444 3453 M1093 4060 L1068 4037 M451 3498 L468 3491 M1150 4026 L1135 4012 M487 3532 L504 3525 M1206 3992 L1191 3979 M524 3567 L541 3559 M1261 3960 L1246 3947 M561 3602 L578 3595 M1315 3928 L1299 3915 M600 3639 L628 3626 M1367 3897 L1342 3876 M639 3676 L656 3668 M1417 3867 L1402 3854 M680 3714 L697 3706 M1467 3837 L1452 3825 M721 3753 L738 3745 M1516 3808 L1501 3796 M763 3793 L780 3785 M1563 3780 L1548 3768 M806 3834 L835 3819 M1609 3752 L1584 3733 M850 3876 L868 3867 M1655 3725 L1640 3714 M896 3919 L913 3909 M1699 3699 L1684 3688 M942 3963 L960 3953 M1742 3673 L1727 3662 M990 4008 L1007 3998 M1785 3648 L1770 3637 M1039 4054 L1068 4037 M1826 3623 L1801 3606 M398 3431 L419 3450 M397 3372 L408 3382 M396 3312 L407 3322 M395 3251 L406 3260 M394 3188 L416 3207 M393 3124 L404 3133 M392 3058 L403 3068 M391 2992 L402 3001 M389 2923 L412 2941 M388 2853 L400 2862 M387 2781 L399 2790 M386 2708 L398 2717 M385 2633 L408 2650 M383 2556 L395 2564 M382 2477 L394 2485"/>
<path class="t" d="M729 2922l18 12 24-7-18-13z"/>
<path class="m" d="M663 3337l17 14 12-386-17-13z"/>
<path class="n" d="M680 3351l23-9 14-385-25 8z"/>
<path class="t" d="M675 2952l17 13 25-8-17-13z"/>
<path class="m" d="M612 3358l16 14 9-376-17-13z"/>
<path class="n" d="M628 3372l24-10 11-374-26 8z"/>
<path class="t" d="M620 2983l17 13 26-8-18-14z"/>
<path class="m" d="M559 3379l16 14 6-366-18-13z"/>
<path class="n" d="M575 3393l25-9 7-365-26 8z"/>
<path class="t" d="M563 3014l18 13 26-8-18-14z"/>
<path class="m" d="M505 3400l17 15 1-355-17-14z"/>
<path class="n" d="M522 3415l24-10 4-354-27 9z"/>
<path class="t" d="M506 3046l17 14 27-9-17-14z"/>
<path class="n" d="M467 3437l25-10 0-344-27 9z"/>
<path class="t" d="M448 3078l17 14 27-9-17-14z"/>
<path class="m" d="M423 3433l16 16-8-770-18-13z"/>
<path class="n" d="M439 3449l25-11-3-766-30 7z"/>
<path class="t" d="M413 2666l18 13 30-7-19-13z"/>
<path class="n" d="M566 3420l25-10 5-289-26 9z"/>
<path class="t" d="M553 3116l17 14 26-9-17-14z"/>
<path class="n" d="M512 3442l25-10 2-275-26 9z"/>
<path class="t" d="M496 3152l17 14 26-9-17-14z"/>
<path class="m" d="M440 3450l16 15-1-267-17-14z"/>
<path class="n" d="M456 3465l26-10 0-266-27 9z"/>
<path class="t" d="M438 3184l17 14 27-9-17-15z"/>
<path class="m" d="M699 3368l17 14 18-448-18-13z"/>
<path class="n" d="M716 3382l23-10 20-446-25 8z"/>
<path class="t" d="M716 2921l18 13 25-8-18-13z"/>
<path class="m" d="M647 3389l17 14 13-417-18-13z"/>
<path class="n" d="M664 3403l24-10 15-416-26 9z"/>
<path class="t" d="M659 2973l18 13 26-9-18-13z"/>
<path class="m" d="M595 3410l16 15 9-385-18-14z"/>
<path class="n" d="M611 3425l25-10 10-384-26 9z"/>
<path class="t" d="M602 3026l18 14 26-9-18-13z"/>
<path class="m" d="M541 3432l16 15 5-355-18-14z"/>
<path class="n" d="M557 3447l25-10 6-354-26 9z"/>
<path class="t" d="M544 3078l18 14 26-9-18-14z"/>
<path class="m" d="M486 3455l16 15 1-334-18-14z"/>
<path class="n" d="M502 3470l26-10 2-333-27 9z"/>
<path class="t" d="M485 3122l18 14 27-9-18-14z"/>
<path class="m" d="M458 3466l16 16 0-114-17-15z"/>
<path class="n" d="M474 3482l26-11 0-114-26 11z"/>
<path class="t" d="M457 3353l17 15 26-11-17-15z"/>
<path class="n" d="M603 3453l25-11 7-298-26 9z"/>
<path class="t" d="M591 3139l18 14 26-9-18-14z"/>
<path class="n" d="M548 3475l26-10 3-262-26 10z"/>
<path class="t" d="M533 3198l18 15 26-10-17-14z"/>
<path class="m" d="M476 3483l16 16 0-249-17-15z"/>
<path class="n" d="M492 3499l26-11 1-248-27 10z"/>
<path class="t" d="M475 3235l17 15 27-10-17-15z"/>
<path class="m" d="M787 3378l17 14 33-587-20-13z"/>
<path class="n" d="M804 3392l23-10 35-585-25 8z"/>
<path class="t" d="M817 2792l20 13 25-8-19-12z"/>
<path class="m" d="M736 3399l17 14 25-535-19-13z"/>
<path class="n" d="M753 3413l24-10 27-533-26 8z"/>
<path class="t" d="M759 2865l19 13 26-8-19-13z"/>
<path class="m" d="M684 3421l17 14 18-469-19-14z"/>
<path class="n" d="M701 3435l24-10 20-468-26 9z"/>
<path class="t" d="M700 2952l19 14 26-9-19-13z"/>
<path class="m" d="M631 3443l17 15 12-400-19-14z"/>
<path class="n" d="M648 3458l25-11 13-398-26 9z"/>
<path class="t" d="M641 3044l19 14 26-9-19-14z"/>
<path class="m" d="M577 3465l17 16 6-338-18-14z"/>
<path class="n" d="M594 3481l25-11 8-336-27 9z"/>
<path class="t" d="M582 3129l18 14 27-9-18-15z"/>
<path class="m" d="M522 3488l17 16 2-299-17-15z"/>
<path class="n" d="M539 3504l25-11 4-298-27 10z"/>
<path class="t" d="M524 3190l17 15 27-10-18-15z"/>
<path class="m" d="M494 3500l17 16 0-103-17-15z"/>
<path class="t" d="M494 3398l17 15 26-10-17-16z"/>
<path class="m" d="M676 3448l18 15 14-381-19-15z"/>
<path class="n" d="M694 3463l24-11 16-380-26 10z"/>
<path class="t" d="M689 3067l19 15 26-10-19-14z"/>
<path class="m" d="M623 3470l17 16 8-298-18-15z"/>
<path class="n" d="M640 3486l25-11 9-297-26 10z"/>
<path class="t" d="M630 3173l18 15 26-10-18-14zM599 3322l17 15 26-10-18-15z"/>
<path class="m" d="M568 3494l17 15 4-233-18-15z"/>
<path class="n" d="M585 3509l26-11 5-232-27 10z"/>
<path class="t" d="M571 3261l18 15 27-10-18-15zM541 3386l18 15 26-11-18-15z"/>
<path class="m" d="M512 3517l17 16 2-214-18-15z"/>
<path class="n" d="M529 3533l26-11 3-213-27 10z"/>
<path class="t" d="M513 3304l18 15 27-10-18-15z"/>
<path class="m" d="M874 3388l18 14 52-733-20-12z"/>
<path class="n" d="M892 3402l23-10 55-730-26 7z"/>
<path class="t" d="M924 2657l20 12 26-7-21-12z"/>
<path class="m" d="M824 3409l18 14 44-692-20-13z"/>
<path class="n" d="M842 3423l23-10 46-690-25 8z"/>
<path class="t" d="M866 2718l20 13 25-8-20-12z"/>
<path class="m" d="M774 3431l17 14 33-611-20-13z"/>
<path class="n" d="M791 3445l24-10 35-609-26 8z"/>
<path class="t" d="M804 2821l20 13 26-8-20-13z"/>
<path class="m" d="M722 3453l17 15 23-507-19-14z"/>
<path class="n" d="M739 3468l24-10 25-506-26 9z"/>
<path class="t" d="M743 2947l19 14 26-9-19-14z"/>
<path class="m" d="M669 3476l17 15 14-397-19-15z"/>
<path class="n" d="M686 3491l25-11 15-396-26 10z"/>
<path class="t" d="M681 3079l19 15 26-10-19-14z"/>
<path class="m" d="M614 3499l18 15 7-300-18-15z"/>
<path class="n" d="M632 3514l25-10 9-300-27 10z"/>
<path class="t" d="M621 3199l18 15 27-10-19-15z"/>
<path class="m" d="M559 3522l17 16 4-245-18-15z"/>
<path class="n" d="M576 3538l26-11 5-244-27 10z"/>
<path class="t" d="M562 3278l18 15 27-10-18-15z"/>
<path class="m" d="M531 3535l17 16 1-85-18-16z"/>
<path class="n" d="M548 3551l26-12 1-84-26 11z"/>
<path class="t" d="M531 3450l18 16 26-11-17-16z"/>
<path class="m" d="M818 3436l18 14 39-631-20-14z"/>
<path class="n" d="M836 3450l23-10 42-629-26 8z"/>
<path class="t" d="M855 2805l20 14 26-8-20-13z"/>
<path class="m" d="M767 3458l18 15 27-524-19-14z"/>
<path class="n" d="M785 3473l23-10 30-523-26 9z"/>
<path class="t" d="M793 2935l19 14 26-9-19-14z"/>
<path class="m" d="M741 3469l17 15 18-372-19-15z"/>
<path class="t" d="M757 3097l19 15 26-10-19-14z"/>
<path class="m" d="M714 3481l18 15 17-400-19-15z"/>
<path class="n" d="M732 3496l24-11 19-398-26 9z"/>
<path class="t" d="M730 3081l19 15 26-9-19-15z"/>
<path class="n" d="M705 3508l25-11 11-253-26 10z"/>
<path class="m" d="M660 3504l18 16 10-281-19-15z"/>
<path class="n" d="M678 3520l25-11 11-280-26 10z"/>
<path class="t" d="M669 3224l19 15 26-10-19-15z"/>
<path class="n" d="M651 3532l25-11 5-151-26 11z"/>
<path class="m" d="M606 3528l17 16 5-191-19-15z"/>
<path class="n" d="M623 3544l25-11 6-190-26 10z"/>
<path class="t" d="M609 3338l19 15 26-10-18-15z"/>
<path class="n" d="M595 3556l26-11 2-94-26 11z"/>
<path class="t" d="M579 3446l18 16 26-11-18-16z"/>
<path class="m" d="M549 3552l18 16 2-166-18-16z"/>
<path class="n" d="M567 3568l26-11 3-166-27 11z"/>
<path class="t" d="M551 3386l18 16 27-11-18-16z"/>
<path class="n" d="M1028 3391l22-10 73-739-24 7z"/>
<path class="t" d="M1078 2637l21 12 24-7-21-12z"/>
<path class="m" d="M962 3397l18 15 70-805-21-12z"/>
<path class="n" d="M980 3412l22-10 73-802-25 7z"/>
<path class="t" d="M1029 2595l21 12 25-7-21-12z"/>
<path class="m" d="M913 3419l18 14 64-813-21-13z"/>
<path class="n" d="M931 3433l23-10 67-810-26 7z"/>
<path class="t" d="M974 2607l21 13 26-7-21-13z"/>
<path class="m" d="M863 3441l18 15 53-761-20-12z"/>
<path class="n" d="M881 3456l23-11 56-757-26 7z"/>
<path class="t" d="M914 2683l20 12 26-7-20-13z"/>
<path class="m" d="M812 3463l18 15 40-653-20-13z"/>
<path class="n" d="M830 3478l24-10 42-651-26 8z"/>
<path class="t" d="M850 2812l20 13 26-8-20-13z"/>
<path class="m" d="M760 3486l18 15 27-516-20-14z"/>
<path class="n" d="M778 3501l24-10 29-515-26 9z"/>
<path class="t" d="M785 2971l20 14 26-9-20-14zM747 3191l19 14 25-9-18-15z"/>
<path class="m" d="M707 3509l17 16 16-373-19-15z"/>
<path class="n" d="M724 3525l25-11 18-372-27 10z"/>
<path class="t" d="M721 3137l19 15 27-10-20-14z"/>
<path class="n" d="M697 3537l25-11 8-180-26 11z"/>
<path class="t" d="M686 3341l18 16 26-11-19-15z"/>
<path class="m" d="M652 3533l18 16 8-249-18-15z"/>
<path class="n" d="M670 3549l25-11 9-248-26 10z"/>
<path class="t" d="M660 3285l18 15 26-10-18-16zM627 3461l18 16 25-11-18-16z"/>
<path class="m" d="M597 3557l17 17 4-180-18-16z"/>
<path class="n" d="M614 3574l26-12 5-179-27 11z"/>
<path class="t" d="M600 3378l18 16 27-11-18-16z"/>
<path class="m" d="M568 3570l18 16 1-62-18-17z"/>
<path class="n" d="M586 3586l26-11 1-63-26 12z"/>
<path class="t" d="M569 3507l18 17 26-12-18-16z"/>
<path class="n" d="M1071 3395l22-9 70-657-23 7z"/>
<path class="t" d="M1119 2724l21 12 23-7-21-12z"/>
<path class="n" d="M1024 3417l22-10 74-749-24 7z"/>
<path class="t" d="M1074 2653l22 12 24-7-21-12z"/>
<path class="n" d="M975 3438l23-10 72-788-26 7z"/>
<path class="m" d="M908 3446l18 15 60-769-21-12z"/>
<path class="n" d="M926 3461l23-11 63-765-26 7z"/>
<path class="t" d="M965 2680l21 12 26-7-21-13z"/>
<path class="n" d="M901 3472l23-11 51-656-25 8z"/>
<path class="t" d="M929 2800l21 13 25-8-20-13z"/>
<path class="m" d="M857 3468l18 15 48-679-21-13z"/>
<path class="n" d="M875 3483l24-10 50-677-26 8z"/>
<path class="t" d="M902 2791l21 13 26-8-21-13z"/>
<path class="m" d="M832 3479l18 16 35-550-20-13z"/>
<path class="n" d="M850 3495l23-11 38-547-26 8z"/>
<path class="t" d="M865 2932l20 13 26-8-20-14z"/>
<path class="m" d="M806 3491l18 15 33-546-20-14z"/>
<path class="n" d="M824 3506l24-10 35-545-26 9z"/>
<path class="t" d="M837 2946l20 14 26-9-20-14z"/>
<path class="m" d="M779 3503l18 15 23-408-19-14z"/>
<path class="n" d="M797 3518l25-11 24-406-26 9z"/>
<path class="t" d="M801 3096l19 14 26-9-20-15z"/>
<path class="m" d="M753 3514l18 16 20-394-19-15z"/>
<path class="n" d="M771 3530l24-11 22-392-26 9z"/>
<path class="t" d="M772 3121l19 15 26-9-19-15z"/>
<path class="m" d="M726 3526l18 16 12-260-19-16z"/>
<path class="n" d="M744 3542l25-11 13-260-26 11z"/>
<path class="t" d="M737 3266l19 16 26-11-19-15z"/>
<path class="m" d="M699 3538l18 16 10-249-19-15z"/>
<path class="n" d="M717 3554l25-11 11-248-26 10z"/>
<path class="t" d="M708 3290l19 15 26-10-19-15z"/>
<path class="m" d="M671 3550l18 17 5-134-18-16z"/>
<path class="n" d="M689 3567l26-12 5-133-26 11z"/>
<path class="t" d="M676 3417l18 16 26-11-18-16z"/>
<path class="m" d="M644 3563l18 16 4-140-18-16z"/>
<path class="n" d="M662 3579l25-11 5-140-26 11z"/>
<path class="t" d="M648 3423l18 16 26-11-18-16z"/>
<path class="n" d="M634 3592l25-12 2-64-26 11z"/>
<path class="t" d="M617 3511l18 16 26-11-18-17z"/>
<path class="m" d="M587 3588l18 16 3-114-19-16z"/>
<path class="n" d="M605 3604l26-11 3-114-26 11z"/>
<path class="t" d="M589 3474l19 16 26-11-18-16z"/>
<path class="m" d="M1049 3407l19 15 77-747-21-13z"/>
<path class="n" d="M1068 3422l22-10 79-744-24 7z"/>
<path class="t" d="M1124 2662l21 13 24-7-21-13z"/>
<path class="m" d="M1001 3429l19 14 78-820-22-12z"/>
<path class="n" d="M1020 3443l22-10 81-817-25 7z"/>
<path class="t" d="M1076 2611l22 12 25-7-22-12zM1040 2713l22 13 25-8-22-12z"/>
<path class="m" d="M952 3451l19 15 72-830-22-13z"/>
<path class="n" d="M971 3466l23-11 74-826-25 7z"/>
<path class="t" d="M1021 2623l22 13 25-7-21-13z"/>
<path class="m" d="M928 3462l18 15 58-704-21-13z"/>
<path class="n" d="M946 3477l23-10 60-701-25 7z"/>
<path class="t" d="M983 2760l21 13 25-7-21-13z"/>
<path class="m" d="M902 3473l19 15 59-767-21-13z"/>
<path class="n" d="M921 3488l23-10 63-765-27 8z"/>
<path class="t" d="M959 2708l21 13 27-8-22-13z"/>
<path class="n" d="M895 3500l24-11 47-611-26 8z"/>
<path class="t" d="M920 2873l20 13 26-8-21-14z"/>
<path class="m" d="M851 3496l19 16 44-646-21-14z"/>
<path class="n" d="M870 3512l23-11 47-644-26 9z"/>
<path class="t" d="M893 2852l21 14 26-9-21-13z"/>
<path class="m" d="M825 3508l19 15 30-477-20-15z"/>
<path class="n" d="M844 3523l23-10 33-477-26 10z"/>
<path class="t" d="M854 3031l20 15 26-10-20-14z"/>
<path class="m" d="M799 3520l18 15 29-489-20-15z"/>
<path class="n" d="M817 3535l24-11 32-488-27 10z"/>
<path class="t" d="M826 3031l20 15 27-10-20-14z"/>
<path class="m" d="M772 3531l19 16 17-321-19-16z"/>
<path class="n" d="M791 3547l24-11 19-321-26 11z"/>
<path class="t" d="M789 3210l19 16 26-11-19-15z"/>
<path class="m" d="M746 3543l18 17 16-328-19-15z"/>
<path class="n" d="M764 3560l25-12 17-326-26 10z"/>
<path class="t" d="M761 3217l19 15 26-10-19-15z"/>
<path class="m" d="M718 3556l19 16 7-174-18-16z"/>
<path class="n" d="M737 3572l25-11 8-174-26 11z"/>
<path class="t" d="M726 3382l18 16 26-11-19-15z"/>
<path class="m" d="M691 3568l18 16 8-188-19-16z"/>
<path class="n" d="M709 3584l25-11 9-188-26 11z"/>
<path class="t" d="M698 3380l19 16 26-11-19-15z"/>
<path class="m" d="M663 3580l18 17 3-64-19-16z"/>
<path class="t" d="M665 3517l19 16 25-11-18-16z"/>
<path class="m" d="M635 3593l18 17 4-112-19-17z"/>
<path class="n" d="M653 3610l26-12 4-112-26 12z"/>
<path class="t" d="M638 3481l19 17 26-12-19-16z"/>
<path class="m" d="M607 3606l18 17 1-40-18-16z"/>
<path class="n" d="M625 3623l26-12 1-39-26 11z"/>
<path class="t" d="M608 3567l18 16 26-11-18-17zM1359 3289l19 13 19-9-19-13zM1138 2762l21 12 24-7-21-13z"/>
<path class="m" d="M1046 3434l18 14 77-747-21-12z"/>
<path class="n" d="M1064 3448l22-10 80-744-25 7z"/>
<path class="t" d="M1120 2689l21 12 25-7-22-12z"/>
<path class="m" d="M997 3456l19 15 75-790-22-13z"/>
<path class="n" d="M1016 3471l22-11 78-787-25 8z"/>
<path class="t" d="M1069 2668l22 13 25-8-22-12z"/>
<path class="m" d="M972 3467l19 15 67-745-21-13z"/>
<path class="n" d="M991 3482l23-10 70-742-26 7z"/>
<path class="t" d="M1037 2724l21 13 26-7-22-13z"/>
<path class="m" d="M948 3478l18 15 66-763-22-13z"/>
<path class="n" d="M966 3493l23-10 69-761-26 8z"/>
<path class="t" d="M1010 2717l22 13 26-8-22-13z"/>
<path class="m" d="M922 3490l19 15 56-683-21-14z"/>
<path class="n" d="M941 3505l23-11 59-680-26 8z"/>
<path class="t" d="M976 2808l21 14 26-8-22-14z"/>
<path class="m" d="M897 3501l18 16 52-668-21-14z"/>
<path class="n" d="M915 3517l24-11 54-666-26 9z"/>
<path class="t" d="M946 2835l21 14 26-9-21-13z"/>
<path class="m" d="M871 3513l19 16 41-564-21-14z"/>
<path class="n" d="M890 3529l23-11 44-561-26 8z"/>
<path class="t" d="M910 2951l21 14 26-8-21-15z"/>
<path class="m" d="M845 3525l19 16 35-525-20-15z"/>
<path class="n" d="M864 3541l24-11 37-523-26 9z"/>
<path class="t" d="M879 3001l20 15 26-9-20-15z"/>
<path class="m" d="M819 3537l18 16 26-409-20-15z"/>
<path class="n" d="M837 3553l25-12 27-407-26 10z"/>
<path class="t" d="M843 3129l20 15 26-10-20-14z"/>
<path class="m" d="M792 3549l19 16 21-361-20-15z"/>
<path class="n" d="M811 3565l24-11 23-360-26 10z"/>
<path class="t" d="M812 3189l20 15 26-10-20-15z"/>
<path class="m" d="M765 3561l19 16 13-247-19-16z"/>
<path class="n" d="M784 3577l25-11 14-247-26 11z"/>
<path class="t" d="M778 3314l19 16 26-11-19-16z"/>
<path class="m" d="M738 3573l19 17 10-205-20-16z"/>
<path class="n" d="M757 3590l25-12 11-204-26 11z"/>
<path class="t" d="M747 3369l20 16 26-11-20-16z"/>
<path class="m" d="M711 3586l18 16 5-110-19-16z"/>
<path class="n" d="M729 3602l25-11 6-110-26 11z"/>
<path class="t" d="M715 3476l19 16 26-11-19-16z"/>
<path class="m" d="M683 3598l18 17 4-89-19-17z"/>
<path class="n" d="M701 3615l26-12 4-89-26 12z"/>
<path class="t" d="M686 3509l19 17 26-12-19-16z"/>
<path class="n" d="M673 3628l26-12 1-36-26 12z"/>
<path class="t" d="M656 3575l18 17 26-12-18-16z"/>
<path class="m" d="M626 3624l19 17 1-63-18-17z"/>
<path class="n" d="M645 3641l26-12 2-63-27 12z"/>
<path class="t" d="M628 3561l18 17 27-12-19-17zM1380 3305l19 13 19-9-19-13z"/>
<path class="n" d="M1156 3432l21-10 69-564-23 8z"/>
<path class="t" d="M1202 2853l21 13 23-8-21-13z"/>
<path class="n" d="M1132 3442l22-10 70-584-24 8z"/>
<path class="m" d="M1090 3439l19 14 76-689-21-13z"/>
<path class="n" d="M1109 3453l22-10 78-687-24 8z"/>
<path class="t" d="M1164 2751l21 13 24-8-21-12z"/>
<path class="n" d="M1085 3465l22-11 76-684-25 8z"/>
<path class="t" d="M1137 2765l21 13 25-8-22-13z"/>
<path class="m" d="M1042 3461l19 15 78-764-22-13z"/>
<path class="n" d="M1061 3476l22-11 81-760-25 7z"/>
<path class="t" d="M1117 2699l22 13 25-7-22-13z"/>
<path class="m" d="M1017 3472l19 15 72-728-22-13z"/>
<path class="n" d="M1036 3487l23-10 74-726-25 8z"/>
<path class="t" d="M1086 2746l22 13 25-8-22-13z"/>
<path class="m" d="M993 3483l19 16 72-773-21-13z"/>
<path class="n" d="M1012 3499l22-11 76-770-26 8z"/>
<path class="t" d="M1063 2713l21 13 26-8-22-13z"/>
<path class="n" d="M987 3510l23-10 65-700-25 8z"/>
<path class="t" d="M1028 2795l22 13 25-8-21-13z"/>
<path class="m" d="M943 3506l18 16 61-710-21-14z"/>
<path class="n" d="M961 3522l24-11 63-707-26 8z"/>
<path class="t" d="M1001 2798l21 14 26-8-22-14z"/>
<path class="m" d="M917 3518l19 16 49-609-21-14z"/>
<path class="n" d="M936 3534l23-11 52-607-26 9z"/>
<path class="t" d="M964 2911l21 14 26-9-21-14z"/>
<path class="m" d="M891 3530l19 16 45-588-21-14z"/>
<path class="n" d="M910 3546l24-11 47-586-26 9z"/>
<path class="t" d="M934 2944l21 14 26-9-21-14z"/>
<path class="m" d="M865 3542l19 16 34-469-21-15z"/>
<path class="n" d="M884 3558l24-11 36-468-26 10z"/>
<path class="t" d="M897 3074l21 15 26-10-21-14z"/>
<path class="m" d="M839 3554l19 16 29-430-21-15z"/>
<path class="n" d="M858 3570l24-11 31-429-26 10z"/>
<path class="t" d="M866 3125l21 15 26-10-21-15z"/>
<path class="m" d="M812 3566l19 16 19-308-20-15z"/>
<path class="n" d="M831 3582l24-11 21-307-26 10z"/>
<path class="t" d="M830 3259l20 15 26-10-20-15z"/>
<path class="m" d="M785 3579l19 16 15-267-19-16z"/>
<path class="n" d="M804 3595l25-12 16-266-26 11z"/>
<path class="t" d="M800 3312l19 16 26-11-19-15z"/>
<path class="m" d="M758 3591l19 17 8-156-19-16z"/>
<path class="n" d="M777 3608l25-12 9-155-26 11z"/>
<path class="t" d="M766 3436l19 16 26-11-19-16z"/>
<path class="m" d="M731 3604l18 16 6-127-19-16z"/>
<path class="n" d="M749 3620l26-11 6-127-26 11z"/>
<path class="t" d="M736 3477l19 16 26-11-19-16z"/>
<path class="m" d="M703 3616l18 17 2-42-19-17z"/>
<path class="t" d="M704 3574l19 17 26-12-19-17z"/>
<path class="m" d="M675 3629l18 17 2-51-19-17z"/>
<path class="n" d="M693 3646l26-12 2-51-26 12z"/>
<path class="t" d="M676 3578l19 17 26-12-18-17z"/>
<path class="m" d="M646 3643l19 17 0-18-18-18z"/>
<path class="n" d="M665 3660l26-12 0-19-26 13z"/>
<path class="t" d="M647 3624l18 18 26-13-18-17zM1400 3319l19 14 20-9-20-14zM1379 3329l19 14 20-10-19-13z"/>
<path class="n" d="M1153 3458l22-10 71-581-23 8z"/>
<path class="t" d="M1201 2862l22 13 23-8-21-13z"/>
<path class="n" d="M1130 3470l21-11 74-623-23 9z"/>
<path class="t" d="M1180 2831l22 14 23-9-21-13z"/>
<path class="m" d="M1086 3466l20 15 75-682-22-13z"/>
<path class="n" d="M1106 3481l22-11 78-679-25 8z"/>
<path class="t" d="M1159 2786l22 13 25-8-22-13z"/>
<path class="m" d="M1062 3477l19 15 75-696-22-13z"/>
<path class="n" d="M1081 3492l23-10 77-694-25 8z"/>
<path class="t" d="M1134 2783l22 13 25-8-22-13z"/>
<path class="m" d="M1038 3488l19 16 74-723-22-13z"/>
<path class="n" d="M1057 3504l22-11 77-720-25 8z"/>
<path class="t" d="M1109 2768l22 13 25-8-22-13z"/>
<path class="m" d="M1013 3500l19 15 70-704-22-14z"/>
<path class="n" d="M1032 3515l23-10 72-702-25 8z"/>
<path class="t" d="M1080 2797l22 14 25-8-22-14z"/>
<path class="m" d="M988 3512l19 15 66-697-22-13z"/>
<path class="n" d="M1007 3527l23-11 68-694-25 8z"/>
<path class="t" d="M1051 2817l22 13 25-8-21-14z"/>
<path class="m" d="M963 3523l19 16 58-645-22-14z"/>
<path class="n" d="M982 3539l23-11 60-642-25 8z"/>
<path class="t" d="M1018 2880l22 14 25-8-21-14z"/>
<path class="m" d="M937 3535l19 16 52-605-21-14z"/>
<path class="n" d="M956 3551l24-11 54-603-26 9z"/>
<path class="t" d="M987 2932l21 14 26-9-22-14z"/>
<path class="m" d="M912 3547l19 16 42-527-21-15z"/>
<path class="n" d="M931 3563l23-11 45-526-26 10z"/>
<path class="t" d="M952 3021l21 15 26-10-21-14z"/>
<path class="m" d="M886 3559l18 16 36-466-21-15z"/>
<path class="n" d="M904 3575l25-11 37-465-26 10z"/>
<path class="t" d="M919 3094l21 15 26-10-21-15z"/>
<path class="m" d="M859 3571l19 17 27-377-20-15z"/>
<path class="n" d="M878 3588l24-12 29-375-26 10z"/>
<path class="t" d="M885 3196l20 15 26-10-21-15z"/>
<path class="m" d="M833 3584l18 16 21-308-20-15z"/>
<path class="n" d="M851 3600l25-11 22-307-26 10z"/>
<path class="t" d="M852 3277l20 15 26-10-20-16z"/>
<path class="m" d="M806 3596l18 17 14-219-20-16z"/>
<path class="n" d="M824 3613l25-12 15-218-26 11z"/>
<path class="t" d="M818 3378l20 16 26-11-20-16z"/>
<path class="m" d="M778 3609l19 17 9-158-19-16z"/>
<path class="n" d="M797 3626l25-12 10-157-26 11z"/>
<path class="t" d="M787 3452l19 16 26-11-20-16z"/>
<path class="m" d="M751 3622l19 17 4-85-19-16z"/>
<path class="n" d="M770 3639l25-12 5-84-26 11z"/>
<path class="t" d="M755 3538l19 16 26-11-19-17z"/>
<path class="m" d="M723 3635l19 17 2-46-19-17z"/>
<path class="n" d="M742 3652l25-12 3-46-26 12z"/>
<path class="t" d="M725 3589l19 17 26-12-19-17z"/>
<path class="n" d="M713 3665l26-12 1-12-26 12z"/>
<path class="t" d="M695 3636l19 17 26-12-19-17z"/>
<path class="m" d="M666 3661l19 18 1-22-19-17z"/>
<path class="n" d="M685 3679l26-13 1-21-26 12z"/>
<path class="t" d="M667 3640l19 17 26-12-19-17zM1421 3334l19 14 19-9-19-14zM1400 3344l19 13 20-9-20-13z"/>
<path class="n" d="M1198 3463l21-10 63-483-23 8z"/>
<path class="t" d="M1238 2965l21 13 23-8-21-13z"/>
<path class="n" d="M1174 3475l22-11 68-537-23 9z"/>
<path class="t" d="M1219 2922l22 14 23-9-21-13z"/>
<path class="n" d="M1150 3486l22-10 74-598-24 8z"/>
<path class="t" d="M1200 2873l22 13 24-8-22-13z"/>
<path class="n" d="M1127 3497l22-10 75-631-25 9z"/>
<path class="t" d="M1178 2851l21 14 25-9-22-13z"/>
<path class="m" d="M1083 3494l19 15 75-668-22-14z"/>
<path class="n" d="M1102 3509l23-11 76-666-24 9z"/>
<path class="t" d="M1155 2827l22 14 24-9-22-13z"/>
<path class="m" d="M1059 3505l19 15 72-671-22-14z"/>
<path class="n" d="M1078 3520l22-10 75-670-25 9z"/>
<path class="t" d="M1128 2835l22 14 25-9-22-13z"/>
<path class="m" d="M1034 3517l19 15 69-676-22-14z"/>
<path class="n" d="M1053 3532l23-11 72-673-26 8z"/>
<path class="t" d="M1100 2842l22 14 26-8-22-14z"/>
<path class="m" d="M1009 3528l19 16 64-647-22-14z"/>
<path class="n" d="M1028 3544l23-11 66-644-25 8z"/>
<path class="t" d="M1070 2883l22 14 25-8-22-14z"/>
<path class="m" d="M984 3540l19 16 58-618-22-15z"/>
<path class="n" d="M1003 3556l23-11 60-616-25 9z"/>
<path class="t" d="M1039 2923l22 15 25-9-21-14z"/>
<path class="m" d="M958 3552l19 16 50-560-21-14z"/>
<path class="n" d="M977 3568l24-11 52-558-26 9z"/>
<path class="t" d="M1006 2994l21 14 26-9-22-14z"/>
<path class="m" d="M932 3564l19 17 43-506-21-15z"/>
<path class="n" d="M951 3581l24-12 45-504-26 10z"/>
<path class="t" d="M973 3060l21 15 26-10-21-15z"/>
<path class="m" d="M906 3577l19 16 35-428-21-16z"/>
<path class="n" d="M925 3593l24-11 36-427-25 10z"/>
<path class="t" d="M939 3149l21 16 25-10-20-15z"/>
<path class="m" d="M880 3589l19 17 27-361-20-15z"/>
<path class="n" d="M899 3606l24-12 29-359-26 10z"/>
<path class="t" d="M906 3230l20 15 26-10-21-16z"/>
<path class="m" d="M853 3602l19 16 20-276-20-16z"/>
<path class="n" d="M872 3618l25-11 20-276-25 11z"/>
<path class="t" d="M872 3326l20 16 25-11-20-16z"/>
<path class="m" d="M826 3614l19 17 14-209-20-16z"/>
<path class="n" d="M845 3631l25-12 15-208-26 11z"/>
<path class="t" d="M839 3406l20 16 26-11-20-16z"/>
<path class="m" d="M799 3627l19 17 8-133-20-16z"/>
<path class="n" d="M818 3644l25-12 9-132-26 11z"/>
<path class="t" d="M806 3495l20 16 26-11-20-17z"/>
<path class="m" d="M771 3640l19 17 5-79-20-16z"/>
<path class="n" d="M790 3657l26-12 4-78-25 11z"/>
<path class="t" d="M775 3562l20 16 25-11-19-17z"/>
<path class="m" d="M743 3653l19 18 1-26-19-18z"/>
<path class="n" d="M762 3671l26-13 1-26-26 13z"/>
<path class="t" d="M744 3627l19 18 26-13-19-17z"/>
<path class="m" d="M715 3667l19 17 0-9-19-17z"/>
<path class="n" d="M734 3684l26-12 0-9-26 12z"/>
<path class="t" d="M715 3658l19 17 26-12-19-18z"/>
<path class="m" d="M686 3680l19 18 0-3-18-18z"/>
<path class="n" d="M705 3698l27-13 0-3-27 13z"/>
<path class="t" d="M687 3677l18 18 27-13-19-17zM1442 3349l20 14 19-10-20-13zM1421 3359l20 14 19-9-20-14zM1400 3369l19 14 20-9-20-14z"/>
<path class="n" d="M1219 3480l21-11 61-446-23 9z"/>
<path class="t" d="M1256 3018l22 14 23-9-22-14z"/>
<path class="n" d="M1195 3491l22-10 66-505-23 9z"/>
<path class="t" d="M1238 2971l22 14 23-9-21-13z"/>
<path class="n" d="M1172 3502l21-10 71-554-24 9z"/>
<path class="t" d="M1218 2933l22 14 24-9-22-13z"/>
<path class="m" d="M1128 3499l20 15 71-594-22-14z"/>
<path class="n" d="M1148 3514l22-11 73-592-24 9z"/>
<path class="t" d="M1197 2906l22 14 24-9-22-13z"/>
<path class="n" d="M1123 3526l23-11 73-617-24 8z"/>
<path class="t" d="M1173 2892l22 14 24-8-22-14z"/>
<path class="m" d="M1079 3522l20 15 70-630-22-14z"/>
<path class="n" d="M1099 3537l22-10 73-629-25 9z"/>
<path class="t" d="M1147 2893l22 14 25-9-22-14z"/>
<path class="m" d="M1055 3534l19 15 67-626-22-15z"/>
<path class="n" d="M1074 3549l23-11 69-624-25 9z"/>
<path class="t" d="M1119 2908l22 15 25-9-22-14z"/>
<path class="m" d="M1030 3546l19 15 62-607-22-14z"/>
<path class="n" d="M1049 3561l23-11 65-605-26 9z"/>
<path class="t" d="M1089 2940l22 14 26-9-22-14z"/>
<path class="m" d="M1004 3558l20 16 56-573-22-15z"/>
<path class="n" d="M1024 3574l23-12 58-571-25 10z"/>
<path class="t" d="M1058 2986l22 15 25-10-21-14z"/>
<path class="m" d="M979 3570l19 16 49-526-21-15z"/>
<path class="n" d="M998 3586l24-11 51-524-26 9z"/>
<path class="t" d="M1026 3045l21 15 26-9-22-15z"/>
<path class="m" d="M953 3582l19 16 42-467-21-15z"/>
<path class="n" d="M972 3598l24-11 44-466-26 10z"/>
<path class="t" d="M993 3116l21 15 26-10-22-15z"/>
<path class="m" d="M927 3594l19 17 34-402-21-15z"/>
<path class="n" d="M946 3611l24-12 36-400-26 10z"/>
<path class="t" d="M959 3194l21 15 26-10-21-15z"/>
<path class="m" d="M900 3607l20 17 26-331-20-16z"/>
<path class="n" d="M920 3624l24-12 28-330-26 11z"/>
<path class="t" d="M926 3277l20 16 26-11-21-16z"/>
<path class="m" d="M874 3620l19 17 19-259-20-17z"/>
<path class="n" d="M893 3637l25-12 20-258-26 11z"/>
<path class="t" d="M892 3361l20 17 26-11-20-16z"/>
<path class="m" d="M847 3633l19 17 13-189-20-16z"/>
<path class="n" d="M866 3650l25-12 14-188-26 11z"/>
<path class="t" d="M859 3445l20 16 26-11-20-17z"/>
<path class="m" d="M819 3646l20 17 8-123-20-17z"/>
<path class="n" d="M839 3663l25-12 8-123-25 12z"/>
<path class="t" d="M827 3523l20 17 25-12-19-17z"/>
<path class="m" d="M792 3659l19 17 4-66-20-17z"/>
<path class="n" d="M811 3676l25-12 5-66-26 12z"/>
<path class="t" d="M795 3593l20 17 26-12-20-17z"/>
<path class="m" d="M764 3672l19 18 1-22-19-17z"/>
<path class="n" d="M783 3690l26-13 1-21-26 12z"/>
<path class="t" d="M765 3651l19 17 26-12-19-18zM736 3686l19 17 26-12-19-18zM707 3699l19 18 26-13-19-17zM1463 3364l20 14 19-10-20-13zM1442 3374l20 14 19-10-19-13zM1421 3384l20 14 19-9-19-14z"/>
<path class="n" d="M1263 3485l22-11 50-354-22 9z"/>
<path class="t" d="M1292 3115l21 14 22-9-21-14z"/>
<path class="n" d="M1240 3496l22-10 57-414-22 9z"/>
<path class="t" d="M1275 3067l22 14 22-9-21-14z"/>
<path class="n" d="M1217 3507l21-10 64-467-23 9z"/>
<path class="t" d="M1257 3025l22 14 23-9-22-14z"/>
<path class="n" d="M1193 3519l22-11 67-512-23 9z"/>
<path class="t" d="M1237 2991l22 14 23-9-22-14z"/>
<path class="n" d="M1169 3531l22-11 70-547-24 8z"/>
<path class="t" d="M1215 2967l22 14 24-8-22-14z"/>
<path class="m" d="M1125 3527l20 16 68-573-22-14z"/>
<path class="n" d="M1145 3543l22-11 71-571-25 9z"/>
<path class="t" d="M1191 2956l22 14 25-9-23-14z"/>
<path class="m" d="M1101 3539l19 16 68-584-23-14z"/>
<path class="n" d="M1120 3555l23-11 69-582-24 9z"/>
<path class="t" d="M1165 2957l23 14 24-9-22-14z"/>
<path class="m" d="M1076 3551l20 16 64-580-22-14z"/>
<path class="n" d="M1096 3567l22-12 67-577-25 9z"/>
<path class="t" d="M1138 2973l22 14 25-9-22-14z"/>
<path class="m" d="M1051 3563l19 16 60-562-22-14z"/>
<path class="n" d="M1070 3579l24-11 61-560-25 9z"/>
<path class="t" d="M1108 3003l22 14 25-9-21-15z"/>
<path class="m" d="M1026 3575l19 16 54-530-21-15z"/>
<path class="n" d="M1045 3591l23-11 57-528-26 9z"/>
<path class="t" d="M1078 3046l21 15 26-9-22-15z"/>
<path class="m" d="M1000 3587l20 17 47-487-21-15z"/>
<path class="n" d="M1020 3604l23-12 50-485-26 10z"/>
<path class="t" d="M1046 3102l21 15 26-10-22-15z"/>
<path class="m" d="M974 3600l20 16 40-433-21-15z"/>
<path class="n" d="M994 3616l23-11 43-432-26 10z"/>
<path class="t" d="M1013 3168l21 15 26-10-22-15z"/>
<path class="m" d="M948 3612l19 17 33-372-21-16z"/>
<path class="n" d="M967 3629l25-12 34-371-26 11z"/>
<path class="t" d="M979 3241l21 16 26-11-21-16z"/>
<path class="m" d="M921 3625l20 17 26-307-21-16z"/>
<path class="n" d="M941 3642l24-12 27-306-25 11z"/>
<path class="t" d="M946 3319l21 16 25-11-20-16z"/>
<path class="m" d="M895 3638l19 17 19-240-20-17z"/>
<path class="n" d="M914 3655l25-12 20-240-26 12z"/>
<path class="t" d="M913 3398l20 17 26-12-21-16z"/>
<path class="m" d="M868 3651l19 17 13-175-20-17z"/>
<path class="n" d="M887 3668l25-12 14-174-26 11z"/>
<path class="t" d="M880 3476l20 17 26-11-20-17z"/>
<path class="m" d="M840 3664l20 18 8-115-20-17z"/>
<path class="n" d="M860 3682l25-13 8-114-25 12z"/>
<path class="t" d="M848 3550l20 17 25-12-20-17z"/>
<path class="m" d="M813 3678l19 17 4-61-20-18z"/>
<path class="n" d="M832 3695l26-12 4-61-26 12z"/>
<path class="t" d="M816 3616l20 18 26-12-20-18z"/>
<path class="m" d="M785 3691l19 18 1-20-19-18z"/>
<path class="n" d="M804 3709l26-13 1-20-26 13z"/>
<path class="t" d="M786 3671l19 18 26-13-19-17zM756 3705l20 18 26-13-20-18zM728 3719l19 18 26-13-19-18zM1485 3379l20 14 19-10-20-14zM1464 3389l20 14 19-10-20-13zM1443 3399l20 14 19-9-20-14zM1421 3409l20 14 20-9-20-14z"/>
<path class="n" d="M1308 3490l21-11 40-265-21 10z"/>
<path class="t" d="M1326 3209l22 15 21-10-21-14z"/>
<path class="n" d="M1285 3501l21-10 48-322-22 10z"/>
<path class="t" d="M1310 3164l22 15 22-10-22-14z"/>
<path class="n" d="M1262 3513l21-11 54-374-22 9z"/>
<path class="t" d="M1293 3123l22 14 22-9-21-15z"/>
<path class="n" d="M1238 3524l22-11 59-422-23 9z"/>
<path class="t" d="M1274 3086l22 14 23-9-22-14z"/>
<path class="m" d="M1195 3520l20 16 61-465-22-14z"/>
<path class="n" d="M1215 3536l22-11 62-463-23 9z"/>
<path class="t" d="M1254 3057l22 14 23-9-21-14z"/>
<path class="n" d="M1191 3548l22-11 65-495-24 10z"/>
<path class="t" d="M1232 3037l22 15 24-10-22-14z"/>
<path class="n" d="M1166 3560l23-11 66-516-24 10z"/>
<path class="t" d="M1208 3028l23 15 24-10-23-14z"/>
<path class="m" d="M1122 3556l20 16 63-527-22-14z"/>
<path class="n" d="M1142 3572l22-11 65-525-24 9z"/>
<path class="t" d="M1183 3031l22 14 24-9-22-14z"/>
<path class="m" d="M1097 3568l20 16 60-523-22-15z"/>
<path class="n" d="M1117 3584l23-11 62-522-25 10z"/>
<path class="t" d="M1155 3046l22 15 25-10-22-14z"/>
<path class="m" d="M1072 3580l20 16 56-507-22-15z"/>
<path class="n" d="M1092 3596l23-11 58-505-25 9z"/>
<path class="t" d="M1126 3074l22 15 25-9-22-15z"/>
<path class="m" d="M1047 3593l20 16 51-479-22-15z"/>
<path class="n" d="M1067 3609l23-12 53-477-25 10z"/>
<path class="t" d="M1096 3115l22 15 25-10-22-15z"/>
<path class="m" d="M1021 3605l20 17 45-440-22-16z"/>
<path class="n" d="M1041 3622l24-12 46-438-25 10z"/>
<path class="t" d="M1064 3166l22 16 25-10-21-16z"/>
<path class="m" d="M995 3618l20 16 38-391-21-16z"/>
<path class="n" d="M1015 3634l24-11 40-391-26 11z"/>
<path class="t" d="M1032 3227l21 16 26-11-22-16z"/>
<path class="m" d="M969 3631l20 16 31-337-21-16z"/>
<path class="n" d="M989 3647l24-12 33-336-26 11z"/>
<path class="t" d="M999 3294l21 16 26-11-21-16z"/>
<path class="m" d="M943 3643l19 17 25-278-21-16z"/>
<path class="n" d="M962 3660l25-12 25-277-25 11z"/>
<path class="t" d="M966 3366l21 16 25-11-20-16z"/>
<path class="m" d="M916 3657l20 17 18-218-21-17z"/>
<path class="n" d="M936 3674l24-12 19-218-25 12z"/>
<path class="t" d="M933 3439l21 17 25-12-20-16z"/>
<path class="m" d="M889 3670l19 17 13-159-20-17z"/>
<path class="n" d="M908 3687l25-12 14-159-26 12z"/>
<path class="t" d="M901 3511l20 17 26-12-21-17z"/>
<path class="m" d="M861 3683l20 18 8-104-20-18z"/>
<path class="n" d="M881 3701l25-13 8-103-25 12z"/>
<path class="t" d="M869 3579l20 18 25-12-20-18z"/>
<path class="m" d="M834 3697l19 17 4-55-20-18z"/>
<path class="n" d="M853 3714l26-12 4-56-26 13z"/>
<path class="t" d="M837 3641l20 18 26-13-20-17z"/>
<path class="m" d="M806 3710l19 18 1-18-19-18z"/>
<path class="n" d="M825 3728l26-12 1-19-26 13z"/>
<path class="t" d="M807 3692l19 18 26-13-19-17zM777 3724l20 18 26-13-20-17zM749 3738l19 19 27-14-20-18zM1506 3394l21 14 19-10-21-14zM1485 3404l21 14 19-9-20-14zM1464 3415l20 14 20-10-20-14zM1443 3425l20 14 20-10-20-14zM1376 3333l21 14 21-10-21-14z"/>
<path class="n" d="M1353 3495l20-11 30-184-21 10z"/>
<path class="t" d="M1361 3295l21 15 21-10-21-14z"/>
<path class="n" d="M1330 3506l21-10 36-235-21 10z"/>
<path class="t" d="M1345 3257l21 14 21-10-21-14z"/>
<path class="n" d="M1307 3518l21-11 43-283-22 9z"/>
<path class="t" d="M1328 3219l21 14 22-9-21-15z"/>
<path class="n" d="M1284 3529l21-10 49-330-22 9z"/>
<path class="t" d="M1310 3184l22 14 22-9-21-15z"/>
<path class="n" d="M1260 3541l22-11 54-372-23 10z"/>
<path class="t" d="M1291 3153l22 15 23-10-22-14z"/>
<path class="n" d="M1237 3553l21-11 58-407-24 9z"/>
<path class="t" d="M1270 3129l22 15 24-9-22-15z"/>
<path class="n" d="M1213 3565l22-11 59-435-24 10z"/>
<path class="t" d="M1248 3114l22 15 24-10-22-15z"/>
<path class="m" d="M1168 3561l20 16 59-454-22-15z"/>
<path class="n" d="M1188 3577l23-11 59-453-23 10z"/>
<path class="t" d="M1225 3108l22 15 23-10-22-15z"/>
<path class="m" d="M1144 3573l20 16 57-462-22-15z"/>
<path class="n" d="M1164 3589l22-11 59-461-24 10z"/>
<path class="t" d="M1199 3112l22 15 24-10-22-15z"/>
<path class="m" d="M1119 3585l20 17 55-460-22-15z"/>
<path class="n" d="M1139 3602l23-12 56-458-24 10z"/>
<path class="t" d="M1172 3127l22 15 24-10-22-15z"/>
<path class="m" d="M1094 3598l20 16 51-445-22-16z"/>
<path class="n" d="M1114 3614l23-11 53-444-25 10z"/>
<path class="t" d="M1143 3153l22 16 25-10-22-16z"/>
<path class="m" d="M1068 3610l20 17 47-421-22-16z"/>
<path class="n" d="M1088 3627l24-12 48-419-25 10z"/>
<path class="t" d="M1113 3190l22 16 25-10-22-16z"/>
<path class="m" d="M1043 3623l20 17 41-387-22-16z"/>
<path class="n" d="M1063 3640l23-12 43-386-25 11z"/>
<path class="t" d="M1082 3237l22 16 25-11-22-15z"/>
<path class="m" d="M1017 3636l20 17 35-345-21-17z"/>
<path class="n" d="M1037 3653l24-12 36-344-25 11z"/>
<path class="t" d="M1051 3291l21 17 25-11-21-16z"/>
<path class="m" d="M991 3649l20 17 29-298-22-16z"/>
<path class="n" d="M1011 3666l24-12 30-297-25 11z"/>
<path class="t" d="M1018 3352l22 16 25-11-21-16z"/>
<path class="m" d="M964 3662l20 17 23-246-21-16z"/>
<path class="n" d="M984 3679l25-12 23-245-25 11z"/>
<path class="t" d="M986 3417l21 16 25-11-21-17z"/>
<path class="m" d="M937 3675l20 18 17-193-21-17z"/>
<path class="n" d="M957 3693l25-13 18-192-26 12z"/>
<path class="t" d="M953 3483l21 17 26-12-21-17z"/>
<path class="m" d="M910 3689l20 17 12-141-21-17z"/>
<path class="n" d="M930 3706l25-12 12-141-25 12z"/>
<path class="t" d="M921 3548l21 17 25-12-20-17z"/>
<path class="m" d="M883 3702l20 18 7-92-20-18z"/>
<path class="n" d="M903 3720l25-13 7-92-25 13z"/>
<path class="t" d="M890 3610l20 18 25-13-20-17z"/>
<path class="m" d="M855 3716l20 18 3-50-20-17z"/>
<path class="n" d="M875 3734l25-13 4-49-26 12z"/>
<path class="t" d="M858 3667l20 17 26-12-20-18z"/>
<path class="m" d="M827 3730l20 18 1-16-20-18z"/>
<path class="n" d="M847 3748l26-13 1-16-26 13z"/>
<path class="t" d="M828 3714l20 18 26-13-20-18zM799 3744l19 18 26-13-19-18zM770 3758l20 19 26-14-20-18zM1528 3409l21 14 19-10-21-14zM1507 3420l21 14 19-10-20-14zM1486 3430l21 14 19-9-20-15zM1465 3440l20 15 20-10-20-15z"/>
<path class="n" d="M1464 3466l19-10 3-17-20 11z"/>
<path class="t" d="M1446 3435l20 15 20-11-20-14zM1429 3419l20 14 20-10-20-14z"/>
<path class="n" d="M1420 3488l20-10 13-78-20 10z"/>
<path class="t" d="M1412 3396l21 14 20-10-20-14z"/>
<path class="n" d="M1397 3500l21-11 19-116-20 10z"/>
<path class="t" d="M1396 3368l21 15 20-10-20-15z"/>
<path class="n" d="M1375 3511l21-10 26-158-22 10z"/>
<path class="t" d="M1379 3338l21 15 22-10-21-15z"/>
<path class="n" d="M1352 3523l21-11 32-201-21 10z"/>
<path class="t" d="M1362 3307l22 14 21-10-21-14z"/>
<path class="m" d="M1309 3519l20 15 37-243-21-15z"/>
<path class="n" d="M1329 3534l21-10 38-243-22 10z"/>
<path class="t" d="M1345 3276l21 15 22-10-21-15z"/>
<path class="m" d="M1286 3531l20 15 42-283-22-15z"/>
<path class="n" d="M1306 3546l21-11 43-282-22 10z"/>
<path class="t" d="M1326 3248l22 15 22-10-21-15z"/>
<path class="n" d="M1282 3558l22-11 47-318-22 10z"/>
<path class="t" d="M1307 3224l22 15 22-10-21-14z"/>
<path class="n" d="M1259 3570l21-11 51-348-23 10z"/>
<path class="t" d="M1286 3206l22 15 23-10-22-14z"/>
<path class="m" d="M1214 3566l21 16 51-372-22-15z"/>
<path class="n" d="M1235 3582l22-11 52-371-23 10z"/>
<path class="t" d="M1264 3195l22 15 23-10-22-15z"/>
<path class="m" d="M1190 3578l20 17 52-388-22-15z"/>
<path class="n" d="M1210 3595l23-12 52-386-23 10z"/>
<path class="t" d="M1240 3192l22 15 23-10-22-15z"/>
<path class="m" d="M1165 3591l21 16 50-394-22-15z"/>
<path class="n" d="M1186 3607l22-11 52-393-24 10z"/>
<path class="t" d="M1214 3198l22 15 24-10-22-15z"/>
<path class="m" d="M1141 3603l20 17 49-392-22-16z"/>
<path class="n" d="M1161 3620l23-12 50-390-24 10z"/>
<path class="t" d="M1188 3212l22 16 24-10-22-16z"/>
<path class="m" d="M1116 3616l20 16 45-380-22-15z"/>
<path class="n" d="M1136 3632l23-11 47-379-25 10z"/>
<path class="t" d="M1159 3237l22 15 25-10-22-16z"/>
<path class="m" d="M1090 3628l20 17 42-359-22-16z"/>
<path class="n" d="M1110 3645l24-12 43-358-25 11z"/>
<path class="t" d="M1130 3270l22 16 25-11-22-15z"/>
<path class="m" d="M1065 3641l20 17 36-330-21-16z"/>
<path class="n" d="M1085 3658l23-12 38-329-25 11z"/>
<path class="t" d="M1100 3312l21 16 25-11-21-16z"/>
<path class="m" d="M1039 3654l20 17 31-295-21-16z"/>
<path class="n" d="M1059 3671l24-12 32-294-25 11z"/>
<path class="t" d="M1069 3360l21 16 25-11-21-16z"/>
<path class="m" d="M1012 3667l21 18 25-255-21-16z"/>
<path class="n" d="M1033 3685l24-13 27-253-26 11z"/>
<path class="t" d="M1037 3414l21 16 26-11-22-17z"/>
<path class="m" d="M986 3681l20 17 20-210-21-17z"/>
<path class="n" d="M1006 3698l24-12 22-210-26 12z"/>
<path class="t" d="M1005 3471l21 17 26-12-21-17z"/>
<path class="m" d="M959 3694l20 18 15-166-20-17z"/>
<path class="n" d="M979 3712l25-13 16-165-26 12z"/>
<path class="t" d="M974 3529l20 17 26-12-21-17z"/>
<path class="m" d="M932 3708l20 17 11-120-21-18z"/>
<path class="n" d="M952 3725l25-12 11-121-25 13z"/>
<path class="t" d="M942 3587l21 18 25-13-21-17z"/>
<path class="m" d="M904 3721l20 18 7-79-20-18z"/>
<path class="n" d="M924 3739l26-12 7-79-26 12z"/>
<path class="t" d="M911 3642l20 18 26-12-21-18z"/>
<path class="m" d="M877 3735l20 19 3-43-20-18z"/>
<path class="n" d="M897 3754l25-13 4-43-26 13z"/>
<path class="t" d="M880 3693l20 18 26-13-21-18z"/>
<path class="m" d="M848 3749l21 19 1-14-21-18z"/>
<path class="n" d="M869 3768l25-13 2-14-26 13z"/>
<path class="t" d="M849 3736l21 18 26-13-21-18zM820 3764l20 18 26-13-20-18zM791 3778l20 19 27-14-20-18zM1550 3424l21 15 19-10-21-14zM1529 3435l21 14 19-10-20-14zM1508 3446l21 14 19-10-20-14zM1487 3456l21 15 19-10-20-15z"/>
<path class="n" d="M1486 3482l20-10 2-14-20 10z"/>
<path class="t" d="M1468 3454l20 14 20-10-20-14z"/>
<path class="n" d="M1464 3493l20-10 7-36-20 10z"/>
<path class="t" d="M1450 3442l21 15 20-10-21-15z"/>
<path class="n" d="M1442 3505l20-11 12-64-21 10z"/>
<path class="t" d="M1432 3425l21 15 21-10-21-15z"/>
<path class="n" d="M1420 3516l20-10 17-97-21 10z"/>
<path class="t" d="M1415 3404l21 15 21-10-21-15z"/>
<path class="n" d="M1397 3528l21-11 22-131-21 11z"/>
<path class="t" d="M1398 3382l21 15 21-11-21-15z"/>
<path class="m" d="M1354 3524l20 15 27-166-21-15z"/>
<path class="n" d="M1374 3539l21-10 28-166-22 10z"/>
<path class="t" d="M1380 3358l21 15 22-10-22-15z"/>
<path class="m" d="M1331 3536l20 15 32-200-21-16z"/>
<path class="n" d="M1351 3551l22-11 32-200-22 11z"/>
<path class="t" d="M1362 3335l21 16 22-11-22-15z"/>
<path class="n" d="M1328 3563l22-11 36-232-22 10z"/>
<path class="t" d="M1342 3315l22 15 22-10-21-15z"/>
<path class="m" d="M1284 3559l21 16 39-262-22-15z"/>
<path class="n" d="M1305 3575l21-11 40-261-22 10z"/>
<path class="t" d="M1322 3298l22 15 22-10-21-15z"/>
<path class="n" d="M1281 3587l22-11 43-285-23 10z"/>
<path class="t" d="M1301 3285l22 16 23-10-22-16z"/>
<path class="n" d="M1257 3600l22-12 44-304-23 10z"/>
<path class="t" d="M1278 3279l22 15 23-10-22-15z"/>
<path class="m" d="M1212 3596l21 16 43-318-22-15z"/>
<path class="n" d="M1233 3612l22-11 45-317-24 10z"/>
<path class="t" d="M1254 3279l22 15 24-10-22-16z"/>
<path class="m" d="M1188 3608l20 17 43-324-22-15z"/>
<path class="n" d="M1208 3625l23-12 44-322-24 10z"/>
<path class="t" d="M1229 3286l22 15 24-10-22-16z"/>
<path class="m" d="M1163 3621l20 17 42-322-22-16z"/>
<path class="n" d="M1183 3638l23-12 43-321-24 11z"/>
<path class="t" d="M1203 3300l22 16 24-11-22-15z"/>
<path class="m" d="M1138 3634l20 17 39-312-22-16z"/>
<path class="n" d="M1158 3651l23-12 40-311-24 11z"/>
<path class="t" d="M1175 3323l22 16 24-11-22-16z"/>
<path class="m" d="M1112 3647l21 17 35-295-22-17z"/>
<path class="n" d="M1133 3664l23-12 37-295-25 12z"/>
<path class="t" d="M1146 3352l22 17 25-12-22-16z"/>
<path class="m" d="M1087 3660l20 17 31-272-21-16z"/>
<path class="n" d="M1107 3677l24-12 32-271-25 11z"/>
<path class="t" d="M1117 3389l21 16 25-11-22-17z"/>
<path class="m" d="M1061 3673l20 17 27-243-22-16z"/>
<path class="n" d="M1081 3690l24-12 28-242-25 11z"/>
<path class="t" d="M1086 3431l22 16 25-11-22-17z"/>
<path class="m" d="M1034 3686l21 18 22-210-21-17z"/>
<path class="n" d="M1055 3704l24-13 23-209-25 12z"/>
<path class="t" d="M1056 3477l21 17 25-12-21-17z"/>
<path class="m" d="M1008 3700l20 17 18-174-21-17z"/>
<path class="n" d="M1028 3717l25-12 18-174-25 12z"/>
<path class="t" d="M1025 3526l21 17 25-12-21-17z"/>
<path class="m" d="M981 3713l20 18 14-137-21-17z"/>
<path class="n" d="M1001 3731l25-13 14-136-25 12z"/>
<path class="t" d="M994 3577l21 17 25-12-21-17z"/>
<path class="m" d="M954 3727l20 18 9-100-21-18z"/>
<path class="n" d="M974 3745l25-13 10-100-26 13z"/>
<path class="t" d="M962 3627l21 18 26-13-21-17z"/>
<path class="m" d="M926 3741l21 18 5-65-20-18z"/>
<path class="n" d="M947 3759l25-13 6-65-26 13z"/>
<path class="t" d="M932 3676l20 18 26-13-21-18z"/>
<path class="m" d="M898 3755l21 18 3-35-21-18z"/>
<path class="n" d="M919 3773l25-13 3-35-25 13z"/>
<path class="t" d="M901 3720l21 18 25-13-20-18z"/>
<path class="m" d="M870 3769l21 19 0-12-20-18z"/>
<path class="n" d="M891 3788l25-13 1-12-26 13z"/>
<path class="t" d="M871 3758l20 18 26-13-20-18zM842 3784l20 19 26-14-20-18zM813 3798l20 19 27-13-21-19zM1573 3440l20 14 20-10-21-14zM1552 3451l21 14 19-10-21-14zM1531 3461l20 15 20-10-21-15zM1509 3472l21 15 20-10-21-15z"/>
<path class="n" d="M1508 3498l20-10 2-11-19 10z"/>
<path class="t" d="M1490 3473l21 14 19-10-20-15z"/>
<path class="n" d="M1487 3510l20-11 5-28-20 10z"/>
<path class="t" d="M1471 3466l21 15 20-10-21-15z"/>
<path class="n" d="M1465 3521l20-10 9-51-20 10z"/>
<path class="t" d="M1453 3455l21 15 20-10-21-15z"/>
<path class="n" d="M1442 3533l21-11 13-76-20 10z"/>
<path class="t" d="M1434 3441l22 15 20-10-21-15z"/>
<path class="n" d="M1420 3545l21-11 17-103-21 10z"/>
<path class="t" d="M1416 3426l21 15 21-10-21-15z"/>
<path class="n" d="M1397 3556l21-10 22-131-21 10z"/>
<path class="t" d="M1397 3410l22 15 21-10-21-15z"/>
<path class="n" d="M1374 3568l21-11 26-157-21 10z"/>
<path class="t" d="M1378 3395l22 15 21-10-21-15z"/>
<path class="n" d="M1351 3580l21-11 30-182-22 10z"/>
<path class="t" d="M1358 3382l22 15 22-10-22-16z"/>
<path class="m" d="M1307 3577l20 16 32-206-22-16z"/>
<path class="n" d="M1327 3593l22-12 32-205-22 11z"/>
<path class="t" d="M1337 3371l22 16 22-11-21-15z"/>
<path class="n" d="M1304 3605l21-11 35-224-23 10z"/>
<path class="t" d="M1316 3365l21 15 23-10-22-16z"/>
<path class="n" d="M1280 3618l22-12 35-239-22 11z"/>
<path class="t" d="M1293 3362l22 16 22-11-21-15z"/>
<path class="m" d="M1234 3614l21 16 36-249-22-16z"/>
<path class="n" d="M1255 3630l23-11 36-249-23 11z"/>
<path class="t" d="M1269 3365l22 16 23-11-22-15z"/>
<path class="m" d="M1210 3626l21 17 35-253-22-16z"/>
<path class="n" d="M1231 3643l22-12 36-252-23 11z"/>
<path class="t" d="M1244 3374l22 16 23-11-22-16z"/>
<path class="m" d="M1185 3639l21 17 33-252-21-16z"/>
<path class="n" d="M1206 3656l23-12 34-251-24 11z"/>
<path class="t" d="M1218 3388l21 16 24-11-22-16z"/>
<path class="m" d="M1160 3652l21 17 31-244-22-17z"/>
<path class="n" d="M1181 3669l23-12 32-244-24 12z"/>
<path class="t" d="M1190 3408l22 17 24-12-22-16z"/>
<path class="m" d="M1135 3665l20 17 29-231-22-17z"/>
<path class="n" d="M1155 3682l24-12 29-230-24 11z"/>
<path class="t" d="M1162 3434l22 17 24-11-21-17z"/>
<path class="m" d="M1109 3678l21 18 25-213-22-17z"/>
<path class="n" d="M1130 3696l23-13 27-212-25 12z"/>
<path class="t" d="M1133 3466l22 17 25-12-22-17z"/>
<path class="m" d="M1083 3692l21 17 22-191-22-17z"/>
<path class="n" d="M1104 3709l23-12 23-190-24 11z"/>
<path class="t" d="M1104 3501l22 17 24-11-21-17z"/>
<path class="m" d="M1057 3705l20 18 19-165-22-17z"/>
<path class="n" d="M1077 3723l24-13 19-164-24 12z"/>
<path class="t" d="M1074 3541l22 17 24-12-21-17z"/>
<path class="m" d="M1030 3719l21 18 14-137-21-18z"/>
<path class="n" d="M1051 3737l24-13 15-137-25 13z"/>
<path class="t" d="M1044 3582l21 18 25-13-21-17z"/>
<path class="m" d="M1003 3733l21 18 11-108-21-18z"/>
<path class="n" d="M1024 3751l25-13 11-108-25 13z"/>
<path class="t" d="M1014 3625l21 18 25-13-21-17z"/>
<path class="m" d="M976 3747l21 18 7-79-21-18z"/>
<path class="n" d="M997 3765l25-13 8-79-26 13z"/>
<path class="t" d="M983 3668l21 18 26-13-21-18z"/>
<path class="m" d="M948 3761l21 18 5-52-21-18z"/>
<path class="n" d="M969 3779l25-13 5-52-25 13z"/>
<path class="t" d="M953 3709l21 18 25-13-21-18z"/>
<path class="m" d="M921 3775l20 19 2-28-20-19z"/>
<path class="n" d="M941 3794l26-14 2-28-26 14z"/>
<path class="t" d="M923 3747l20 19 26-14-20-18z"/>
<path class="m" d="M892 3790l21 18 1-9-21-19z"/>
<path class="n" d="M913 3808l26-13 1-9-26 13z"/>
<path class="t" d="M893 3780l21 19 26-13-21-19zM864 3804l20 19 27-14-21-18zM835 3819l20 19 27-14-21-19zM1595 3456l21 14 19-10-21-14zM1574 3466l21 15 20-10-21-15zM1553 3477l21 15 20-10-21-15zM1532 3488l21 15 20-10-21-15z"/>
<path class="n" d="M1531 3515l20-11 2-8-20 11z"/>
<path class="t" d="M1512 3492l21 15 20-11-21-15z"/>
<path class="n" d="M1509 3526l21-10 4-22-21 11z"/>
<path class="t" d="M1492 3490l21 15 21-11-22-15z"/>
<path class="n" d="M1487 3538l21-11 7-38-21 11z"/>
<path class="t" d="M1473 3485l21 15 21-11-21-15z"/>
<path class="n" d="M1465 3550l21-11 10-57-21 11z"/>
<path class="t" d="M1454 3478l21 15 21-11-21-15z"/>
<path class="n" d="M1443 3562l20-11 14-77-21 11z"/>
<path class="t" d="M1435 3470l21 15 21-11-21-15z"/>
<path class="n" d="M1420 3574l21-12 17-96-22 11z"/>
<path class="t" d="M1415 3461l21 16 22-11-22-15z"/>
<path class="m" d="M1376 3570l21 16 19-117-21-15z"/>
<path class="n" d="M1397 3586l21-12 20-116-22 11z"/>
<path class="t" d="M1395 3454l21 15 22-11-22-15z"/>
<path class="n" d="M1374 3598l21-11 22-135-21 11z"/>
<path class="t" d="M1374 3447l22 16 21-11-21-15z"/>
<path class="n" d="M1350 3610l22-11 24-151-22 11z"/>
<path class="t" d="M1353 3443l21 16 22-11-21-16z"/>
<path class="n" d="M1326 3623l22-12 26-164-22 11z"/>
<path class="t" d="M1330 3442l22 16 22-11-21-16z"/>
<path class="m" d="M1281 3619l21 16 27-175-22-16z"/>
<path class="n" d="M1302 3635l22-11 28-175-23 11z"/>
<path class="t" d="M1307 3444l22 16 23-11-22-16z"/>
<path class="n" d="M1278 3648l22-11 28-183-23 12z"/>
<path class="t" d="M1283 3449l22 17 23-12-22-16z"/>
<path class="m" d="M1232 3644l21 17 27-186-22-16z"/>
<path class="n" d="M1253 3661l23-12 27-185-23 11z"/>
<path class="t" d="M1258 3459l22 16 23-11-22-16z"/>
<path class="m" d="M1208 3657l21 17 25-184-22-17z"/>
<path class="n" d="M1229 3674l22-12 27-184-24 12z"/>
<path class="t" d="M1232 3473l22 17 24-12-22-16z"/>
<path class="m" d="M1182 3670l21 18 24-180-21-16z"/>
<path class="n" d="M1203 3688l24-13 24-178-24 11z"/>
<path class="t" d="M1206 3492l21 16 24-11-22-17z"/>
<path class="m" d="M1157 3684l21 17 22-170-22-17z"/>
<path class="n" d="M1178 3701l23-12 23-170-24 12z"/>
<path class="t" d="M1178 3514l22 17 24-12-22-16z"/>
<path class="m" d="M1131 3697l21 18 20-157-22-17z"/>
<path class="n" d="M1152 3715l24-13 20-156-24 12z"/>
<path class="t" d="M1150 3541l22 17 24-12-22-17z"/>
<path class="m" d="M1105 3711l21 17 17-140-21-17z"/>
<path class="n" d="M1126 3728l24-12 18-140-25 12z"/>
<path class="t" d="M1122 3571l21 17 25-12-22-17z"/>
<path class="m" d="M1079 3724l21 18 14-121-21-18z"/>
<path class="n" d="M1100 3742l24-13 15-121-25 13z"/>
<path class="t" d="M1093 3603l21 18 25-13-22-17z"/>
<path class="m" d="M1052 3738l21 18 12-101-22-18z"/>
<path class="n" d="M1073 3756l25-13 11-100-24 12z"/>
<path class="t" d="M1063 3637l22 18 24-12-21-18z"/>
<path class="m" d="M1026 3752l20 18 9-79-21-18z"/>
<path class="n" d="M1046 3770l25-13 9-79-25 13z"/>
<path class="t" d="M1034 3673l21 18 25-13-21-18z"/>
<path class="m" d="M998 3766l21 19 6-59-21-18z"/>
<path class="n" d="M1019 3785l25-14 6-58-25 13z"/>
<path class="t" d="M1004 3708l21 18 25-13-21-18z"/>
<path class="m" d="M971 3781l21 18 3-38-21-19z"/>
<path class="n" d="M992 3799l25-13 4-38-26 13z"/>
<path class="t" d="M974 3742l21 19 26-13-21-19z"/>
<path class="m" d="M943 3795l21 19 2-21-21-18z"/>
<path class="n" d="M964 3814l25-14 2-20-25 13z"/>
<path class="t" d="M945 3775l21 18 25-13-21-19z"/>
<path class="m" d="M915 3810l20 19 1-7-21-19z"/>
<path class="n" d="M935 3829l26-14 1-7-26 14z"/>
<path class="t" d="M915 3803l21 19 26-14-21-18zM886 3825l21 19 26-14-21-19zM857 3840l21 19 26-14-20-19zM1618 3471l21 15 19-10-21-15zM1597 3482l21 15 20-10-22-15zM1576 3494l21 14 20-10-21-15zM1555 3505l21 15 20-11-22-15z"/>
<path class="n" d="M1554 3531l20-10 1-6-20 11z"/>
<path class="t" d="M1534 3511l21 15 20-11-21-15z"/>
<path class="n" d="M1533 3543l20-11 2-14-20 11z"/>
<path class="t" d="M1514 3513l21 16 20-11-21-15z"/>
<path class="n" d="M1511 3555l20-11 5-25-21 10z"/>
<path class="t" d="M1494 3514l21 15 21-10-22-16z"/>
<path class="n" d="M1488 3567l21-11 7-38-21 11z"/>
<path class="t" d="M1474 3513l21 16 21-11-22-16z"/>
<path class="n" d="M1466 3579l20-11 10-51-21 10z"/>
<path class="t" d="M1453 3512l22 15 21-10-22-16z"/>
<path class="n" d="M1443 3591l21-11 12-65-22 11z"/>
<path class="t" d="M1433 3510l21 16 22-11-22-15z"/>
<path class="n" d="M1420 3603l21-11 14-78-22 11z"/>
<path class="t" d="M1412 3509l21 16 22-11-22-16z"/>
<path class="n" d="M1397 3616l21-12 16-90-22 12z"/>
<path class="t" d="M1390 3509l22 17 22-12-22-16z"/>
<path class="n" d="M1373 3628l22-11 17-101-22 11z"/>
<path class="t" d="M1368 3511l22 16 22-11-22-16z"/>
<path class="n" d="M1349 3641l22-12 18-110-22 12z"/>
<path class="t" d="M1345 3514l22 17 22-12-21-16z"/>
<path class="n" d="M1325 3654l23-12 18-117-22 12z"/>
<path class="t" d="M1322 3520l22 17 22-12-22-16z"/>
<path class="n" d="M1301 3667l22-12 19-122-22 12z"/>
<path class="t" d="M1298 3528l22 17 22-12-21-16z"/>
<path class="m" d="M1255 3663l22 17 18-124-22-17z"/>
<path class="n" d="M1277 3680l22-12 19-124-23 12z"/>
<path class="t" d="M1273 3539l22 17 23-12-22-16z"/>
<path class="m" d="M1230 3676l22 17 17-123-22-17z"/>
<path class="n" d="M1252 3693l23-12 18-123-24 12z"/>
<path class="t" d="M1247 3553l22 17 24-12-22-17z"/>
<path class="m" d="M1205 3689l22 17 16-119-22-17z"/>
<path class="n" d="M1227 3706l23-12 17-119-24 12z"/>
<path class="t" d="M1221 3570l22 17 24-12-22-17z"/>
<path class="m" d="M1180 3702l21 18 15-113-21-17z"/>
<path class="n" d="M1201 3720l23-12 16-113-24 12z"/>
<path class="t" d="M1195 3590l21 17 24-12-22-17z"/>
<path class="m" d="M1154 3716l21 18 14-105-22-17z"/>
<path class="n" d="M1175 3734l24-13 14-104-24 12z"/>
<path class="t" d="M1167 3612l22 17 24-12-22-17z"/>
<path class="m" d="M1128 3730l21 18 12-94-22-18z"/>
<path class="n" d="M1149 3748l24-13 12-93-24 12z"/>
<path class="t" d="M1139 3636l22 18 24-12-21-18z"/>
<path class="m" d="M1102 3744l21 18 10-81-22-18z"/>
<path class="n" d="M1123 3762l24-13 10-81-24 13z"/>
<path class="t" d="M1111 3663l22 18 24-13-21-18z"/>
<path class="m" d="M1075 3758l21 18 8-68-21-18z"/>
<path class="n" d="M1096 3776l25-13 8-67-25 12z"/>
<path class="t" d="M1083 3690l21 18 25-12-22-18z"/>
<path class="m" d="M1048 3772l21 18 6-53-21-18z"/>
<path class="n" d="M1069 3790l25-13 6-53-25 13z"/>
<path class="t" d="M1054 3719l21 18 25-13-21-18z"/>
<path class="m" d="M1021 3786l21 19 4-39-21-19z"/>
<path class="n" d="M1042 3805l25-13 4-40-25 14z"/>
<path class="t" d="M1025 3747l21 19 25-14-21-18z"/>
<path class="m" d="M993 3801l21 19 3-26-21-19z"/>
<path class="n" d="M1014 3820l26-14 3-26-26 14z"/>
<path class="t" d="M996 3775l21 19 26-14-22-18z"/>
<path class="m" d="M965 3816l22 19 1-14-21-19z"/>
<path class="n" d="M987 3835l25-14 2-14-26 14z"/>
<path class="t" d="M967 3802l21 19 26-14-22-19z"/>
<path class="m" d="M937 3831l21 19 1-5-21-19z"/>
<path class="n" d="M958 3850l26-14 1-5-26 14z"/>
<path class="t" d="M938 3826l21 19 26-14-21-19zM909 3846l21 19 26-14-21-19zM880 3861l21 19 26-14-21-19zM1641 3487l22 15 19-10-22-15zM1620 3498l22 15 19-10-22-15zM1599 3510l22 15 19-11-21-15zM1578 3521l21 15 20-10-22-15z"/>
<path class="n" d="M1578 3548l20-11 0-3-20 11z"/>
<path class="t" d="M1557 3530l21 15 20-11-21-15z"/>
<path class="n" d="M1556 3560l20-11 2-8-21 11z"/>
<path class="t" d="M1536 3536l21 16 21-11-22-15z"/>
<path class="n" d="M1534 3572l20-11 3-15-20 11z"/>
<path class="t" d="M1515 3542l22 15 20-11-22-15z"/>
<path class="m" d="M1490 3568l22 16 4-22-22-15z"/>
<path class="n" d="M1512 3584l20-11 4-22-20 11z"/>
<path class="t" d="M1494 3547l22 15 20-11-21-15z"/>
<path class="n" d="M1489 3596l21-11 5-29-21 11z"/>
<path class="t" d="M1473 3551l21 16 21-11-21-16z"/>
<path class="n" d="M1466 3608l21-11 7-36-21 11z"/>
<path class="t" d="M1451 3556l22 16 21-11-22-16z"/>
<path class="m" d="M1422 3605l21 16 8-44-22-16z"/>
<path class="n" d="M1443 3621l22-12 7-43-21 11z"/>
<path class="t" d="M1429 3561l22 16 21-11-21-16z"/>
<path class="m" d="M1399 3617l21 16 9-50-22-17z"/>
<path class="n" d="M1420 3633l21-11 9-51-21 12z"/>
<path class="t" d="M1407 3566l22 17 21-12-21-16z"/>
<path class="m" d="M1375 3630l22 16 9-57-22-16z"/>
<path class="n" d="M1397 3646l21-12 10-56-22 11z"/>
<path class="t" d="M1384 3573l22 16 22-11-22-17z"/>
<path class="n" d="M1373 3659l22-12 10-62-22 12z"/>
<path class="t" d="M1361 3580l22 17 22-12-22-16z"/>
<path class="m" d="M1327 3655l22 17 10-66-21-17z"/>
<path class="n" d="M1349 3672l22-12 11-66-23 12z"/>
<path class="t" d="M1338 3589l21 17 23-12-22-16z"/>
<path class="n" d="M1324 3685l23-12 11-68-23 12z"/>
<path class="t" d="M1313 3600l22 17 23-12-22-17z"/>
<path class="m" d="M1278 3681l22 17 10-69-21-17z"/>
<path class="n" d="M1300 3698l22-12 11-69-23 12z"/>
<path class="t" d="M1289 3612l21 17 23-12-22-17z"/>
<path class="m" d="M1254 3695l21 17 10-69-22-17z"/>
<path class="n" d="M1275 3712l23-13 10-68-23 12z"/>
<path class="t" d="M1263 3626l22 17 23-12-21-17z"/>
<path class="m" d="M1228 3708l22 17 9-67-21-17z"/>
<path class="n" d="M1250 3725l23-12 10-67-24 12z"/>
<path class="t" d="M1238 3641l21 17 24-12-22-17z"/>
<path class="m" d="M1203 3722l21 17 9-63-22-18z"/>
<path class="n" d="M1224 3739l24-12 9-64-24 13z"/>
<path class="t" d="M1211 3658l22 18 24-13-22-17z"/>
<path class="m" d="M1177 3735l22 18 8-59-22-17z"/>
<path class="n" d="M1199 3753l23-13 8-58-23 12z"/>
<path class="t" d="M1185 3677l22 17 23-12-21-18z"/>
<path class="m" d="M1151 3749l22 18 6-52-21-18z"/>
<path class="n" d="M1173 3767l24-13 7-52-25 13z"/>
<path class="t" d="M1158 3697l21 18 25-13-22-18z"/>
<path class="m" d="M1125 3763l21 19 6-46-22-18z"/>
<path class="n" d="M1146 3782l24-14 6-45-24 13z"/>
<path class="t" d="M1130 3718l22 18 24-13-21-18z"/>
<path class="m" d="M1098 3778l22 18 4-38-21-18z"/>
<path class="n" d="M1120 3796l24-13 5-38-25 13z"/>
<path class="t" d="M1103 3740l21 18 25-13-22-18z"/>
<path class="m" d="M1071 3792l22 19 3-31-21-18z"/>
<path class="n" d="M1093 3811l24-14 4-30-25 13z"/>
<path class="t" d="M1075 3762l21 18 25-13-22-18z"/>
<path class="m" d="M1044 3807l21 18 3-22-22-19z"/>
<path class="n" d="M1065 3825l25-13 3-22-25 13z"/>
<path class="t" d="M1046 3784l22 19 25-13-22-19z"/>
<path class="m" d="M1016 3821l22 19 1-14-21-19z"/>
<path class="n" d="M1038 3840l25-13 2-15-26 14z"/>
<path class="t" d="M1018 3807l21 19 26-14-22-19z"/>
<path class="m" d="M988 3836l22 19 0-7-21-20z"/>
<path class="n" d="M1010 3855l25-13 1-8-26 14z"/>
<path class="t" d="M989 3828l21 20 26-14-21-19z"/>
<path class="m" d="M960 3851l21 20 1-3-22-19z"/>
<path class="n" d="M981 3871l26-14 1-3-26 14z"/>
<path class="t" d="M960 3849l22 19 26-14-22-19zM931 3867l22 19 26-14-21-19zM902 3882l22 20 26-14-21-20zM1664 3503l22 15 19-10-22-15zM1644 3515l21 15 19-11-21-15zM1622 3526l22 15 19-10-21-15zM1601 3538l22 15 19-11-21-15zM1580 3548l21 16 20-11-21-15z"/>
<path class="n" d="M1579 3577l20-11 1-3-20 11z"/>
<path class="t" d="M1558 3558l22 16 20-11-22-16z"/>
<path class="n" d="M1557 3589l21-11 1-6-20 11z"/>
<path class="t" d="M1537 3568l22 15 20-11-22-15z"/>
<path class="n" d="M1535 3601l21-11 1-8-20 11z"/>
<path class="t" d="M1515 3577l22 16 20-11-21-16z"/>
<path class="n" d="M1513 3614l20-12 3-11-21 11z"/>
<path class="t" d="M1493 3586l22 16 21-11-22-16z"/>
<path class="n" d="M1490 3626l21-11 2-14-20 11z"/>
<path class="t" d="M1471 3596l22 16 20-11-21-16z"/>
<path class="n" d="M1467 3639l21-12 3-17-21 12z"/>
<path class="t" d="M1448 3605l22 17 21-12-22-16z"/>
<path class="n" d="M1444 3651l21-11 4-20-22 12z"/>
<path class="t" d="M1425 3615l22 17 22-12-22-16z"/>
<path class="n" d="M1420 3664l22-12 4-21-22 12z"/>
<path class="t" d="M1402 3626l22 17 22-12-22-17z"/>
<path class="n" d="M1396 3677l22-12 4-23-22 12z"/>
<path class="t" d="M1379 3637l21 17 22-12-21-17z"/>
<path class="m" d="M1351 3673l21 18 5-26-22-17z"/>
<path class="n" d="M1372 3691l22-13 5-25-22 12z"/>
<path class="t" d="M1355 3648l22 17 22-12-22-16z"/>
<path class="m" d="M1326 3687l22 17 4-26-22-17z"/>
<path class="n" d="M1348 3704l22-12 5-26-23 12z"/>
<path class="t" d="M1330 3661l22 17 23-12-22-17z"/>
<path class="n" d="M1323 3717l23-12 4-26-22 12z"/>
<path class="t" d="M1306 3674l22 17 22-12-22-18z"/>
<path class="m" d="M1277 3713l22 18 4-26-22-18z"/>
<path class="n" d="M1299 3731l22-13 5-26-23 13z"/>
<path class="t" d="M1281 3687l22 18 23-13-22-17z"/>
<path class="m" d="M1252 3727l21 18 4-26-22-17z"/>
<path class="n" d="M1273 3745l24-13 3-25-23 12z"/>
<path class="t" d="M1255 3702l22 17 23-12-21-18z"/>
<path class="m" d="M1226 3741l22 18 3-24-21-18z"/>
<path class="n" d="M1248 3759l23-13 4-24-24 13z"/>
<path class="t" d="M1230 3717l21 18 24-13-22-18z"/>
<path class="m" d="M1200 3755l22 18 3-22-21-19z"/>
<path class="n" d="M1222 3773l24-13 3-22-24 13z"/>
<path class="t" d="M1204 3732l21 19 24-13-22-18z"/>
<path class="m" d="M1174 3769l22 18 3-20-22-18z"/>
<path class="n" d="M1196 3787l24-13 3-20-24 13z"/>
<path class="t" d="M1177 3749l22 18 24-13-22-18z"/>
<path class="m" d="M1148 3783l22 19 2-18-22-18z"/>
<path class="n" d="M1170 3802l24-14 2-17-24 13z"/>
<path class="t" d="M1150 3766l22 18 24-13-21-18z"/>
<path class="m" d="M1121 3798l22 18 2-14-22-19z"/>
<path class="n" d="M1143 3816l25-13 2-15-25 14z"/>
<path class="t" d="M1123 3783l22 19 25-14-22-18z"/>
<path class="m" d="M1094 3812l22 19 1-11-21-19z"/>
<path class="n" d="M1116 3831l25-14 1-11-25 14z"/>
<path class="t" d="M1096 3801l21 19 25-14-21-19z"/>
<path class="m" d="M1067 3827l22 19 1-8-22-19z"/>
<path class="n" d="M1089 3846l25-14 1-8-25 14z"/>
<path class="t" d="M1068 3819l22 19 25-14-22-19z"/>
<path class="m" d="M1039 3842l22 19 1-5-22-20z"/>
<path class="n" d="M1061 3861l26-14 0-5-25 14z"/>
<path class="t" d="M1040 3836l22 20 25-14-21-19z"/>
<path class="m" d="M1012 3857l21 20 0-3-21-20z"/>
<path class="n" d="M1033 3877l26-15 0-3-26 15z"/>
<path class="t" d="M1012 3854l21 20 26-15-21-19zM983 3871l22 20 26-14-22-20zM955 3888l21 20 26-15-21-19zM926 3904l21 20 27-15-22-20zM1688 3520l22 15 19-11-22-15zM1667 3531l22 16 19-11-22-15zM1646 3543l22 15 19-11-22-15zM1625 3555l22 15 19-11-22-15zM1603 3566l22 16 20-11-22-16zM1581 3578l22 16 20-11-22-16zM1559 3590l22 16 21-11-22-16zM1537 3602l22 17 21-12-22-16zM1515 3615l22 16 20-12-22-16zM1492 3627l22 17 21-12-22-16zM1469 3640l22 16 21-12-22-16zM1446 3652l22 17 21-12-22-16zM1422 3665l22 17 22-12-22-17zM1398 3678l22 17 22-12-22-17zM1374 3691l22 18 22-13-22-17zM1350 3705l22 17 22-12-22-18zM1325 3718l22 18 23-13-22-17zM1301 3732l22 18 22-13-22-18zM1275 3746l22 18 24-13-22-18zM1250 3760l22 18 23-13-22-18zM1224 3774l22 18 24-13-22-18zM1198 3788l22 19 24-14-22-18zM1172 3803l22 18 24-13-22-19zM1145 3817l22 19 24-13-21-19zM1118 3832l22 19 25-13-22-19zM1091 3847l22 20 25-14-22-19zM1063 3863l22 19 25-14-22-19zM1035 3878l22 20 26-14-22-20zM1007 3894l21 20 27-15-22-20zM978 3910l22 20 26-15-22-20zM949 3926l22 20 26-15-21-20zM1712 3536l22 16 19-11-22-15zM1691 3548l22 15 19-10-22-16zM1670 3560l22 15 19-11-22-15zM1648 3571l23 16 19-11-22-15zM1627 3583l22 16 20-11-22-16zM1605 3596l22 16 20-12-22-16zM1583 3608l22 16 21-11-23-16zM1561 3620l22 16 21-11-23-16zM1538 3633l23 16 20-11-22-17zM1516 3645l22 17 21-12-22-16zM1493 3658l22 17 21-12-22-17zM1469 3671l23 17 21-12-22-17zM1446 3684l22 17 22-12-22-17zM1422 3697l22 18 22-13-22-17zM1398 3711l22 17 22-12-22-18zM1374 3724l22 18 22-13-22-17zM1349 3738l22 18 23-13-22-18zM1324 3752l23 18 22-13-22-18zM1299 3766l22 18 24-13-23-18zM1274 3780l22 18 23-13-22-18zM1248 3794l22 19 24-13-22-19zM1222 3809l22 19 24-14-22-18zM1195 3824l23 18 24-13-22-19zM1169 3838l22 20 25-14-23-19zM1142 3853l22 20 25-14-22-19zM1114 3869l23 19 25-14-22-19zM1087 3884l22 20 25-15-22-19zM1059 3900l22 20 26-15-23-20zM1030 3915l22 21 26-15-22-20zM1002 3931l22 21 26-15-22-20zM972 3948l22 20 27-15-22-20zM1736 3553l22 15 19-10-22-16zM1715 3565l22 15 19-11-22-15zM1694 3577l22 15 20-11-23-15zM1673 3589l22 15 19-11-22-15zM1651 3601l22 16 20-12-22-15zM1629 3613l23 16 20-11-23-16zM1607 3625l23 17 20-12-23-16zM1585 3638l22 16 21-11-23-17zM1563 3651l22 16 21-12-23-16zM1540 3663l22 17 21-12-22-16zM1517 3676l22 17 21-12-22-17zM1494 3690l22 17 21-13-22-17zM1470 3703l23 17 21-12-22-17zM1446 3716l23 18 22-13-23-17zM1422 3730l23 17 22-12-23-18zM1398 3743l22 18 23-12-23-18zM1373 3757l23 18 22-13-22-17zM1348 3771l23 19 23-14-23-18zM1323 3786l23 18 23-13-23-18zM1298 3800l22 19 24-14-23-18zM1272 3815l23 18 23-13-22-19zM1246 3829l22 19 24-14-22-18zM1220 3844l22 19 24-14-22-19zM1193 3859l22 20 25-15-23-19zM1166 3874l22 20 25-14-22-20zM1138 3890l23 20 25-15-22-19zM1111 3906l22 19 26-14-23-20zM1083 3921l22 21 26-15-22-20zM1054 3937l23 21 26-15-23-20zM1026 3954l22 20 26-15-22-20zM996 3970l23 21 27-15-23-21zM1760 3570l23 15 18-11-22-15zM1739 3582l23 15 19-11-23-15zM1718 3594l23 16 19-12-23-15zM1697 3606l22 16 20-11-23-16zM1675 3618l23 16 20-11-23-16zM1654 3631l22 16 20-12-22-16zM1632 3643l22 17 20-12-22-16zM1609 3656l23 17 21-12-23-17zM1587 3669l23 17 20-12-22-17zM1564 3682l23 17 21-12-23-17zM1541 3695l23 17 21-12-23-17zM1518 3708l23 17 21-12-23-17zM1495 3722l22 17 22-12-23-18zM1471 3735l22 18 22-13-22-17zM1447 3749l22 18 23-13-23-18zM1422 3763l23 18 23-13-23-18zM1398 3777l23 18 22-13-23-18zM1373 3791l23 19 23-14-23-18zM1348 3806l22 18 24-13-23-19zM1322 3820l23 19 23-14-22-18zM1296 3835l23 19 24-14-23-19zM1270 3850l23 19 24-14-23-19zM1244 3865l23 19 24-14-23-19zM1217 3880l23 20 25-14-23-20zM1190 3896l23 19 25-14-23-20zM1163 3911l22 20 26-14-23-20zM1135 3927l23 20 25-14-22-20zM1107 3943l23 21 25-15-22-20zM1079 3960l22 20 26-15-22-20zM1050 3976l22 21 27-15-23-21zM1021 3993l22 21 27-16-23-21zM1784 3587l23 16 19-12-23-15zM1764 3599l22 16 20-11-23-16zM1743 3611l22 16 20-11-23-16zM1721 3623l23 17 20-12-23-16zM1700 3636l23 16 20-11-23-17zM1678 3648l23 17 20-12-23-16zM1656 3661l23 17 20-12-23-17zM1634 3674l23 17 20-12-23-17zM1612 3687l23 17 20-12-23-17zM1589 3700l23 17 21-12-23-17zM1566 3714l23 17 21-12-23-18zM1543 3727l23 18 21-13-23-17zM1519 3741l23 17 22-12-23-18zM1495 3754l23 18 22-13-23-17zM1471 3768l23 18 23-13-23-17zM1447 3782l23 19 22-13-23-19zM1423 3797l23 18 22-13-23-18zM1398 3811l23 19 23-14-23-18zM1372 3826l23 19 24-14-23-19zM1347 3841l23 19 23-14-23-19zM1321 3856l23 19 24-14-23-19zM1295 3871l23 19 24-14-23-19zM1269 3886l23 20 24-15-23-19zM1242 3902l23 19 25-14-23-20zM1215 3917l23 20 25-14-23-20zM1187 3933l23 20 26-14-23-21zM1160 3949l23 21 25-15-23-21zM1132 3966l23 20 25-15-23-20zM1103 3982l23 21 26-15-23-21zM1074 3999l23 21 27-16-23-21zM1045 4016l23 21 27-16-23-21z"/>
<g class="tk"><text x="355" y="3506" font-size="58" text-anchor="middle">0</text><text x="535" y="3679" font-size="58" text-anchor="middle">10</text><text x="758" y="3876" font-size="58" text-anchor="middle">20</text><text x="984" y="4098" font-size="58" text-anchor="middle">30</text><text x="1121" y="4132" font-size="58" text-anchor="middle">0</text><text x="1421" y="3970" font-size="58" text-anchor="middle">10</text><text x="1660" y="3812" font-size="58" text-anchor="middle">20</text><text x="1862" y="3662" font-size="58" text-anchor="middle">30</text><text x="378" y="2658" font-size="58" text-anchor="end">0.06</text><text x="378" y="2955" font-size="58" text-anchor="end">0.04</text><text x="378" y="3225" font-size="58" text-anchor="end">0.02</text><text x="378" y="3478" font-size="58" text-anchor="end">0.00</text></g>
</g>
<g id="pd">
<path class="ax" d="M2176 3531 L3078 4045 M3078 4045 L3634 3488 M2176 3531 L2160 2500 M2200 3545 L2225 3530 M3099 4023 L3067 4005 M2250 3573 L2265 3564 M3141 3981 L3122 3970 M2300 3602 L2315 3592 M3182 3940 L3163 3929 M2351 3631 L2366 3621 M3222 3900 L3203 3890 M2404 3661 L2418 3651 M3261 3861 L3242 3852 M2457 3691 L2481 3674 M3298 3824 L3267 3808 M2511 3722 L2525 3711 M3335 3788 L3316 3778 M2566 3753 L2580 3742 M3370 3752 L3352 3743 M2622 3785 L2636 3774 M3404 3718 L3386 3709 M2679 3818 L2693 3806 M3438 3685 L3420 3676 M2737 3851 L2760 3832 M3470 3652 L3441 3638 M2796 3884 L2810 3873 M3502 3620 L3484 3612 M2857 3919 L2870 3907 M3532 3590 L3515 3582 M2918 3954 L2932 3942 M3562 3560 L3545 3552 M2981 3990 L2994 3977 M3592 3531 L3574 3523 M3045 4026 L3067 4005 M3620 3502 L3592 3489 M2176 3506 L2205 3522 M2174 3418 L2189 3426 M2173 3328 L2188 3336 M2171 3235 L2187 3243 M2170 3139 L2185 3147 M2168 3041 L2200 3056 M2167 2939 L2183 2946 M2165 2834 L2181 2842 M2163 2727 L2180 2734 M2161 2615 L2178 2622 M2160 2500 L2194 2513"/>
<path class="m" d="M2659 3227l21 10 22-344-23-10z"/>
<path class="t" d="M2679 2883l23 10 18-9-23-10z"/>
<path class="m" d="M2620 3250l22 10 20-351-23-9z"/>
<path class="n" d="M2642 3260l18-11 20-349-18 9z"/>
<path class="t" d="M2639 2900l23 9 18-9-22-10z"/>
<path class="m" d="M2581 3274l22 11 18-355-23-9z"/>
<path class="n" d="M2603 3285l18-12 19-352-19 9z"/>
<path class="t" d="M2598 2921l23 9 19-9-23-10z"/>
<path class="m" d="M2541 3299l21 10 16-357-23-10z"/>
<path class="n" d="M2562 3309l19-11 17-356-20 10z"/>
<path class="t" d="M2555 2942l23 10 20-10-23-10z"/>
<path class="m" d="M2499 3324l22 11 14-358-23-10z"/>
<path class="n" d="M2521 3335l19-12 15-356-20 10z"/>
<path class="t" d="M2512 2967l23 10 20-10-23-11z"/>
<path class="m" d="M2457 3350l22 11 10-323-23-10z"/>
<path class="n" d="M2479 3361l19-12 12-322-21 11z"/>
<path class="t" d="M2466 3028l23 10 21-11-23-10z"/>
<path class="m" d="M2413 3376l22 12 7-251-23-11z"/>
<path class="n" d="M2435 3388l20-13 8-250-21 12z"/>
<path class="t" d="M2419 3126l23 11 21-12-23-11z"/>
<path class="m" d="M2368 3404l23 11 3-162-23-11z"/>
<path class="n" d="M2391 3415l20-12 4-162-21 12z"/>
<path class="t" d="M2371 3242l23 11 21-12-23-11z"/>
<path class="m" d="M2346 3417l22 12 1-84-22-12z"/>
<path class="t" d="M2347 3333l22 12 21-13-22-12z"/>
<path class="m" d="M2323 3432l22 12 1-79-23-12z"/>
<path class="t" d="M2323 3353l23 12 21-13-22-11z"/>
<path class="m" d="M2299 3446l23 12 0-32-23-12z"/>
<path class="t" d="M2299 3414l23 12 21-13-22-12z"/>
<path class="m" d="M2275 3460l23 12 0-19-23-13z"/>
<path class="n" d="M2298 3472l22-13 0-20-22 14z"/>
<path class="t" d="M2275 3440l23 13 22-14-23-12z"/>
<path class="m" d="M2251 3475l23 12 0-3-23-12z"/>
<path class="n" d="M2274 3487l22-13 0-4-22 14z"/>
<path class="t" d="M2251 3472l23 12 22-14-22-12zM2227 3490l23 12 22-14-23-12z"/>
<path class="m" d="M2202 3505l23 12-8-988-26-11z"/>
<path class="n" d="M2225 3517l23-14-5-983-26 9z"/>
<path class="t" d="M2191 2518l26 11 26-9-26-10z"/>
<path class="m" d="M2682 3238l22 10 23-357-23-9z"/>
<path class="n" d="M2704 3248l17-11 24-355-18 9z"/>
<path class="t" d="M2704 2882l23 9 18-9-22-9z"/>
<path class="m" d="M2644 3261l21 11 22-364-22-10z"/>
<path class="n" d="M2665 3272l18-11 23-363-19 10z"/>
<path class="t" d="M2665 2898l22 10 19-10-23-9z"/>
<path class="m" d="M2605 3286l21 10 20-367-23-10z"/>
<path class="n" d="M2626 3296l18-11 21-366-19 10z"/>
<path class="t" d="M2623 2919l23 10 19-10-23-10z"/>
<path class="m" d="M2564 3310l22 11 18-370-23-10z"/>
<path class="n" d="M2586 3321l19-11 19-369-20 10z"/>
<path class="t" d="M2581 2941l23 10 20-10-23-10z"/>
<path class="m" d="M2523 3336l22 11 16-374-24-10z"/>
<path class="t" d="M2537 2963l24 10 20-10-23-11z"/>
<path class="m" d="M2481 3362l22 11 12-352-23-11z"/>
<path class="n" d="M2503 3373l19-12 14-351-21 11z"/>
<path class="t" d="M2492 3010l23 11 21-11-23-10z"/>
<path class="m" d="M2437 3389l22 11 9-288-23-11z"/>
<path class="n" d="M2459 3400l21-12 9-287-21 11z"/>
<path class="t" d="M2445 3101l23 11 21-11-23-11z"/>
<path class="m" d="M2393 3416l22 12 4-199-23-11z"/>
<path class="n" d="M2415 3428l21-13 5-198-22 12z"/>
<path class="t" d="M2396 3218l23 11 22-12-23-11z"/>
<path class="m" d="M2370 3430l22 12 2-109-22-11z"/>
<path class="t" d="M2372 3322l22 11 22-12-23-12z"/>
<path class="m" d="M2347 3445l22 12 2-108-23-12z"/>
<path class="n" d="M2369 3457l22-14 1-107-21 13z"/>
<path class="t" d="M2348 3337l23 12 21-13-22-12z"/>
<path class="m" d="M2324 3459l22 12 1-49-23-12z"/>
<path class="t" d="M2324 3410l23 12 21-13-22-12z"/>
<path class="m" d="M2300 3474l22 12 1-36-23-13z"/>
<path class="n" d="M2322 3486l22-14 1-36-22 14z"/>
<path class="t" d="M2300 3437l23 13 22-14-23-12z"/>
<path class="m" d="M2276 3488l23 13 0-10-23-13z"/>
<path class="t" d="M2276 3478l23 13 22-14-23-12zM2252 3502l22 12 23-14-23-12zM2227 3519l23 12 22-14-22-12z"/>
<path class="m" d="M2705 3249l22 10 26-365-23-10z"/>
<path class="n" d="M2727 3259l17-11 27-364-18 10z"/>
<path class="t" d="M2730 2884l23 10 18-10-23-9z"/>
<path class="m" d="M2667 3273l22 10 24-373-23-9z"/>
<path class="n" d="M2689 3283l18-11 25-371-19 9z"/>
<path class="t" d="M2690 2901l23 9 19-9-23-10z"/>
<path class="m" d="M2628 3297l22 11 22-376-23-10z"/>
<path class="n" d="M2650 3308l18-12 23-374-19 10z"/>
<path class="t" d="M2649 2922l23 10 19-10-23-10z"/>
<path class="m" d="M2588 3322l22 11 20-380-23-10z"/>
<path class="n" d="M2610 3333l19-12 21-378-20 10z"/>
<path class="t" d="M2607 2943l23 10 20-10-24-10z"/>
<path class="m" d="M2547 3348l22 11 18-383-24-11z"/>
<path class="n" d="M2569 3359l19-12 19-382-20 11z"/>
<path class="t" d="M2563 2965l24 11 20-11-24-10z"/>
<path class="m" d="M2505 3374l22 12 15-375-24-11z"/>
<path class="n" d="M2527 3386l20-13 15-373-20 11z"/>
<path class="t" d="M2518 3000l24 11 20-11-23-10z"/>
<path class="m" d="M2461 3401l23 12 11-322-24-11z"/>
<path class="n" d="M2484 3413l20-13 11-320-20 11z"/>
<path class="t" d="M2471 3080l24 11 20-11-23-11z"/>
<path class="m" d="M2417 3429l23 12 6-236-24-11z"/>
<path class="n" d="M2440 3441l20-13 7-235-21 12z"/>
<path class="t" d="M2422 3194l24 11 21-12-23-11z"/>
<path class="m" d="M2371 3458l23 12 3-140-24-12z"/>
<path class="n" d="M2394 3470l21-13 3-140-21 13z"/>
<path class="t" d="M2373 3318l24 12 21-13-23-12z"/>
<path class="m" d="M2348 3472l23 13 1-69-23-12z"/>
<path class="t" d="M2349 3404l23 12 21-13-22-12z"/>
<path class="m" d="M2324 3487l23 13 1-58-23-13z"/>
<path class="n" d="M2347 3500l22-14 1-58-22 14z"/>
<path class="t" d="M2325 3429l23 13 22-14-23-12z"/>
<path class="m" d="M2301 3502l22 13 1-21-23-12z"/>
<path class="t" d="M2301 3482l23 12 22-13-23-13z"/>
<path class="m" d="M2276 3517l23 13 0-9-23-12z"/>
<path class="n" d="M2299 3530l22-14 1-9-23 14z"/>
<path class="t" d="M2276 3509l23 12 23-14-23-12zM2252 3532l23 13 22-14-23-13z"/>
<path class="m" d="M2729 3260l22 10 27-371-23-9z"/>
<path class="t" d="M2755 2890l23 9 18-9-23-10z"/>
<path class="m" d="M2691 3284l22 11 26-379-24-10z"/>
<path class="n" d="M2713 3295l17-12 27-377-18 10z"/>
<path class="t" d="M2715 2906l24 10 18-10-23-10z"/>
<path class="m" d="M2652 3309l22 11 24-383-24-10z"/>
<path class="n" d="M2674 3320l18-12 25-381-19 10z"/>
<path class="t" d="M2674 2927l24 10 19-10-24-10z"/>
<path class="m" d="M2612 3334l22 11 22-386-24-10z"/>
<path class="t" d="M2632 2949l24 10 19-10-23-10z"/>
<path class="m" d="M2571 3360l22 11 20-389-24-11z"/>
<path class="n" d="M2593 3371l19-12 21-388-20 11z"/>
<path class="t" d="M2589 2971l24 11 20-11-24-10z"/>
<path class="m" d="M2529 3387l22 11 18-389-24-11z"/>
<path class="n" d="M2551 3398l20-12 18-388-20 11z"/>
<path class="t" d="M2545 2998l24 11 20-11-24-11z"/>
<path class="m" d="M2486 3414l22 12 13-350-23-11z"/>
<path class="n" d="M2508 3426l20-13 14-348-21 11z"/>
<path class="t" d="M2498 3065l23 11 21-11-23-11z"/>
<path class="m" d="M2442 3442l22 12 8-271-23-11z"/>
<path class="n" d="M2464 3454l21-13 9-270-22 12z"/>
<path class="t" d="M2449 3172l23 11 22-12-24-11z"/>
<path class="m" d="M2396 3471l23 12 4-174-24-11z"/>
<path class="n" d="M2419 3483l21-13 4-173-21 12z"/>
<path class="t" d="M2399 3298l24 11 21-12-23-12z"/>
<path class="m" d="M2373 3486l23 12 2-90-24-12z"/>
<path class="t" d="M2374 3396l24 12 21-13-23-13z"/>
<path class="m" d="M2349 3501l23 12 2-83-24-12z"/>
<path class="n" d="M2372 3513l22-14 1-82-21 13z"/>
<path class="t" d="M2350 3418l24 12 21-13-23-13z"/>
<path class="m" d="M2325 3516l23 12 1-33-23-13z"/>
<path class="t" d="M2326 3482l23 13 22-14-23-13z"/>
<path class="m" d="M2301 3531l23 13 1-20-24-13z"/>
<path class="n" d="M2324 3544l23-14 0-21-22 15z"/>
<path class="t" d="M2301 3511l24 13 22-15-23-12z"/>
<path class="m" d="M2277 3547l23 13 0-4-23-13z"/>
<path class="n" d="M2300 3560l22-15 0-3-22 14z"/>
<path class="t" d="M2277 3543l23 13 22-14-23-13z"/>
<path class="m" d="M2753 3271l22 11 29-375-24-10z"/>
<path class="n" d="M2775 3282l17-11 30-374-18 10z"/>
<path class="t" d="M2780 2897l24 10 18-10-24-9z"/>
<path class="m" d="M2715 3296l22 10 28-382-24-10z"/>
<path class="n" d="M2737 3306l17-11 29-381-18 10z"/>
<path class="t" d="M2741 2914l24 10 18-10-24-10z"/>
<path class="m" d="M2676 3321l22 10 26-386-24-10z"/>
<path class="n" d="M2698 3331l18-11 27-385-19 10z"/>
<path class="t" d="M2700 2935l24 10 19-10-24-9z"/>
<path class="m" d="M2636 3346l23 11 23-389-24-11z"/>
<path class="n" d="M2659 3357l18-12 24-388-19 11z"/>
<path class="t" d="M2658 2957l24 11 19-11-23-10z"/>
<path class="m" d="M2595 3372l23 12 21-394-24-10z"/>
<path class="n" d="M2618 3384l19-13 22-391-20 10z"/>
<path class="t" d="M2615 2980l24 10 20-10-24-10z"/>
<path class="m" d="M2553 3399l23 12 19-397-24-11z"/>
<path class="n" d="M2576 3411l19-13 21-395-21 11z"/>
<path class="t" d="M2571 3003l24 11 21-11-25-11z"/>
<path class="m" d="M2510 3427l23 12 16-373-25-11z"/>
<path class="n" d="M2533 3439l20-13 17-371-21 11z"/>
<path class="t" d="M2524 3055l25 11 21-11-25-11z"/>
<path class="m" d="M2466 3455l23 12 11-303-24-12z"/>
<path class="n" d="M2489 3467l21-13 11-302-21 12z"/>
<path class="t" d="M2476 3152l24 12 21-12-24-11z"/>
<path class="m" d="M2421 3484l23 13 6-209-24-12z"/>
<path class="n" d="M2444 3497l21-14 6-207-21 12z"/>
<path class="t" d="M2426 3276l24 12 21-12-24-12z"/>
<path class="m" d="M2398 3499l23 13 3-114-24-12z"/>
<path class="t" d="M2400 3386l24 12 21-13-23-12z"/>
<path class="m" d="M2374 3514l24 13 2-112-24-12z"/>
<path class="n" d="M2398 3527l21-14 3-111-22 13z"/>
<path class="t" d="M2376 3403l24 12 22-13-24-13z"/>
<path class="m" d="M2351 3530l23 12 1-50-24-13z"/>
<path class="t" d="M2351 3479l24 13 22-14-24-13z"/>
<path class="m" d="M2326 3545l24 13 0-37-23-13z"/>
<path class="n" d="M2350 3558l22-14 0-37-22 14z"/>
<path class="t" d="M2327 3508l23 13 22-14-23-13z"/>
<path class="m" d="M2302 3561l23 13 0-10-23-13z"/>
<path class="n" d="M2325 3574l23-15 0-9-23 14z"/>
<path class="t" d="M2302 3551l23 13 23-14-23-13zM2841 2929l23 9 18-9-24-10z"/>
<path class="m" d="M2777 3283l22 10 31-376-24-10z"/>
<path class="n" d="M2799 3293l17-11 31-375-17 10z"/>
<path class="t" d="M2806 2907l24 10 17-10-23-10z"/>
<path class="m" d="M2739 3307l22 11 29-384-23-10z"/>
<path class="n" d="M2761 3318l18-12 30-382-19 10z"/>
<path class="t" d="M2767 2924l23 10 19-10-24-10z"/>
<path class="m" d="M2700 3332l23 11 27-387-24-11z"/>
<path class="n" d="M2723 3343l18-11 28-387-19 11z"/>
<path class="t" d="M2726 2945l24 11 19-11-24-10z"/>
<path class="m" d="M2661 3358l22 11 25-391-24-10z"/>
<path class="n" d="M2683 3369l18-12 27-389-20 10z"/>
<path class="t" d="M2684 2968l24 10 20-10-24-11z"/>
<path class="m" d="M2620 3385l23 11 23-395-25-11z"/>
<path class="n" d="M2643 3396l18-12 24-394-19 11z"/>
<path class="t" d="M2641 2990l25 11 19-11-24-10z"/>
<path class="m" d="M2578 3412l23 12 21-399-25-11z"/>
<path class="n" d="M2601 3424l19-13 22-397-20 11z"/>
<path class="t" d="M2597 3014l25 11 20-11-24-11z"/>
<path class="m" d="M2535 3440l23 12 18-389-25-11z"/>
<path class="n" d="M2558 3452l20-13 19-388-21 12z"/>
<path class="t" d="M2551 3052l25 11 21-12-25-11z"/>
<path class="m" d="M2491 3468l23 13 13-333-24-11z"/>
<path class="n" d="M2514 3481l21-14 13-331-21 12z"/>
<path class="t" d="M2503 3137l24 11 21-12-24-11z"/>
<path class="m" d="M2446 3498l23 12 8-242-24-12z"/>
<path class="n" d="M2469 3510l21-13 9-242-22 13z"/>
<path class="t" d="M2453 3256l24 12 22-13-25-12z"/>
<path class="m" d="M2400 3528l23 13 3-143-24-12z"/>
<path class="n" d="M2423 3541l21-14 4-142-22 13z"/>
<path class="t" d="M2402 3386l24 12 22-13-24-13z"/>
<path class="m" d="M2376 3544l23 13 2-70-24-13z"/>
<path class="t" d="M2377 3474l24 13 22-14-24-13z"/>
<path class="m" d="M2352 3559l23 13 1-58-23-13z"/>
<path class="n" d="M2375 3572l22-14 2-58-23 14z"/>
<path class="t" d="M2353 3501l23 13 23-14-24-13z"/>
<path class="m" d="M2327 3575l24 13 0-20-23-13z"/>
<path class="n" d="M2351 3588l22-14 1-20-23 14z"/>
<path class="t" d="M2328 3555l23 13 23-14-24-13z"/>
<path class="n" d="M2860 3280l16-11 31-329-17 10z"/>
<path class="t" d="M2866 2940l24 10 17-10-24-9z"/>
<path class="m" d="M2801 3294l22 11 32-376-23-10z"/>
<path class="n" d="M2823 3305l17-12 33-374-18 10z"/>
<path class="t" d="M2832 2919l23 10 18-10-24-10z"/>
<path class="m" d="M2763 3319l23 11 30-384-24-10z"/>
<path class="n" d="M2786 3330l17-12 32-382-19 10z"/>
<path class="t" d="M2792 2936l24 10 19-10-24-10z"/>
<path class="m" d="M2725 3344l22 11 29-387-24-10z"/>
<path class="n" d="M2747 3355l18-12 30-385-19 10z"/>
<path class="t" d="M2752 2958l24 10 19-10-24-10z"/>
<path class="m" d="M2685 3370l23 12 27-391-25-11z"/>
<path class="n" d="M2708 3382l18-13 28-389-19 11z"/>
<path class="t" d="M2710 2980l25 11 19-11-24-10z"/>
<path class="m" d="M2645 3397l22 12 25-395-24-11z"/>
<path class="n" d="M2667 3409l19-13 26-393-20 11z"/>
<path class="t" d="M2668 3003l24 11 20-11-25-10z"/>
<path class="m" d="M2603 3425l23 11 22-398-24-11z"/>
<path class="n" d="M2626 3436l19-12 24-397-21 11z"/>
<path class="t" d="M2624 3027l24 11 21-11-25-11z"/>
<path class="m" d="M2560 3453l23 12 20-398-25-12z"/>
<path class="n" d="M2583 3465l20-13 21-397-21 12z"/>
<path class="t" d="M2578 3055l25 12 21-12-25-11z"/>
<path class="m" d="M2516 3482l24 12 15-356-25-12z"/>
<path class="n" d="M2540 3494l20-13 16-355-21 12z"/>
<path class="t" d="M2530 3126l25 12 21-12-24-12z"/>
<path class="m" d="M2471 3511l24 13 10-275-25-12z"/>
<path class="n" d="M2495 3524l21-14 10-273-21 12z"/>
<path class="t" d="M2480 3237l25 12 21-12-24-12z"/>
<path class="m" d="M2425 3542l24 13 5-175-25-13z"/>
<path class="n" d="M2449 3555l21-14 6-175-22 14z"/>
<path class="t" d="M2429 3367l25 13 22-14-25-12z"/>
<path class="m" d="M2401 3558l24 13 2-91-24-13z"/>
<path class="t" d="M2403 3467l24 13 22-14-24-13z"/>
<path class="m" d="M2377 3573l24 14 2-83-24-13z"/>
<path class="n" d="M2401 3587l22-15 2-82-22 14z"/>
<path class="t" d="M2379 3491l24 13 22-14-24-13z"/>
<path class="m" d="M2353 3590l24 13 0-34-23-13z"/>
<path class="n" d="M2377 3603l22-15 1-33-23 14z"/>
<path class="t" d="M2354 3556l23 13 23-14-24-13z"/>
<path class="n" d="M2884 3292l16-12 32-323-17 10z"/>
<path class="t" d="M2891 2957l24 10 17-10-24-10z"/>
<path class="m" d="M2825 3306l23 10 33-370-24-9z"/>
<path class="n" d="M2848 3316l16-11 34-368-17 9z"/>
<path class="t" d="M2857 2937l24 9 17-9-24-10z"/>
<path class="m" d="M2788 3331l22 11 32-378-24-10z"/>
<path class="n" d="M2810 3342l18-12 32-376-18 10z"/>
<path class="t" d="M2818 2954l24 10 18-10-24-10z"/>
<path class="m" d="M2749 3356l23 11 30-380-24-11z"/>
<path class="n" d="M2772 3367l18-12 30-379-18 11z"/>
<path class="t" d="M2778 2976l24 11 18-11-24-10z"/>
<path class="m" d="M2710 3383l23 11 28-384-25-11z"/>
<path class="n" d="M2733 3394l18-12 29-383-19 11z"/>
<path class="t" d="M2736 2999l25 11 19-11-25-11z"/>
<path class="m" d="M2669 3410l24 11 25-388-24-11z"/>
<path class="n" d="M2693 3421l18-12 27-387-20 11z"/>
<path class="t" d="M2694 3022l24 11 20-11-25-10z"/>
<path class="m" d="M2628 3437l23 12 24-391-25-12z"/>
<path class="n" d="M2651 3449l19-13 25-390-20 12z"/>
<path class="t" d="M2650 3046l25 12 20-12-25-11z"/>
<path class="m" d="M2585 3466l24 12 21-395-25-12z"/>
<path class="n" d="M2609 3478l19-13 23-394-21 12z"/>
<path class="t" d="M2605 3071l25 12 21-12-25-11z"/>
<path class="m" d="M2542 3495l23 13 18-370-25-12z"/>
<path class="n" d="M2565 3508l20-14 19-368-21 12z"/>
<path class="t" d="M2558 3126l25 12 21-12-25-12z"/>
<path class="m" d="M2497 3525l24 13 11-300-24-12z"/>
<path class="n" d="M2521 3538l20-14 13-299-22 13z"/>
<path class="t" d="M2508 3226l24 12 22-13-25-12z"/>
<path class="m" d="M2451 3556l24 13 6-205-24-13z"/>
<path class="n" d="M2475 3569l21-14 7-205-22 14z"/>
<path class="t" d="M2457 3351l24 13 22-14-24-12z"/>
<path class="m" d="M2427 3572l24 13 3-111-24-13z"/>
<path class="t" d="M2430 3461l24 13 22-14-24-13z"/>
<path class="m" d="M2403 3588l24 13 3-109-24-13z"/>
<path class="n" d="M2427 3601l22-15 3-108-22 14z"/>
<path class="t" d="M2406 3479l24 13 22-14-24-13z"/>
<path class="m" d="M2379 3604l24 14 1-49-24-14z"/>
<path class="n" d="M2403 3618l22-16 1-48-22 15z"/>
<path class="t" d="M2380 3555l24 14 22-15-24-14z"/>
<path class="n" d="M2908 3303l17-11 32-314-17 10z"/>
<path class="t" d="M2916 2978l24 10 17-10-24-10z"/>
<path class="m" d="M2850 3317l22 11 34-359-24-10z"/>
<path class="n" d="M2872 3328l17-12 34-357-17 10z"/>
<path class="t" d="M2882 2959l24 10 17-10-24-10z"/>
<path class="m" d="M2812 3342l23 11 32-366-24-10z"/>
<path class="n" d="M2835 3353l17-11 33-365-18 10z"/>
<path class="t" d="M2843 2977l24 10 18-10-24-10z"/>
<path class="m" d="M2774 3368l23 12 30-370-24-11z"/>
<path class="n" d="M2797 3380l18-12 31-369-19 11z"/>
<path class="t" d="M2803 2999l24 11 19-11-24-10z"/>
<path class="m" d="M2735 3395l23 12 29-374-25-10z"/>
<path class="n" d="M2758 3407l18-13 30-372-19 11z"/>
<path class="t" d="M2762 3023l25 10 19-11-25-10z"/>
<path class="m" d="M2695 3422l23 12 26-377-24-11z"/>
<path class="n" d="M2718 3434l18-13 28-375-20 11z"/>
<path class="t" d="M2720 3046l24 11 20-11-25-11z"/>
<path class="m" d="M2653 3450l24 12 24-380-25-11z"/>
<path class="n" d="M2677 3462l19-13 25-378-20 11z"/>
<path class="t" d="M2676 3071l25 11 20-11-25-12z"/>
<path class="m" d="M2611 3479l23 12 23-384-25-11z"/>
<path class="n" d="M2634 3491l20-13 23-382-20 11z"/>
<path class="t" d="M2632 3096l25 11 20-11-25-12z"/>
<path class="m" d="M2567 3509l24 12 19-374-25-11z"/>
<path class="n" d="M2591 3521l20-14 20-372-21 12z"/>
<path class="t" d="M2585 3136l25 11 21-12-25-11z"/>
<path class="m" d="M2523 3539l23 13 15-318-26-13z"/>
<path class="n" d="M2546 3552l21-14 15-317-21 13z"/>
<path class="t" d="M2535 3221l26 13 21-13-25-12z"/>
<path class="m" d="M2477 3570l24 13 8-231-25-13z"/>
<path class="n" d="M2501 3583l21-14 9-230-22 13z"/>
<path class="t" d="M2484 3339l25 13 22-13-25-13zM2457 3456l25 13 22-14-25-13z"/>
<path class="m" d="M2429 3602l24 14 4-136-24-13z"/>
<path class="n" d="M2453 3616l22-15 5-135-23 14z"/>
<path class="t" d="M2433 3467l24 13 23-14-25-13z"/>
<path class="m" d="M2405 3619l24 13 2-65-24-14z"/>
<path class="n" d="M2429 3632l23-15 1-65-22 15z"/>
<path class="t" d="M2407 3553l24 14 22-15-24-14zM2970 3051l23 10 16-10-23-10z"/>
<path class="n" d="M2933 3315l16-12 32-302-17 10z"/>
<path class="t" d="M2940 3001l24 10 17-10-24-10z"/>
<path class="m" d="M2874 3329l23 11 34-346-24-10z"/>
<path class="n" d="M2897 3340l17-12 34-344-17 10z"/>
<path class="t" d="M2907 2984l24 10 17-10-24-10z"/>
<path class="m" d="M2837 3354l23 12 33-353-25-11z"/>
<path class="n" d="M2860 3366l17-12 33-352-17 11z"/>
<path class="t" d="M2868 3002l25 11 17-11-24-10z"/>
<path class="m" d="M2799 3381l23 11 31-356-25-11z"/>
<path class="n" d="M2822 3392l18-12 31-355-18 11z"/>
<path class="t" d="M2828 3025l25 11 18-11-24-10z"/>
<path class="m" d="M2760 3408l23 11 29-359-24-11z"/>
<path class="n" d="M2783 3419l18-12 30-358-19 11z"/>
<path class="t" d="M2788 3049l24 11 19-11-25-11z"/>
<path class="m" d="M2720 3435l23 12 28-363-25-11z"/>
<path class="n" d="M2743 3447l19-13 28-361-19 11z"/>
<path class="t" d="M2746 3073l25 11 19-11-25-11z"/>
<path class="m" d="M2679 3463l23 12 26-366-26-11z"/>
<path class="n" d="M2702 3475l19-13 26-364-19 11z"/>
<path class="t" d="M2702 3098l26 11 19-11-25-12z"/>
<path class="m" d="M2637 3492l23 13 23-370-25-11z"/>
<path class="n" d="M2660 3505l20-14 24-368-21 12z"/>
<path class="t" d="M2658 3124l25 11 21-12-25-11z"/>
<path class="m" d="M2593 3522l24 13 21-369-26-12z"/>
<path class="n" d="M2617 3535l20-14 22-367-21 12z"/>
<path class="t" d="M2612 3154l26 12 21-12-26-12z"/>
<path class="m" d="M2549 3553l24 13 16-329-26-12z"/>
<path class="n" d="M2573 3566l20-14 17-328-21 13z"/>
<path class="t" d="M2563 3225l26 12 21-13-25-12z"/>
<path class="m" d="M2503 3585l24 13 10-253-25-13z"/>
<path class="n" d="M2527 3598l21-15 11-252-22 14z"/>
<path class="t" d="M2512 3332l25 13 22-14-25-12z"/>
<path class="m" d="M2456 3617l24 14 5-161-25-13z"/>
<path class="n" d="M2480 3631l22-16 6-159-23 14z"/>
<path class="t" d="M2460 3457l25 13 23-14-25-13z"/>
<path class="m" d="M2432 3634l24 13 2-82-24-14z"/>
<path class="n" d="M2456 3647l22-15 3-82-23 15z"/>
<path class="t" d="M2434 3551l24 14 23-15-25-14z"/>
<path class="n" d="M2993 3301l16-11 25-217-17 10z"/>
<path class="t" d="M2994 3073l23 10 17-10-24-10z"/>
<path class="m" d="M2935 3316l23 10 31-289-24-10z"/>
<path class="n" d="M2958 3326l16-11 32-288-17 10z"/>
<path class="t" d="M2965 3027l24 10 17-10-24-10z"/>
<path class="m" d="M2899 3341l23 11 34-330-25-10z"/>
<path class="n" d="M2922 3352l17-12 34-328-17 10z"/>
<path class="t" d="M2931 3012l25 10 17-10-24-10z"/>
<path class="m" d="M2862 3366l23 12 33-336-25-11z"/>
<path class="n" d="M2885 3378l17-12 33-335-17 11z"/>
<path class="t" d="M2893 3031l25 11 17-11-24-10z"/>
<path class="m" d="M2824 3393l24 11 30-339-24-10z"/>
<path class="n" d="M2848 3404l17-12 32-338-19 11z"/>
<path class="t" d="M2854 3055l24 10 19-11-25-10z"/>
<path class="m" d="M2785 3420l24 12 29-342-25-11z"/>
<path class="n" d="M2809 3432l18-13 30-341-19 12z"/>
<path class="t" d="M2813 3079l25 11 19-12-25-10z"/>
<path class="m" d="M2745 3448l24 12 27-345-25-12z"/>
<path class="n" d="M2769 3460l19-13 28-344-20 12z"/>
<path class="t" d="M2771 3103l25 12 20-12-25-11z"/>
<path class="m" d="M2704 3477l24 12 26-349-26-11z"/>
<path class="n" d="M2728 3489l19-14 26-347-19 12z"/>
<path class="t" d="M2728 3129l26 11 19-12-25-11z"/>
<path class="m" d="M2662 3506l24 12 24-352-26-11z"/>
<path class="n" d="M2686 3518l20-13 24-351-20 12z"/>
<path class="t" d="M2684 3155l26 11 20-12-25-11z"/>
<path class="m" d="M2619 3536l24 13 22-355-26-12z"/>
<path class="n" d="M2643 3549l20-14 23-354-21 13z"/>
<path class="t" d="M2639 3182l26 12 21-13-26-12z"/>
<path class="m" d="M2575 3567l24 13 18-331-26-12z"/>
<path class="n" d="M2599 3580l21-14 18-330-21 13z"/>
<path class="t" d="M2591 3237l26 12 21-13-26-12z"/>
<path class="m" d="M2529 3599l25 13 12-268-26-12z"/>
<path class="t" d="M2540 3332l26 12 22-13-26-13z"/>
<path class="m" d="M2482 3632l25 13 7-182-26-13z"/>
<path class="n" d="M2507 3645l21-15 8-181-22 14z"/>
<path class="t" d="M2488 3450l26 13 22-14-25-14z"/>
<path class="m" d="M2458 3649l25 13 3-98-25-14z"/>
<path class="n" d="M2483 3662l22-15 4-98-23 15z"/>
<path class="t" d="M2461 3550l25 14 23-15-25-14zM3043 3156l24 10 15-11-23-10z"/>
<path class="n" d="M3018 3313l16-11 23-201-16 11z"/>
<path class="t" d="M3018 3101l23 11 16-11-23-10z"/>
<path class="m" d="M2960 3327l23 11 30-266-25-11z"/>
<path class="n" d="M2983 3338l16-12 30-265-16 11z"/>
<path class="t" d="M2988 3061l25 11 16-11-24-10z"/>
<path class="m" d="M2924 3353l23 11 32-303-24-11z"/>
<path class="n" d="M2947 3364l17-12 33-302-18 11z"/>
<path class="t" d="M2955 3050l24 11 18-11-25-10z"/>
<path class="m" d="M2887 3379l24 11 31-309-25-11z"/>
<path class="n" d="M2911 3390l17-12 31-308-17 11z"/>
<path class="t" d="M2917 3070l25 11 17-11-24-11z"/>
<path class="m" d="M2850 3405l23 12 30-312-25-11z"/>
<path class="n" d="M2873 3417l18-13 30-310-18 11z"/>
<path class="t" d="M2878 3094l25 11 18-11-25-11z"/>
<path class="m" d="M2811 3433l24 12 28-315-25-11z"/>
<path class="n" d="M2835 3445l17-13 29-314-18 12z"/>
<path class="t" d="M2838 3119l25 11 18-12-25-11z"/>
<path class="m" d="M2771 3461l24 12 27-318-26-11z"/>
<path class="n" d="M2795 3473l18-13 28-317-19 12z"/>
<path class="t" d="M2796 3144l26 11 19-12-25-11z"/>
<path class="m" d="M2730 3490l24 12 25-321-25-11z"/>
<path class="n" d="M2754 3502l19-13 26-320-20 12z"/>
<path class="t" d="M2754 3170l25 11 20-12-25-11z"/>
<path class="m" d="M2688 3519l25 13 23-324-26-12z"/>
<path class="n" d="M2713 3532l19-14 24-322-20 12z"/>
<path class="t" d="M2710 3196l26 12 20-12-26-12z"/>
<path class="m" d="M2645 3550l25 13 21-327-26-12z"/>
<path class="n" d="M2670 3563l20-14 22-326-21 13z"/>
<path class="t" d="M2665 3224l26 12 21-13-26-12z"/>
<path class="m" d="M2601 3581l25 14 18-318-26-12z"/>
<path class="n" d="M2626 3595l20-15 19-316-21 13z"/>
<path class="t" d="M2618 3265l26 12 21-13-26-12z"/>
<path class="m" d="M2556 3614l24 13 14-270-26-12z"/>
<path class="n" d="M2580 3627l21-15 15-268-22 13z"/>
<path class="t" d="M2568 3345l26 12 22-13-26-13z"/>
<path class="n" d="M2557 3644l22-16 8-166-22 15z"/>
<path class="t" d="M2540 3463l25 14 22-15-26-13z"/>
<path class="m" d="M2509 3647l25 14 8-196-26-13z"/>
<path class="n" d="M2534 3661l21-16 9-194-22 14z"/>
<path class="t" d="M2516 3452l26 13 22-14-25-14z"/>
<path class="m" d="M2485 3664l25 14 4-111-25-13z"/>
<path class="n" d="M2510 3678l22-16 5-110-23 15z"/>
<path class="t" d="M2489 3554l25 13 23-15-26-13z"/>
<path class="n" d="M3077 3300l15-11 14-110-15 11z"/>
<path class="t" d="M3067 3180l24 10 15-11-23-10z"/>
<path class="n" d="M3043 3325l16-12 22-179-16 10z"/>
<path class="t" d="M3041 3134l24 10 16-10-24-11z"/>
<path class="m" d="M2985 3339l23 11 28-238-24-11z"/>
<path class="n" d="M3008 3350l16-12 28-237-16 11z"/>
<path class="t" d="M3012 3101l24 11 16-11-24-10z"/>
<path class="m" d="M2949 3365l24 11 30-271-25-10z"/>
<path class="n" d="M2973 3376l16-12 31-270-17 11z"/>
<path class="t" d="M2978 3095l25 10 17-11-25-10z"/>
<path class="m" d="M2913 3391l23 11 29-276-24-11z"/>
<path class="n" d="M2936 3402l17-12 30-275-18 11z"/>
<path class="t" d="M2941 3115l24 11 18-11-25-11z"/>
<path class="m" d="M2875 3418l24 11 28-278-25-11z"/>
<path class="n" d="M2899 3429l17-12 29-278-18 12z"/>
<path class="t" d="M2902 3140l25 11 18-12-25-10z"/>
<path class="m" d="M2837 3446l24 11 26-281-25-11z"/>
<path class="n" d="M2861 3457l17-13 27-279-18 11z"/>
<path class="t" d="M2862 3165l25 11 18-11-25-12z"/>
<path class="m" d="M2797 3474l24 12 25-284-25-11z"/>
<path class="n" d="M2821 3486l18-13 26-283-19 12z"/>
<path class="t" d="M2821 3191l25 11 19-12-25-11z"/>
<path class="m" d="M2757 3503l24 13 23-287-25-12z"/>
<path class="n" d="M2781 3516l18-14 25-285-20 12z"/>
<path class="t" d="M2779 3217l25 12 20-12-26-12z"/>
<path class="m" d="M2715 3533l24 13 22-289-26-12z"/>
<path class="n" d="M2739 3546l19-14 23-288-20 13z"/>
<path class="t" d="M2735 3245l26 12 20-13-26-12z"/>
<path class="m" d="M2672 3564l24 13 21-292-26-12z"/>
<path class="n" d="M2696 3577l20-14 21-291-20 13z"/>
<path class="t" d="M2691 3273l26 12 20-13-26-12z"/>
<path class="m" d="M2628 3596l25 13 17-283-26-13z"/>
<path class="n" d="M2653 3609l20-15 18-282-21 14z"/>
<path class="t" d="M2644 3313l26 13 21-14-26-13z"/>
<path class="n" d="M2630 3625l21-15 11-188-21 14z"/>
<path class="t" d="M2616 3423l25 13 21-14-25-13z"/>
<path class="m" d="M2583 3628l24 14 14-241-26-13z"/>
<path class="n" d="M2607 3642l21-15 14-240-21 14z"/>
<path class="t" d="M2595 3388l26 13 21-14-26-13z"/>
<path class="n" d="M2584 3659l22-16 8-149-22 15z"/>
<path class="t" d="M2566 3496l26 13 22-15-26-13z"/>
<path class="m" d="M2536 3662l25 14 8-175-26-14z"/>
<path class="n" d="M2561 3676l22-16 8-174-22 15z"/>
<path class="t" d="M2543 3487l26 14 22-15-25-13z"/>
<path class="m" d="M2512 3679l25 14 5-99-26-14z"/>
<path class="n" d="M2537 3693l22-16 5-98-22 15z"/>
<path class="t" d="M2516 3580l26 14 22-15-26-14z"/>
<path class="n" d="M3135 3287l15-11 5-38-15 10z"/>
<path class="t" d="M3117 3238l23 10 15-10-23-11z"/>
<path class="n" d="M3102 3311l15-11 13-96-16 11z"/>
<path class="t" d="M3091 3204l23 11 16-11-24-11z"/>
<path class="n" d="M3068 3336l16-11 20-158-16 11z"/>
<path class="t" d="M3064 3168l24 10 16-11-24-10z"/>
<path class="m" d="M3010 3351l24 11 25-209-25-11z"/>
<path class="n" d="M3034 3362l16-12 25-208-16 11z"/>
<path class="t" d="M3034 3142l25 11 16-11-24-10z"/>
<path class="m" d="M2975 3377l23 11 28-237-25-11z"/>
<path class="n" d="M2998 3388l17-12 27-236-16 11z"/>
<path class="t" d="M3001 3140l25 11 16-11-24-11z"/>
<path class="m" d="M2938 3403l24 12 27-242-25-11z"/>
<path class="n" d="M2962 3415l17-13 27-241-17 12z"/>
<path class="t" d="M2964 3162l25 11 17-12-25-10z"/>
<path class="m" d="M2901 3430l24 12 25-244-25-11z"/>
<path class="n" d="M2925 3442l17-13 26-243-18 12z"/>
<path class="t" d="M2925 3187l25 11 18-12-25-11z"/>
<path class="m" d="M2863 3458l24 12 24-246-25-11z"/>
<path class="n" d="M2887 3470l17-13 25-245-18 12z"/>
<path class="t" d="M2886 3213l25 11 18-12-25-11z"/>
<path class="m" d="M2823 3487l25 12 22-248-25-12z"/>
<path class="n" d="M2848 3499l18-13 23-248-19 13z"/>
<path class="t" d="M2845 3239l25 12 19-13-25-11z"/>
<path class="m" d="M2783 3517l24 12 22-251-26-12z"/>
<path class="n" d="M2807 3529l19-14 22-249-19 12z"/>
<path class="t" d="M2803 3266l26 12 19-12-25-12z"/>
<path class="m" d="M2741 3547l25 13 20-253-26-13z"/>
<path class="n" d="M2766 3560l19-14 21-253-20 14z"/>
<path class="t" d="M2760 3294l26 13 20-14-26-12z"/>
<path class="m" d="M2699 3578l24 13 19-255-26-13z"/>
<path class="n" d="M2723 3591l20-14 20-255-21 14z"/>
<path class="t" d="M2716 3323l26 13 21-14-26-12z"/>
<path class="m" d="M2655 3610l25 14 16-249-26-13z"/>
<path class="n" d="M2680 3624l20-15 17-248-21 14z"/>
<path class="t" d="M2670 3362l26 13 21-14-26-12z"/>
<path class="n" d="M2657 3640l21-15 11-165-21 14z"/>
<path class="t" d="M2642 3461l26 13 21-14-26-14z"/>
<path class="m" d="M2610 3643l25 14 12-211-26-14z"/>
<path class="n" d="M2635 3657l21-16 13-210-22 15z"/>
<path class="t" d="M2621 3432l26 14 22-15-26-13z"/>
<path class="n" d="M2612 3674l21-16 8-131-22 15z"/>
<path class="t" d="M2593 3529l26 13 22-15-26-13z"/>
<path class="m" d="M2563 3677l25 14 8-153-26-14z"/>
<path class="n" d="M2588 3691l22-16 8-153-22 16z"/>
<path class="t" d="M2570 3524l26 14 22-16-25-13z"/>
<path class="m" d="M2539 3694l26 14 4-86-26-14z"/>
<path class="n" d="M2565 3708l22-16 4-86-22 16z"/>
<path class="t" d="M2543 3608l26 14 22-16-26-14zM3154 3266l23 10 15-10-23-11z"/>
<path class="n" d="M3160 3298l15-11 4-33-15 11z"/>
<path class="t" d="M3141 3255l23 10 15-11-23-10z"/>
<path class="n" d="M3127 3323l15-11 12-84-16 11z"/>
<path class="t" d="M3115 3229l23 10 16-11-24-10z"/>
<path class="m" d="M3070 3337l24 11 17-137-24-10z"/>
<path class="n" d="M3094 3348l15-12 18-136-16 11z"/>
<path class="t" d="M3087 3201l24 10 16-11-24-10z"/>
<path class="m" d="M3036 3363l23 11 23-181-25-10z"/>
<path class="n" d="M3059 3374l16-12 23-180-16 11z"/>
<path class="t" d="M3057 3183l25 10 16-11-24-11z"/>
<path class="m" d="M3000 3389l24 11 25-205-25-11z"/>
<path class="n" d="M3024 3400l17-12 24-204-16 11z"/>
<path class="t" d="M3024 3184l25 11 16-11-24-11z"/>
<path class="m" d="M2964 3416l24 11 24-209-25-11z"/>
<path class="n" d="M2988 3427l17-12 24-208-17 11z"/>
<path class="t" d="M2987 3207l25 11 17-11-25-11z"/>
<path class="m" d="M2927 3443l24 12 23-211-25-11z"/>
<path class="n" d="M2951 3455l17-13 24-210-18 12z"/>
<path class="t" d="M2949 3233l25 11 18-12-25-11z"/>
<path class="m" d="M2889 3471l24 13 22-213-25-12z"/>
<path class="n" d="M2913 3484l18-14 22-212-18 13z"/>
<path class="t" d="M2910 3259l25 12 18-13-25-11z"/>
<path class="m" d="M2850 3500l24 13 21-215-25-12z"/>
<path class="n" d="M2874 3513l18-14 21-214-18 13z"/>
<path class="t" d="M2870 3286l25 12 18-13-25-11z"/>
<path class="m" d="M2809 3530l25 13 20-217-26-12z"/>
<path class="n" d="M2834 3543l19-14 20-216-19 13z"/>
<path class="t" d="M2828 3314l26 12 19-13-26-12z"/>
<path class="m" d="M2768 3561l25 13 18-219-25-12z"/>
<path class="n" d="M2793 3574l19-15 19-217-20 13z"/>
<path class="t" d="M2786 3343l25 12 20-13-26-13zM2759 3420l26 13 19-14-25-13z"/>
<path class="m" d="M2726 3592l25 14 17-221-26-13z"/>
<path class="n" d="M2751 3606l19-15 18-220-20 14z"/>
<path class="t" d="M2742 3372l26 13 20-14-26-13z"/>
<path class="n" d="M2729 3622l20-15 12-157-20 15z"/>
<path class="t" d="M2715 3451l26 14 20-15-26-13z"/>
<path class="m" d="M2682 3625l25 13 15-214-26-13z"/>
<path class="n" d="M2707 3638l20-15 16-213-21 14z"/>
<path class="t" d="M2696 3411l26 13 21-14-26-13z"/>
<path class="n" d="M2685 3655l20-15 10-143-20 14z"/>
<path class="t" d="M2669 3498l26 13 20-14-25-14z"/>
<path class="m" d="M2637 3658l25 14 12-183-26-13z"/>
<path class="n" d="M2662 3672l21-16 12-182-21 15z"/>
<path class="t" d="M2648 3476l26 13 21-15-26-13z"/>
<path class="m" d="M2614 3675l25 14 7-114-26-14z"/>
<path class="n" d="M2639 3689l21-16 8-113-22 15z"/>
<path class="t" d="M2620 3561l26 14 22-15-26-14z"/>
<path class="m" d="M2591 3692l25 14 8-132-26-14z"/>
<path class="n" d="M2616 3706l22-16 8-132-22 16z"/>
<path class="t" d="M2598 3560l26 14 22-16-27-14z"/>
<path class="m" d="M2567 3710l26 14 4-75-26-14z"/>
<path class="n" d="M2593 3724l21-16 5-75-22 16z"/>
<path class="t" d="M2571 3635l26 14 22-16-26-14z"/>
<path class="n" d="M3201 3298l15-11 1-9-15 11z"/>
<path class="t" d="M3179 3279l23 10 15-11-23-10z"/>
<path class="n" d="M3185 3310l15-11 4-28-15 11z"/>
<path class="t" d="M3166 3271l23 11 15-11-24-11z"/>
<path class="n" d="M3153 3335l15-12 9-69-15 11z"/>
<path class="t" d="M3138 3254l24 11 15-11-23-11z"/>
<path class="m" d="M3096 3349l23 11 15-114-24-10z"/>
<path class="n" d="M3119 3360l16-12 15-113-16 11z"/>
<path class="t" d="M3110 3236l24 10 16-11-24-11z"/>
<path class="m" d="M3061 3375l24 11 19-150-24-10z"/>
<path class="n" d="M3085 3386l16-12 19-149-16 11z"/>
<path class="t" d="M3080 3226l24 10 16-11-24-11z"/>
<path class="n" d="M3068 3399l16-12 15-115-17 11z"/>
<path class="t" d="M3058 3272l24 11 17-11-25-11z"/>
<path class="m" d="M3026 3401l24 12 21-170-25-11z"/>
<path class="n" d="M3050 3413l16-13 22-169-17 12z"/>
<path class="t" d="M3046 3232l25 11 17-12-25-11z"/>
<path class="n" d="M3032 3426l17-12 15-123-17 12z"/>
<path class="t" d="M3023 3292l24 11 17-12-25-11z"/>
<path class="m" d="M2990 3428l24 12 21-173-25-11z"/>
<path class="n" d="M3014 3440l17-13 21-172-17 12z"/>
<path class="t" d="M3010 3256l25 11 17-12-25-11z"/>
<path class="n" d="M2996 3454l17-13 15-124-18 13z"/>
<path class="t" d="M2986 3318l24 12 18-13-25-11z"/>
<path class="m" d="M2953 3456l25 12 19-175-25-11z"/>
<path class="n" d="M2978 3468l17-13 20-174-18 12z"/>
<path class="t" d="M2972 3282l25 11 18-12-25-11z"/>
<path class="n" d="M2959 3482l17-13 14-125-17 13z"/>
<path class="t" d="M2948 3345l25 12 17-13-25-11z"/>
<path class="m" d="M2915 3485l25 12 19-176-26-12z"/>
<path class="n" d="M2940 3497l17-14 20-175-18 13z"/>
<path class="t" d="M2933 3309l26 12 18-13-26-12z"/>
<path class="n" d="M2921 3511l17-13 14-126-18 13z"/>
<path class="t" d="M2909 3373l25 12 18-13-25-12z"/>
<path class="m" d="M2876 3514l25 12 18-177-25-12z"/>
<path class="n" d="M2901 3526l18-13 18-177-18 13z"/>
<path class="t" d="M2894 3337l25 12 18-13-25-12z"/>
<path class="n" d="M2881 3541l18-13 13-127-18 13z"/>
<path class="t" d="M2868 3402l26 12 18-13-25-13z"/>
<path class="m" d="M2836 3544l25 13 17-180-25-12z"/>
<path class="n" d="M2861 3557l19-14 17-179-19 13z"/>
<path class="t" d="M2853 3365l25 12 19-13-25-12z"/>
<path class="n" d="M2841 3572l18-14 13-128-19 14z"/>
<path class="t" d="M2827 3431l26 13 19-14-26-13z"/>
<path class="m" d="M2795 3575l25 13 16-181-26-13z"/>
<path class="n" d="M2820 3588l19-15 17-180-20 14z"/>
<path class="t" d="M2810 3394l26 13 20-14-26-12z"/>
<path class="n" d="M2799 3604l19-15 12-129-20 14z"/>
<path class="t" d="M2785 3461l25 13 20-14-26-13z"/>
<path class="m" d="M2753 3607l25 13 15-183-26-12z"/>
<path class="n" d="M2778 3620l20-15 15-182-20 14z"/>
<path class="t" d="M2767 3425l26 12 20-14-26-12z"/>
<path class="n" d="M2756 3636l20-15 11-129-20 14z"/>
<path class="t" d="M2741 3493l26 13 20-14-26-14z"/>
<path class="m" d="M2709 3639l26 14 13-177-26-14z"/>
<path class="n" d="M2735 3653l20-15 14-177-21 15z"/>
<path class="t" d="M2722 3462l26 14 21-15-26-13z"/>
<path class="n" d="M2713 3670l20-16 9-118-21 15z"/>
<path class="t" d="M2695 3537l26 14 21-15-26-14z"/>
<path class="m" d="M2664 3673l26 14 10-151-26-14z"/>
<path class="n" d="M2690 3687l21-16 11-150-22 15z"/>
<path class="t" d="M2674 3522l26 14 22-15-27-14z"/>
<path class="m" d="M2642 3690l25 14 6-94-26-14z"/>
<path class="n" d="M2667 3704l21-16 7-94-22 16z"/>
<path class="t" d="M2647 3596l26 14 22-16-26-13z"/>
<path class="m" d="M2618 3708l26 14 7-110-26-14z"/>
<path class="n" d="M2644 3722l21-16 8-110-22 16z"/>
<path class="t" d="M2625 3598l26 14 22-16-27-14z"/>
<path class="m" d="M2595 3725l26 15 3-63-26-14z"/>
<path class="n" d="M2621 3740l21-17 4-62-22 16z"/>
<path class="t" d="M2598 3663l26 14 22-16-26-14z"/>
<path class="n" d="M3226 3309l15-11 1-7-15 11z"/>
<path class="t" d="M3204 3292l23 10 15-11-24-10z"/>
<path class="n" d="M3211 3321l14-11 3-22-14 11z"/>
<path class="t" d="M3190 3289l24 10 14-11-23-11z"/>
<path class="n" d="M3195 3334l14-12 4-27-15 11z"/>
<path class="t" d="M3175 3296l23 10 15-11-23-11z"/>
<path class="m" d="M3155 3335l23 11 8-55-24-11z"/>
<path class="n" d="M3178 3346l15-11 8-55-15 11z"/>
<path class="t" d="M3162 3280l24 11 15-11-24-11zM3145 3296l24 11 15-12-23-11z"/>
<path class="m" d="M3121 3361l24 11 13-90-25-11z"/>
<path class="n" d="M3145 3372l16-12 12-90-15 12z"/>
<path class="t" d="M3133 3271l25 11 15-12-24-10z"/>
<path class="n" d="M3128 3385l16-12 10-75-15 11z"/>
<path class="t" d="M3114 3298l25 11 15-11-24-11z"/>
<path class="m" d="M3087 3387l24 11 16-118-24-11z"/>
<path class="n" d="M3111 3398l16-12 16-118-16 12z"/>
<path class="t" d="M3103 3269l24 11 16-12-24-11z"/>
<path class="n" d="M3094 3411l16-12 12-91-16 12z"/>
<path class="t" d="M3082 3308l24 12 16-12-24-11z"/>
<path class="m" d="M3052 3414l25 11 17-134-25-12z"/>
<path class="n" d="M3077 3425l16-12 17-134-16 12z"/>
<path class="t" d="M3069 3279l25 12 16-12-25-11z"/>
<path class="n" d="M3059 3439l16-13 13-97-17 12z"/>
<path class="t" d="M3046 3330l25 11 17-12-25-11z"/>
<path class="m" d="M3017 3441l24 12 17-137-25-12z"/>
<path class="n" d="M3041 3453l16-13 17-137-16 13z"/>
<path class="t" d="M3033 3304l25 12 16-13-24-11z"/>
<path class="n" d="M3023 3467l16-13 12-98-17 12z"/>
<path class="t" d="M3010 3357l24 11 17-12-24-12z"/>
<path class="m" d="M2980 3469l24 12 16-138-25-12z"/>
<path class="n" d="M3004 3481l17-13 17-138-18 13z"/>
<path class="t" d="M2995 3331l25 12 18-13-25-11z"/>
<path class="n" d="M2986 3495l17-13 11-99-17 13z"/>
<path class="t" d="M2972 3384l25 12 17-13-25-12z"/>
<path class="m" d="M2942 3498l25 12 15-139-25-12z"/>
<path class="n" d="M2967 3510l17-13 16-139-18 13z"/>
<path class="t" d="M2957 3359l25 12 18-13-25-12z"/>
<path class="n" d="M2947 3525l18-14 11-100-18 14z"/>
<path class="t" d="M2933 3412l25 13 18-14-25-12z"/>
<path class="m" d="M2903 3527l25 13 15-141-26-12z"/>
<path class="n" d="M2928 3540l18-14 15-140-18 13z"/>
<path class="t" d="M2917 3387l26 12 18-13-25-12z"/>
<path class="n" d="M2908 3555l18-14 11-101-18 14z"/>
<path class="t" d="M2893 3442l26 12 18-14-25-12z"/>
<path class="m" d="M2863 3558l25 13 15-142-26-13z"/>
<path class="n" d="M2888 3571l19-15 14-141-18 14z"/>
<path class="t" d="M2877 3416l26 13 18-14-25-12z"/>
<path class="n" d="M2868 3586l19-14 10-102-19 14z"/>
<path class="t" d="M2852 3472l26 12 19-14-26-12z"/>
<path class="m" d="M2822 3589l26 13 13-143-26-13z"/>
<path class="n" d="M2848 3602l18-14 14-143-19 14z"/>
<path class="t" d="M2835 3446l26 13 19-14-26-13z"/>
<path class="n" d="M2827 3618l19-14 9-103-19 14z"/>
<path class="t" d="M2810 3502l26 13 19-14-25-13z"/>
<path class="m" d="M2780 3621l26 14 12-145-26-13z"/>
<path class="n" d="M2806 3635l19-15 13-144-20 14z"/>
<path class="t" d="M2792 3477l26 13 20-14-26-13z"/>
<path class="n" d="M2784 3651l20-15 9-103-20 15z"/>
<path class="t" d="M2767 3534l26 14 20-15-26-13z"/>
<path class="m" d="M2737 3654l26 14 11-140-26-14z"/>
<path class="n" d="M2763 3668l20-15 11-140-20 15z"/>
<path class="t" d="M2748 3514l26 14 20-15-26-14z"/>
<path class="n" d="M2740 3685l21-16 7-94-20 16z"/>
<path class="t" d="M2722 3577l26 14 20-16-26-13z"/>
<path class="m" d="M2692 3688l26 14 9-119-26-14z"/>
<path class="n" d="M2718 3702l21-16 9-119-21 16z"/>
<path class="t" d="M2701 3569l26 14 21-16-26-14z"/>
<path class="n" d="M2695 3720l21-16 6-75-21 16z"/>
<path class="t" d="M2674 3631l27 14 21-16-26-14z"/>
<path class="m" d="M2646 3723l26 15 6-88-26-14z"/>
<path class="n" d="M2672 3738l22-17 6-87-22 16z"/>
<path class="t" d="M2652 3636l26 14 22-16-27-14z"/>
<path class="m" d="M2623 3741l26 15 3-50-26-14z"/>
<path class="n" d="M2649 3756l22-17 3-49-22 16z"/>
<path class="t" d="M2626 3692l26 14 22-16-26-15z"/>
<path class="n" d="M3252 3320l14-11 1-5-14 11z"/>
<path class="t" d="M3229 3305l24 10 14-11-23-10z"/>
<path class="n" d="M3236 3333l15-12 2-17-14 12z"/>
<path class="t" d="M3215 3305l24 11 14-12-23-10z"/>
<path class="n" d="M3220 3345l15-11 3-21-15 11z"/>
<path class="t" d="M3200 3314l23 10 15-11-24-11z"/>
<path class="m" d="M3180 3347l24 11 6-43-24-10z"/>
<path class="n" d="M3204 3358l15-12 6-42-15 11z"/>
<path class="t" d="M3186 3305l24 10 15-11-24-11z"/>
<path class="n" d="M3188 3371l15-12 6-40-15 12z"/>
<path class="t" d="M3170 3320l24 11 15-12-24-11z"/>
<path class="m" d="M3147 3373l24 11 10-69-24-11z"/>
<path class="n" d="M3171 3384l16-12 9-69-15 12z"/>
<path class="t" d="M3157 3304l24 11 15-12-24-11z"/>
<path class="n" d="M3155 3397l15-12 8-58-15 12z"/>
<path class="t" d="M3138 3328l25 11 15-12-24-11z"/>
<path class="m" d="M3113 3399l25 11 12-90-25-12z"/>
<path class="n" d="M3138 3410l15-12 13-90-16 12z"/>
<path class="t" d="M3125 3308l25 12 16-12-25-11z"/>
<path class="n" d="M3120 3424l16-13 10-70-16 12z"/>
<path class="t" d="M3105 3342l25 11 16-12-25-11z"/>
<path class="m" d="M3079 3426l24 12 14-103-25-12z"/>
<path class="n" d="M3103 3438l16-13 14-103-16 13z"/>
<path class="t" d="M3092 3323l25 12 16-13-25-11z"/>
<path class="n" d="M3085 3451l17-12 9-75-16 13z"/>
<path class="t" d="M3070 3365l25 12 16-13-24-11z"/>
<path class="m" d="M3043 3454l25 11 13-104-25-12z"/>
<path class="n" d="M3068 3465l16-12 13-105-16 13z"/>
<path class="t" d="M3056 3349l25 12 16-13-24-11z"/>
<path class="n" d="M3049 3480l17-13 10-76-17 13z"/>
<path class="t" d="M3034 3392l25 12 17-13-25-11z"/>
<path class="m" d="M3006 3482l25 12 13-106-25-12z"/>
<path class="n" d="M3031 3494l17-13 13-106-17 13z"/>
<path class="t" d="M3019 3376l25 12 17-13-25-11z"/>
<path class="n" d="M3013 3509l17-14 9-76-17 14z"/>
<path class="t" d="M2996 3420l26 13 17-14-25-12z"/>
<path class="m" d="M2969 3511l25 12 12-106-25-12z"/>
<path class="n" d="M2994 3523l17-13 13-106-18 13z"/>
<path class="t" d="M2981 3405l25 12 18-13-26-13z"/>
<path class="n" d="M2975 3538l17-13 9-77-18 14z"/>
<path class="t" d="M2958 3449l25 13 18-14-25-12z"/>
<path class="m" d="M2930 3541l25 13 12-108-25-12z"/>
<path class="n" d="M2955 3554l18-14 12-108-18 14z"/>
<path class="t" d="M2942 3434l25 12 18-14-25-12z"/>
<path class="n" d="M2936 3569l18-14 8-77-18 14z"/>
<path class="t" d="M2918 3479l26 13 18-14-25-13z"/>
<path class="m" d="M2891 3572l25 13 11-109-26-13z"/>
<path class="n" d="M2916 3585l18-15 12-108-19 14z"/>
<path class="t" d="M2901 3463l26 13 19-14-26-13z"/>
<path class="n" d="M2896 3601l18-15 8-78-18 14z"/>
<path class="t" d="M2878 3509l26 13 18-14-25-13z"/>
<path class="m" d="M2850 3603l25 14 11-110-26-13z"/>
<path class="n" d="M2875 3617l19-15 11-109-19 14z"/>
<path class="t" d="M2860 3494l26 13 19-14-26-13z"/>
<path class="n" d="M2855 3633l19-15 7-79-19 15z"/>
<path class="t" d="M2836 3541l26 13 19-15-26-13z"/>
<path class="m" d="M2808 3636l26 13 10-110-26-14z"/>
<path class="n" d="M2834 3649l19-15 10-110-19 15z"/>
<path class="t" d="M2818 3525l26 14 19-15-26-13z"/>
<path class="n" d="M2812 3666l20-15 7-79-20 15z"/>
<path class="t" d="M2793 3573l26 14 20-15-26-14z"/>
<path class="m" d="M2765 3669l26 14 9-107-27-14z"/>
<path class="n" d="M2791 3683l20-15 9-108-20 16z"/>
<path class="t" d="M2773 3562l27 14 20-16-26-13z"/>
<path class="n" d="M2769 3700l20-15 6-73-20 16z"/>
<path class="t" d="M2748 3614l27 14 20-16-26-13z"/>
<path class="m" d="M2720 3704l26 14 8-92-27-14z"/>
<path class="n" d="M2746 3718l21-16 7-92-20 16z"/>
<path class="t" d="M2727 3612l27 14 20-16-26-14z"/>
<path class="n" d="M2724 3736l21-17 4-57-21 16z"/>
<path class="t" d="M2702 3664l26 14 21-16-26-14z"/>
<path class="m" d="M2675 3739l26 15 5-67-27-15z"/>
<path class="n" d="M2701 3754l21-17 5-67-21 17z"/>
<path class="t" d="M2679 3672l27 15 21-17-26-14z"/>
<path class="m" d="M2651 3757l27 15 2-38-26-15z"/>
<path class="n" d="M2678 3772l21-17 3-38-22 17z"/>
<path class="t" d="M2654 3719l26 15 22-17-27-14z"/>
<path class="n" d="M3278 3332l14-11 1-4-15 11z"/>
<path class="t" d="M3255 3318l23 10 15-11-24-11z"/>
<path class="n" d="M3262 3344l15-11 2-13-15 12z"/>
<path class="t" d="M3240 3321l24 11 15-12-24-10z"/>
<path class="n" d="M3246 3357l15-12 2-15-14 11z"/>
<path class="t" d="M3225 3331l24 10 14-11-24-11z"/>
<path class="m" d="M3206 3359l24 11 5-32-24-11z"/>
<path class="n" d="M3230 3370l15-12 5-31-15 11z"/>
<path class="t" d="M3211 3327l24 11 15-11-24-11z"/>
<path class="n" d="M3214 3383l15-12 4-30-15 12z"/>
<path class="t" d="M3194 3342l24 11 15-12-24-11z"/>
<path class="m" d="M3173 3385l25 11 7-51-24-12z"/>
<path class="n" d="M3198 3396l15-12 7-51-15 12z"/>
<path class="t" d="M3181 3333l24 12 15-12-24-11z"/>
<path class="n" d="M3181 3409l15-12 7-43-16 12z"/>
<path class="t" d="M3163 3355l24 11 16-12-25-11z"/>
<path class="m" d="M3140 3411l24 12 10-68-25-11z"/>
<path class="n" d="M3164 3423l16-13 9-67-15 12z"/>
<path class="t" d="M3149 3344l25 11 15-12-24-11z"/>
<path class="n" d="M3147 3436l16-12 7-52-16 12z"/>
<path class="t" d="M3130 3373l24 11 16-12-25-12z"/>
<path class="m" d="M3105 3439l25 11 10-76-25-12z"/>
<path class="n" d="M3130 3450l16-12 10-77-16 13z"/>
<path class="t" d="M3115 3362l25 12 16-13-25-11z"/>
<path class="n" d="M3112 3464l16-13 8-55-16 12z"/>
<path class="t" d="M3095 3397l25 11 16-12-25-12z"/>
<path class="m" d="M3070 3466l24 12 11-78-25-11z"/>
<path class="n" d="M3094 3478l17-13 10-77-16 12z"/>
<path class="t" d="M3080 3389l25 11 16-12-25-12z"/>
<path class="n" d="M3076 3493l17-13 7-56-16 13z"/>
<path class="t" d="M3059 3425l25 12 16-13-25-12z"/>
<path class="m" d="M3033 3495l25 12 10-78-25-12z"/>
<path class="n" d="M3058 3507l17-13 10-78-17 13z"/>
<path class="t" d="M3043 3417l25 12 17-13-25-12z"/>
<path class="m" d="M3015 3510l25 12 7-57-26-12z"/>
<path class="n" d="M3040 3522l17-13 7-57-17 13z"/>
<path class="t" d="M3021 3453l26 12 17-13-25-12z"/>
<path class="m" d="M2996 3525l25 12 10-79-26-13z"/>
<path class="n" d="M3021 3537l17-14 10-79-17 14z"/>
<path class="t" d="M3005 3445l26 13 17-14-25-12z"/>
<path class="m" d="M2977 3540l25 12 7-57-26-13z"/>
<path class="n" d="M3002 3552l18-14 6-57-17 14z"/>
<path class="t" d="M2983 3482l26 13 17-14-25-12z"/>
<path class="m" d="M2957 3555l26 13 9-81-26-12z"/>
<path class="n" d="M2983 3568l18-15 9-79-18 13z"/>
<path class="t" d="M2966 3475l26 12 18-13-26-13z"/>
<path class="n" d="M2963 3583l18-14 7-58-18 14z"/>
<path class="t" d="M2944 3513l26 12 18-14-26-12z"/>
<path class="m" d="M2918 3586l26 13 8-81-25-13z"/>
<path class="n" d="M2944 3599l18-15 9-80-19 14z"/>
<path class="t" d="M2927 3505l25 13 19-14-26-13z"/>
<path class="n" d="M2924 3615l18-15 6-58-18 15z"/>
<path class="t" d="M2904 3544l26 13 18-15-26-13z"/>
<path class="m" d="M2877 3618l26 13 9-81-26-14z"/>
<path class="n" d="M2903 3631l19-15 9-81-19 15z"/>
<path class="t" d="M2886 3536l26 14 19-15-26-13z"/>
<path class="n" d="M2883 3648l19-16 6-58-20 15z"/>
<path class="t" d="M2862 3575l26 14 20-15-26-13z"/>
<path class="m" d="M2836 3651l26 13 8-82-27-13z"/>
<path class="n" d="M2862 3664l19-15 8-82-19 15z"/>
<path class="t" d="M2843 3569l27 13 19-15-26-13z"/>
<path class="n" d="M2840 3681l20-15 6-59-20 15z"/>
<path class="t" d="M2820 3609l26 13 20-15-27-14z"/>
<path class="m" d="M2793 3684l26 14 7-79-26-14z"/>
<path class="n" d="M2819 3698l20-15 7-80-20 16z"/>
<path class="t" d="M2800 3605l26 14 20-16-26-14z"/>
<path class="n" d="M2797 3716l20-16 5-54-20 16z"/>
<path class="t" d="M2775 3648l27 14 20-16-26-14z"/>
<path class="m" d="M2749 3719l26 15 6-69-27-14z"/>
<path class="n" d="M2775 3734l20-17 6-68-20 16z"/>
<path class="t" d="M2754 3651l27 14 20-16-26-14z"/>
<path class="m" d="M2726 3737l27 14 3-42-27-15z"/>
<path class="n" d="M2753 3751l20-16 4-43-21 17z"/>
<path class="t" d="M2729 3694l27 15 21-17-27-14z"/>
<path class="m" d="M2703 3755l27 15 4-50-27-15z"/>
<path class="n" d="M2730 3770l21-17 4-50-21 17z"/>
<path class="t" d="M2707 3705l27 15 21-17-27-14z"/>
<path class="m" d="M2680 3773l27 15 2-28-27-15z"/>
<path class="n" d="M2707 3788l21-17 2-28-21 17z"/>
<path class="t" d="M2682 3745l27 15 21-17-27-15zM3280 3330l24 11 14-11-24-11z"/>
<path class="n" d="M3288 3356l15-11 1-9-14 12z"/>
<path class="t" d="M3266 3337l24 11 14-12-24-10z"/>
<path class="n" d="M3272 3369l15-12 2-10-15 12z"/>
<path class="t" d="M3250 3348l24 11 15-12-24-11z"/>
<path class="m" d="M3232 3371l25 11 3-21-25-11z"/>
<path class="n" d="M3257 3382l14-12 3-20-14 11z"/>
<path class="t" d="M3235 3350l25 11 14-11-24-11z"/>
<path class="n" d="M3240 3395l15-12 3-19-15 12z"/>
<path class="t" d="M3219 3364l24 12 15-12-24-11z"/>
<path class="m" d="M3200 3397l24 11 5-33-24-11z"/>
<path class="n" d="M3224 3408l15-12 5-33-15 12z"/>
<path class="t" d="M3205 3364l24 11 15-12-24-11z"/>
<path class="n" d="M3208 3422l15-13 4-28-15 13z"/>
<path class="t" d="M3187 3382l25 12 15-13-25-11z"/>
<path class="m" d="M3166 3424l25 11 6-43-25-12z"/>
<path class="n" d="M3191 3435l15-12 7-44-16 13z"/>
<path class="t" d="M3172 3380l25 12 16-13-25-11z"/>
<path class="n" d="M3174 3449l15-13 5-33-15 12z"/>
<path class="t" d="M3154 3404l25 11 15-12-24-12z"/>
<path class="m" d="M3132 3451l25 12 7-49-25-12z"/>
<path class="n" d="M3157 3463l15-13 7-49-15 13z"/>
<path class="t" d="M3139 3402l25 12 15-13-24-12z"/>
<path class="n" d="M3139 3477l16-13 5-36-16 13z"/>
<path class="t" d="M3119 3429l25 12 16-13-25-11z"/>
<path class="m" d="M3097 3479l25 12 6-50-25-12z"/>
<path class="n" d="M3122 3491l16-13 7-50-17 13z"/>
<path class="t" d="M3103 3429l25 12 17-13-25-12z"/>
<path class="n" d="M3104 3506l16-13 5-37-17 14z"/>
<path class="t" d="M3083 3458l25 12 17-14-25-12z"/>
<path class="m" d="M3060 3508l26 13 6-51-25-12z"/>
<path class="n" d="M3086 3521l16-14 7-50-17 13z"/>
<path class="t" d="M3067 3458l25 12 17-13-25-12z"/>
<path class="n" d="M3067 3536l17-14 5-37-17 14z"/>
<path class="t" d="M3046 3487l26 12 17-14-25-12z"/>
<path class="m" d="M3023 3538l26 13 6-51-26-13z"/>
<path class="n" d="M3049 3551l17-14 6-51-17 14z"/>
<path class="t" d="M3029 3487l26 13 17-14-25-13z"/>
<path class="n" d="M3030 3566l17-14 5-37-18 14z"/>
<path class="t" d="M3009 3516l25 13 18-14-26-12z"/>
<path class="m" d="M2985 3569l26 13 6-52-26-13z"/>
<path class="n" d="M3011 3582l17-15 6-51-17 14z"/>
<path class="t" d="M2991 3517l26 13 17-14-25-13z"/>
<path class="n" d="M2991 3597l18-14 4-37-17 14z"/>
<path class="t" d="M2970 3547l26 13 17-14-25-13z"/>
<path class="m" d="M2946 3600l26 13 5-52-26-13z"/>
<path class="n" d="M2972 3613l18-14 6-52-19 14z"/>
<path class="t" d="M2951 3548l26 13 19-14-26-13z"/>
<path class="n" d="M2952 3629l18-14 4-38-18 15z"/>
<path class="t" d="M2930 3579l26 13 18-15-26-13z"/>
<path class="m" d="M2905 3632l26 14 6-53-26-13z"/>
<path class="n" d="M2931 3646l19-15 6-53-19 15z"/>
<path class="t" d="M2911 3580l26 13 19-15-26-13z"/>
<path class="n" d="M2911 3662l19-15 4-38-19 16z"/>
<path class="t" d="M2889 3611l26 14 19-16-26-13z"/>
<path class="m" d="M2864 3665l26 14 5-53-26-13z"/>
<path class="n" d="M2890 3679l19-15 6-53-20 15z"/>
<path class="t" d="M2869 3613l26 13 20-15-27-14z"/>
<path class="n" d="M2869 3696l19-15 4-38-19 15z"/>
<path class="t" d="M2846 3644l27 14 19-15-26-14z"/>
<path class="m" d="M2821 3700l27 14 4-52-26-14z"/>
<path class="n" d="M2848 3714l19-16 5-51-20 15z"/>
<path class="t" d="M2826 3648l26 14 20-15-26-14z"/>
<path class="m" d="M2799 3717l27 14 3-34-27-15z"/>
<path class="n" d="M2826 3731l20-16 3-34-20 16z"/>
<path class="t" d="M2802 3682l27 15 20-16-26-15z"/>
<path class="m" d="M2777 3735l27 14 4-44-27-14z"/>
<path class="n" d="M2804 3749l20-16 4-44-20 16z"/>
<path class="t" d="M2781 3691l27 14 20-16-27-14z"/>
<path class="m" d="M2755 3753l26 14 3-27-27-15z"/>
<path class="n" d="M2781 3767l21-16 2-28-20 17z"/>
<path class="t" d="M2757 3725l27 15 20-17-26-14z"/>
<path class="m" d="M2732 3771l27 15 2-32-26-15z"/>
<path class="n" d="M2759 3786l21-17 2-32-21 17z"/>
<path class="t" d="M2735 3739l26 15 21-17-26-15z"/>
<path class="m" d="M2709 3789l27 16 1-19-27-15z"/>
<path class="n" d="M2736 3805l21-18 1-18-21 17z"/>
<path class="t" d="M2710 3771l27 15 21-17-26-15zM3306 3343l24 11 14-12-24-10z"/>
<path class="n" d="M3315 3368l14-12 0-4-14 12z"/>
<path class="t" d="M3291 3353l24 11 14-12-24-11z"/>
<path class="n" d="M3299 3381l14-12 1-5-14 12z"/>
<path class="t" d="M3275 3365l25 11 14-12-24-11z"/>
<path class="m" d="M3259 3383l24 11 2-10-25-11z"/>
<path class="n" d="M3283 3394l15-12 1-10-14 12z"/>
<path class="t" d="M3260 3373l25 11 14-12-24-11z"/>
<path class="n" d="M3267 3407l15-12 1-10-14 12z"/>
<path class="t" d="M3244 3386l25 11 14-12-24-11z"/>
<path class="m" d="M3226 3409l25 12 2-17-24-11z"/>
<path class="n" d="M3251 3421l15-13 2-16-15 12z"/>
<path class="t" d="M3229 3393l24 11 15-12-24-12z"/>
<path class="n" d="M3234 3434l15-12 3-14-16 12z"/>
<path class="t" d="M3212 3409l24 11 16-12-25-12z"/>
<path class="m" d="M3193 3436l25 12 3-22-25-12z"/>
<path class="n" d="M3218 3448l15-13 3-22-15 13z"/>
<path class="t" d="M3196 3414l25 12 15-13-24-11z"/>
<path class="m" d="M3176 3450l25 12 2-17-25-12z"/>
<path class="n" d="M3201 3462l15-13 3-17-16 13z"/>
<path class="t" d="M3178 3433l25 12 16-13-25-12z"/>
<path class="m" d="M3159 3464l25 12 3-25-25-12z"/>
<path class="n" d="M3184 3476l15-13 4-25-16 13z"/>
<path class="t" d="M3162 3439l25 12 16-13-25-11z"/>
<path class="n" d="M3166 3490l16-13 3-18-16 13z"/>
<path class="t" d="M3144 3460l25 12 16-13-25-12z"/>
<path class="m" d="M3124 3493l25 12 3-26-25-12z"/>
<path class="n" d="M3149 3505l16-14 4-25-17 13z"/>
<path class="t" d="M3127 3467l25 12 17-13-26-12z"/>
<path class="m" d="M3106 3507l25 12 3-18-26-12z"/>
<path class="n" d="M3131 3519l16-13 3-18-16 13z"/>
<path class="t" d="M3108 3489l26 12 16-13-25-12z"/>
<path class="m" d="M3088 3522l25 12 4-25-26-13z"/>
<path class="n" d="M3113 3534l17-14 3-25-16 14z"/>
<path class="t" d="M3091 3496l26 13 16-14-25-12z"/>
<path class="n" d="M3095 3549l17-14 2-18-17 14z"/>
<path class="t" d="M3072 3518l25 13 17-14-25-12z"/>
<path class="m" d="M3051 3552l25 12 4-25-26-13z"/>
<path class="n" d="M3076 3564l17-14 4-25-17 14z"/>
<path class="t" d="M3054 3526l26 13 17-14-26-13z"/>
<path class="n" d="M3058 3580l17-14 2-19-17 14z"/>
<path class="t" d="M3034 3549l26 12 17-14-25-12z"/>
<path class="m" d="M3013 3583l26 13 3-26-26-13z"/>
<path class="n" d="M3039 3596l17-15 3-26-17 15z"/>
<path class="t" d="M3016 3557l26 13 17-15-25-12z"/>
<path class="n" d="M3019 3612l18-15 2-19-17 15z"/>
<path class="t" d="M2996 3580l26 13 17-15-26-13z"/>
<path class="m" d="M2974 3614l26 14 3-26-26-14z"/>
<path class="n" d="M3000 3628l18-15 3-26-18 15z"/>
<path class="t" d="M2977 3588l26 14 18-15-26-13z"/>
<path class="n" d="M2980 3644l18-15 2-19-18 15z"/>
<path class="t" d="M2956 3612l26 13 18-15-26-13z"/>
<path class="m" d="M2934 3647l26 14 3-27-27-13z"/>
<path class="n" d="M2960 3661l18-16 3-26-18 15z"/>
<path class="t" d="M2936 3621l27 13 18-15-26-13z"/>
<path class="m" d="M2913 3664l26 13 2-19-26-13z"/>
<path class="n" d="M2939 3677l19-15 2-19-19 15z"/>
<path class="t" d="M2915 3645l26 13 19-15-26-14z"/>
<path class="m" d="M2892 3681l27 13 3-26-27-14z"/>
<path class="n" d="M2919 3694l19-15 3-27-19 16z"/>
<path class="t" d="M2895 3654l27 14 19-16-27-13z"/>
<path class="n" d="M2898 3712l19-16 2-19-19 16z"/>
<path class="t" d="M2873 3679l27 14 19-16-26-14z"/>
<path class="m" d="M2850 3715l26 14 3-25-27-15z"/>
<path class="n" d="M2876 3729l20-16 3-26-20 17z"/>
<path class="t" d="M2852 3689l27 15 20-17-27-14z"/>
<path class="m" d="M2828 3733l27 14 2-17-27-15z"/>
<path class="n" d="M2855 3747l20-16 1-18-19 17z"/>
<path class="t" d="M2830 3715l27 15 19-17-26-14z"/>
<path class="m" d="M2806 3751l27 14 2-22-27-14z"/>
<path class="n" d="M2833 3765l20-16 2-22-20 16z"/>
<path class="t" d="M2808 3729l27 14 20-16-27-15z"/>
<path class="n" d="M2811 3784l20-17 1-14-20 17z"/>
<path class="t" d="M2785 3755l27 15 20-17-26-15z"/>
<path class="m" d="M2761 3787l27 15 2-16-28-15z"/>
<path class="n" d="M2788 3802l21-17 1-16-20 17z"/>
<path class="t" d="M2762 3771l28 15 20-17-27-15z"/>
<path class="m" d="M2738 3806l27 15 1-9-27-15z"/>
<path class="n" d="M2765 3821l21-17 1-10-21 18z"/>
<path class="t" d="M2739 3797l27 15 21-18-27-15zM3332 3356l24 11 14-12-24-11zM3317 3368l24 11 14-12-24-11zM3301 3380l25 12 14-12-24-11z"/>
<path class="n" d="M3310 3406l14-12 1-3-15 12z"/>
<path class="t" d="M3286 3392l24 11 15-12-25-11z"/>
<path class="n" d="M3294 3419l14-12 1-3-15 13z"/>
<path class="t" d="M3270 3405l24 12 15-13-25-11z"/>
<path class="m" d="M3253 3422l25 11 0-5-24-11z"/>
<path class="n" d="M3278 3433l15-12 0-5-15 12z"/>
<path class="t" d="M3254 3417l24 11 15-12-24-11z"/>
<path class="n" d="M3261 3447l15-13 1-4-15 13z"/>
<path class="t" d="M3237 3431l25 12 15-13-25-11z"/>
<path class="m" d="M3220 3449l25 12 1-7-25-11z"/>
<path class="n" d="M3245 3461l15-13 1-6-15 12z"/>
<path class="t" d="M3221 3443l25 11 15-12-25-12z"/>
<path class="n" d="M3228 3475l15-13 1-5-15 13z"/>
<path class="t" d="M3204 3458l25 12 15-13-25-12z"/>
<path class="m" d="M3186 3477l25 12 1-7-25-12z"/>
<path class="n" d="M3211 3489l16-13 1-7-16 13z"/>
<path class="t" d="M3187 3470l25 12 16-13-25-12z"/>
<path class="n" d="M3194 3503l16-13 0-5-15 13z"/>
<path class="t" d="M3169 3486l26 12 15-13-25-12z"/>
<path class="m" d="M3151 3506l25 12 1-7-25-12z"/>
<path class="n" d="M3176 3518l16-14 2-7-17 14z"/>
<path class="t" d="M3152 3499l25 12 17-14-26-12z"/>
<path class="n" d="M3159 3533l16-14 1-5-17 14z"/>
<path class="t" d="M3134 3515l25 13 17-14-26-12z"/>
<path class="m" d="M3115 3535l26 13 1-7-26-13z"/>
<path class="n" d="M3141 3548l16-14 1-7-16 14z"/>
<path class="t" d="M3116 3528l26 13 16-14-25-12z"/>
<path class="n" d="M3123 3563l16-14 1-5-17 14z"/>
<path class="t" d="M3098 3545l25 13 17-14-25-13z"/>
<path class="m" d="M3079 3566l25 12 1-7-26-13z"/>
<path class="n" d="M3104 3578l17-14 1-7-17 14z"/>
<path class="t" d="M3079 3558l26 13 17-14-25-13z"/>
<path class="n" d="M3086 3594l17-14 1-6-18 15z"/>
<path class="t" d="M3060 3576l26 13 18-15-26-12z"/>
<path class="m" d="M3041 3597l26 13 1-7-26-13z"/>
<path class="n" d="M3067 3610l17-15 1-7-17 15z"/>
<path class="t" d="M3042 3590l26 13 17-15-26-13z"/>
<path class="n" d="M3048 3626l17-15 1-5-18 15z"/>
<path class="t" d="M3022 3607l26 14 18-15-26-13z"/>
<path class="m" d="M3002 3629l26 13 1-7-26-13z"/>
<path class="n" d="M3028 3642l18-15 1-7-18 15z"/>
<path class="t" d="M3003 3622l26 13 18-15-26-13z"/>
<path class="n" d="M3008 3659l19-15 0-6-18 15z"/>
<path class="t" d="M2983 3640l26 13 18-15-26-13z"/>
<path class="m" d="M2962 3662l26 14 1-8-26-14z"/>
<path class="n" d="M2988 3676l19-16 1-7-19 15z"/>
<path class="t" d="M2963 3654l26 14 19-15-27-14z"/>
<path class="n" d="M2968 3693l19-16 0-5-18 15z"/>
<path class="t" d="M2942 3673l27 14 18-15-26-14z"/>
<path class="m" d="M2921 3696l27 14 0-8-26-14z"/>
<path class="n" d="M2948 3710l19-16 0-7-19 15z"/>
<path class="t" d="M2922 3688l26 14 19-15-26-14z"/>
<path class="n" d="M2927 3727l19-16 1-5-20 16z"/>
<path class="t" d="M2901 3708l26 14 20-16-27-14z"/>
<path class="m" d="M2879 3731l27 14 0-7-27-15z"/>
<path class="n" d="M2906 3745l19-16 1-8-20 17z"/>
<path class="t" d="M2879 3723l27 15 20-17-27-14z"/>
<path class="n" d="M2884 3763l20-17 0-4-19 16z"/>
<path class="t" d="M2858 3744l27 14 19-16-26-15z"/>
<path class="m" d="M2835 3766l27 15 1-6-27-15z"/>
<path class="n" d="M2862 3781l20-17 1-6-20 17z"/>
<path class="t" d="M2836 3760l27 15 20-17-27-14z"/>
<path class="n" d="M2840 3800l21-17 0-4-20 17z"/>
<path class="t" d="M2813 3781l28 15 20-17-27-15z"/>
<path class="m" d="M2790 3804l28 15 0-5-27-15z"/>
<path class="n" d="M2818 3819l20-18 1-4-21 17z"/>
<path class="t" d="M2791 3799l27 15 21-17-27-15z"/>
<path class="m" d="M2768 3822l27 16 0-3-27-15z"/>
<path class="n" d="M2795 3838l21-18 0-2-21 17z"/>
<path class="t" d="M2768 3820l27 15 21-17-27-16zM3358 3368l25 11 14-12-25-11zM3343 3381l25 11 14-12-25-11zM3328 3394l24 11 14-12-24-11zM3312 3407l25 11 14-12-25-11zM3296 3420l25 12 14-13-24-11zM3280 3434l25 12 15-13-25-11zM3264 3448l25 11 15-12-25-12zM3247 3462l25 11 15-13-25-11zM3230 3476l26 12 15-13-25-12zM3213 3490l26 12 15-13-25-12zM3196 3504l26 13 15-14-25-12zM3179 3519l25 12 16-13-25-12zM3161 3534l26 12 16-14-26-12zM3143 3549l26 12 16-14-25-12zM3125 3564l26 13 16-14-25-13zM3107 3579l26 13 16-14-26-13zM3088 3595l26 13 17-14-26-13zM3069 3611l26 13 18-15-27-13zM3050 3627l26 13 18-15-26-13zM3030 3643l27 14 18-15-27-14zM3011 3660l26 14 18-16-26-13zM2991 3677l26 14 19-16-27-14zM2971 3694l26 14 19-16-27-14zM2950 3711l27 14 19-16-27-14zM2929 3728l27 15 19-16-27-15zM2908 3746l27 15 19-17-27-14zM2886 3764l28 15 19-17-27-14zM2865 3783l27 15 20-18-27-14zM2843 3801l27 15 20-17-27-15zM2820 3820l28 15 20-17-27-15zM2797 3839l28 16 21-18-28-15zM3385 3380l25 11 14-12-25-11zM3370 3393l25 11 14-12-25-11zM3354 3406l25 11 14-12-24-11zM3339 3419l25 12 14-13-25-11zM3323 3433l25 11 15-12-25-12zM3307 3447l25 11 15-13-25-11zM3291 3460l25 12 15-13-25-11zM3274 3474l26 12 15-13-26-11zM3258 3489l25 12 15-14-25-11zM3241 3503l25 12 16-13-26-12zM3224 3518l25 12 16-14-25-12zM3206 3532l26 13 16-14-26-12zM3189 3547l26 13 16-14-26-12zM3171 3563l26 12 16-14-25-12zM3153 3578l26 13 17-15-26-12zM3135 3594l26 13 17-15-26-13zM3116 3609l27 13 17-14-27-13zM3098 3625l26 14 17-15-26-13zM3078 3642l27 13 17-15-26-13zM3059 3658l27 14 18-16-27-13zM3040 3675l26 14 18-16-26-14zM3020 3692l27 14 18-16-27-14zM3000 3709l27 14 18-16-27-14zM2979 3726l27 15 19-16-27-15zM2958 3744l28 15 19-17-28-14zM2937 3762l28 15 19-17-27-14zM2916 3780l27 15 20-17-27-14zM2894 3799l28 15 20-17-28-15zM2872 3818l28 15 20-18-27-15zM2850 3837l28 15 20-18-27-15zM2827 3856l28 16 21-18-28-16zM3412 3392l25 11 13-12-24-11zM3397 3405l25 11 14-12-25-11zM3381 3418l26 12 14-13-25-11zM3366 3432l25 11 14-12-25-12zM3350 3445l26 12 14-13-25-11zM3334 3459l26 12 14-13-25-12zM3318 3473l26 12 14-13-25-12zM3302 3487l26 12 14-13-25-12zM3285 3502l26 12 15-14-25-12zM3269 3516l25 12 16-13-26-12zM3252 3531l26 12 15-13-26-13zM3235 3546l26 12 15-13-26-13zM3217 3561l26 13 16-14-26-13zM3199 3576l27 13 16-14-26-13zM3181 3592l27 13 16-15-26-12zM3163 3608l27 13 16-15-26-13zM3145 3624l26 13 17-15-26-13zM3126 3640l27 13 17-15-27-13zM3107 3656l27 14 17-15-26-14zM3088 3673l27 14 18-16-27-13zM3069 3690l27 14 18-16-27-14zM3049 3707l27 14 18-16-27-14zM3029 3724l27 15 18-17-27-14zM3009 3742l27 14 19-16-28-14zM2988 3760l27 15 19-17-27-15zM2967 3778l28 15 19-17-28-15zM2946 3796l27 15 20-17-28-14zM2924 3815l28 15 20-17-28-15zM2902 3834l28 16 20-18-27-15zM2880 3853l28 16 21-18-28-15zM2858 3873l28 16 20-18-28-16zM3439 3404l25 11 14-12-25-11zM3424 3417l25 12 14-13-25-11zM3409 3431l25 11 14-12-25-12zM3393 3444l26 12 14-13-25-11zM3378 3458l25 12 14-13-25-12zM3362 3472l26 12 14-13-25-12zM3346 3486l26 12 14-13-25-12zM3330 3500l26 12 14-13-25-12zM3313 3515l26 12 15-13-26-12zM3297 3530l26 12 15-14-26-12zM3280 3544l26 13 15-14-26-12zM3263 3560l26 12 16-14-26-12zM3245 3575l27 13 16-15-27-12zM3228 3590l26 13 16-14-26-13zM3210 3606l27 13 16-15-26-12zM3192 3622l27 13 16-15-26-13zM3174 3638l27 13 16-15-26-13zM3155 3654l27 14 17-15-27-14zM3136 3671l27 14 18-16-27-13zM3117 3688l28 14 17-16-27-14zM3098 3705l27 14 18-16-27-14zM3078 3722l28 15 18-17-28-14zM3059 3740l27 14 18-16-27-14zM3038 3758l28 14 18-16-27-15zM3018 3776l28 15 18-17-27-15zM2997 3794l28 15 19-17-28-15zM2976 3813l28 15 19-17-28-15zM2954 3832l29 15 19-18-28-15zM2933 3851l28 15 20-17-28-16zM2911 3870l28 16 20-18-28-16zM2888 3890l29 16 20-18-28-16zM3466 3416l25 11 14-12-25-11zM3451 3430l26 11 13-12-25-12zM3436 3443l26 12 13-13-25-11zM3421 3457l26 11 13-12-25-12zM3405 3471l26 11 14-12-25-12zM3390 3485l26 12 14-13-26-12zM3374 3499l26 12 14-13-25-12zM3358 3513l26 13 15-14-26-12zM3342 3528l26 12 15-13-26-12zM3325 3543l26 12 15-13-26-13zM3308 3558l27 13 15-14-26-13zM3291 3573l27 13 15-14-26-13zM3274 3589l27 13 15-15-26-13zM3257 3604l26 13 16-14-26-13zM3239 3620l27 13 16-14-27-13zM3221 3636l27 14 16-15-26-14zM3203 3653l27 13 17-15-27-13zM3185 3669l27 14 17-16-28-13zM3166 3686l27 14 17-16-27-13zM3147 3703l27 14 18-16-28-14zM3128 3720l27 14 18-16-28-14zM3108 3738l28 14 18-16-28-14zM3088 3756l28 14 18-16-27-15zM3068 3774l28 14 19-16-28-15zM3048 3792l28 15 19-17-28-15zM3027 3810l28 16 19-18-28-15zM3006 3829l28 16 20-18-28-15zM2985 3848l28 16 20-18-28-15zM2963 3868l29 16 20-19-29-15zM2941 3888l29 15 20-18-28-16zM2919 3908l29 16 20-19-28-16zM3494 3428l25 12 13-13-25-11zM3479 3442l25 11 14-12-26-12zM3464 3456l26 11 13-12-25-12zM3449 3469l26 12 13-13-25-11zM3433 3484l26 11 14-13-25-11zM3418 3498l26 12 14-13-26-12zM3402 3512l26 12 15-13-26-12zM3386 3527l26 12 15-14-26-12zM3370 3542l26 12 15-14-26-12zM3354 3557l26 12 15-14-26-12zM3337 3572l26 12 16-14-27-12zM3320 3587l27 13 15-14-26-13zM3303 3603l27 13 15-15-26-13zM3286 3619l27 13 15-15-26-13zM3268 3635l27 13 16-15-27-13zM3250 3651l28 13 16-15-27-13zM3232 3667l28 14 16-15-27-14zM3214 3684l27 14 17-16-27-13zM3195 3701l28 14 17-16-27-14zM3177 3718l27 14 17-16-27-14zM3158 3736l27 14 18-16-28-14zM3138 3753l28 15 18-17-28-14zM3119 3771l28 15 17-17-27-14zM3099 3790l28 14 18-17-28-14zM3078 3808l29 15 18-17-28-15zM3058 3827l28 15 19-17-28-15zM3037 3846l28 15 20-17-29-16zM3016 3865l28 16 20-18-29-16zM2994 3885l29 16 20-19-29-15zM2972 3905l29 16 20-19-28-15zM2950 3925l29 16 21-18-29-17zM3521 3441l26 11 13-12-25-12zM3507 3454l25 12 14-13-26-11zM3492 3468l26 12 13-13-26-11zM3477 3482l26 12 13-13-25-12zM3462 3496l26 12 14-13-26-12zM3446 3511l26 12 14-13-26-12zM3430 3525l27 13 14-14-26-12zM3415 3540l26 12 15-13-27-12zM3399 3555l26 13 15-14-27-13zM3382 3570l27 13 15-14-27-13zM3366 3586l27 12 15-14-27-13zM3349 3601l27 13 15-14-27-13zM3332 3617l27 13 16-15-27-13zM3315 3633l27 13 16-15-27-13zM3298 3649l27 13 16-15-27-13zM3280 3665l27 14 16-15-27-14zM3262 3682l27 14 17-16-28-13zM3244 3699l27 14 17-16-27-14zM3225 3716l28 14 17-16-28-14zM3207 3734l28 14 17-16-28-14zM3188 3751l28 15 17-17-28-14zM3168 3769l29 15 17-17-28-14zM3149 3787l28 15 18-17-28-14zM3129 3806l29 15 18-17-29-15zM3109 3824l29 16 18-18-28-15zM3089 3843l28 16 19-18-29-15zM3068 3863l29 15 19-18-29-15zM3047 3882l29 16 19-18-29-16zM3026 3902l29 16 19-18-29-16zM3004 3922l29 17 20-19-29-16zM2982 3943l29 16 20-19-29-16zM3549 3453l26 12 13-13-26-11zM3535 3467l26 12 13-13-26-12zM3520 3481l26 12 13-13-25-12zM3505 3495l26 12 14-13-26-12zM3490 3509l26 13 14-14-26-12zM3475 3524l26 12 14-13-26-12zM3459 3539l27 12 14-14-27-12zM3443 3554l27 12 14-14-26-12zM3427 3569l27 12 15-14-27-12zM3411 3584l27 13 15-15-27-12zM3395 3599l27 13 15-14-27-13zM3378 3615l27 13 16-14-27-13zM3362 3631l27 13 15-14-27-14zM3344 3647l28 14 15-15-27-14zM3327 3664l28 13 15-15-27-13zM3310 3680l27 14 16-15-27-14zM3292 3697l28 14 16-16-28-13zM3274 3714l28 14 16-16-28-14zM3256 3732l28 14 16-16-28-14zM3237 3749l28 14 17-16-28-14zM3218 3767l28 15 18-17-29-14zM3199 3785l28 15 18-17-28-15zM3180 3803l28 15 18-17-28-15zM3160 3822l29 15 18-17-29-15zM3140 3841l29 15 18-17-29-15zM3120 3860l29 16 18-18-29-16zM3099 3880l29 15 19-18-29-15zM3078 3899l29 16 20-18-29-16zM3057 3920l29 16 20-19-29-16zM3036 3940l29 16 20-19-30-16zM3014 3961l29 16 20-19-29-16zM3577 3466l26 11 13-12-26-12zM3563 3480l26 12 13-13-26-12zM3548 3494l27 12 13-13-26-12zM3534 3508l26 12 13-13-26-12zM3519 3523l26 12 14-14-27-12zM3503 3537l27 13 14-14-27-12zM3488 3552l27 13 14-14-27-13zM3472 3567l27 13 14-14-26-13zM3457 3582l27 13 14-14-27-13zM3441 3598l27 13 14-15-27-12zM3424 3613l28 14 14-15-27-13zM3408 3629l27 14 15-15-27-13zM3391 3645l28 14 15-15-27-13zM3374 3662l28 13 15-15-27-13zM3357 3678l28 14 16-15-28-14zM3340 3695l28 14 15-16-27-13zM3322 3712l28 14 16-16-28-13zM3304 3729l28 15 17-16-28-14zM3286 3747l28 14 17-16-28-14zM3268 3765l28 14 17-16-28-15zM3249 3783l28 14 17-16-28-15zM3230 3801l29 15 17-17-29-15zM3211 3820l28 15 18-18-29-14zM3191 3838l29 16 18-18-29-15zM3171 3858l29 15 18-18-28-15zM3151 3877l29 16 19-18-29-16zM3131 3897l29 16 19-19-29-15zM3110 3917l29 16 19-19-29-16zM3089 3937l29 16 20-18-30-17zM3067 3958l30 16 20-19-30-16zM3046 3979l30 17 19-20-29-17z"/>
<g class="tk"><text x="2145" y="3601" font-size="58" text-anchor="middle">0</text><text x="2388" y="3743" font-size="58" text-anchor="middle">10</text><text x="2688" y="3914" font-size="58" text-anchor="middle">20</text><text x="2996" y="4090" font-size="58" text-anchor="middle">30</text><text x="3133" y="4098" font-size="58" text-anchor="middle">0</text><text x="3351" y="3893" font-size="58" text-anchor="middle">10</text><text x="3522" y="3705" font-size="58" text-anchor="middle">20</text><text x="3672" y="3555" font-size="58" text-anchor="middle">30</text><text x="2153" y="2520" font-size="58" text-anchor="end">0.10</text><text x="2153" y="3084" font-size="58" text-anchor="end">0.05</text><text x="2153" y="3563" font-size="58" text-anchor="end">0.00</text></g>
</g>
</g>
<g><text x="20" y="102" font-size="122" text-anchor="start" textLength="776" lengthAdjust="spacingAndGlyphs">a) Input State</text>
<text x="1760" y="104" font-size="122" text-anchor="start" textLength="1540" lengthAdjust="spacingAndGlyphs">b) Output - Single Channel</text>
<text x="26" y="2119" font-size="122" text-anchor="start" textLength="1440" lengthAdjust="spacingAndGlyphs">c) Output - Entanglement</text>
<text x="166" y="2261" font-size="122" text-anchor="start" textLength="770" lengthAdjust="spacingAndGlyphs">Based QECC</text>
<text x="2083" y="2119" font-size="122" text-anchor="start" textLength="1482" lengthAdjust="spacingAndGlyphs" xml:space="preserve">d) Output -  Entanglement</text>
<text x="2240" y="2261" font-size="122" text-anchor="start" textLength="670" lengthAdjust="spacingAndGlyphs">Free QECC</text>
<text x="3070" y="493" font-size="145" text-anchor="start" textLength="580" lengthAdjust="spacingAndGlyphs">F = 0.75</text>
<text x="1152" y="2607" font-size="145" text-anchor="start" textLength="588" lengthAdjust="spacingAndGlyphs">F = 0.82</text>
<text x="2914" y="2806" font-size="145" text-anchor="start" textLength="580" lengthAdjust="spacingAndGlyphs">F = 0.77</text>
<text x="529" y="1554" font-size="108" text-anchor="middle">n</text>
<text x="1505" y="1611" font-size="108" text-anchor="middle">m</text>
<text transform="translate(108 644) rotate(-90)" font-size="108" text-anchor="middle" textLength="391" lengthAdjust="spacingAndGlyphs">|p(n,m)|</text>
<text x="2341" y="1637" font-size="108" text-anchor="middle">n</text>
<text x="3353" y="1654" font-size="108" text-anchor="middle">m</text>
<text transform="translate(1954 734) rotate(-90)" font-size="108" text-anchor="middle" textLength="378" lengthAdjust="spacingAndGlyphs">|p(n,m)|</text>
<text x="621" y="3837" font-size="108" text-anchor="middle">n</text>
<text x="1575" y="3914" font-size="108" text-anchor="middle">m</text>
<text transform="translate(210 3070) rotate(-90)" font-size="108" text-anchor="middle" textLength="393" lengthAdjust="spacingAndGlyphs">|p(n,m)|</text>
<text x="2474" y="3922" font-size="108" text-anchor="middle">n</text>
<text x="3458" y="3871" font-size="108" text-anchor="middle">m</text>
<text transform="translate(1982 3058) rotate(-90)" font-size="108" text-anchor="middle" textLength="390" lengthAdjust="spacingAndGlyphs">|p(n,m)|</text></g>
</svg>
</body></html>
